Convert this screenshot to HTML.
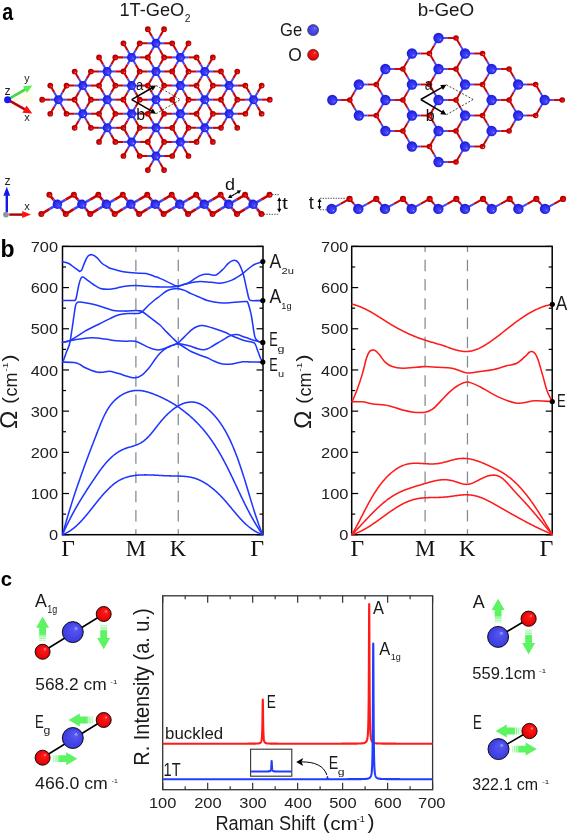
<!DOCTYPE html><html><head><meta charset="utf-8"><title>GeO2 / GeO phonons</title>
<style>html,body{margin:0;padding:0;background:#fff;}svg{display:block;}</style></head><body>
<svg width="569" height="834" viewBox="0 0 569 834">
<defs>
<radialGradient id="ge" cx="0.5" cy="0.5" r="0.5" fx="0.7" fy="0.7">
<stop offset="0" stop-color="#e8e8ff"/><stop offset="0.14" stop-color="#4a4aff"/><stop offset="0.6" stop-color="#3030f2"/><stop offset="1" stop-color="#1c1cc8"/></radialGradient>
<radialGradient id="ox" cx="0.5" cy="0.5" r="0.5" fx="0.68" fy="0.68">
<stop offset="0" stop-color="#ffa0a0"/><stop offset="0.16" stop-color="#e81818"/><stop offset="0.6" stop-color="#d00000"/><stop offset="1" stop-color="#9a0000"/></radialGradient>
<radialGradient id="geL" cx="0.5" cy="0.5" r="0.5" fx="0.5" fy="0.35">
<stop offset="0" stop-color="#8080ff"/><stop offset="0.45" stop-color="#4a4aff"/><stop offset="1" stop-color="#2a2ae0"/></radialGradient>
<radialGradient id="oxL" cx="0.5" cy="0.5" r="0.5" fx="0.5" fy="0.35">
<stop offset="0" stop-color="#ff6060"/><stop offset="0.45" stop-color="#ee0a0a"/><stop offset="1" stop-color="#c00000"/></radialGradient>
<radialGradient id="geC" cx="0.5" cy="0.5" r="0.5" fx="0.68" fy="0.3">
<stop offset="0" stop-color="#b0b0ff"/><stop offset="0.2" stop-color="#5555ee"/><stop offset="1" stop-color="#3a3ae0"/></radialGradient>
<radialGradient id="oxC" cx="0.5" cy="0.5" r="0.5" fx="0.68" fy="0.3">
<stop offset="0" stop-color="#ffb0b0"/><stop offset="0.2" stop-color="#ff1a1a"/><stop offset="1" stop-color="#e00000"/></radialGradient>
</defs>
<rect x="0" y="0" width="569" height="834" fill="#fff"/>
<text transform="translate(2.32,19.67) scale(0.8428,1)" font-size="23.36" font-family='"Liberation Sans", "DejaVu Sans", sans-serif' font-weight="bold" fill="#000">a</text>
<text transform="translate(119.41,15.82) scale(1.0086,1)" font-size="18.08" font-family='"Liberation Sans", "DejaVu Sans", sans-serif' font-weight="normal" fill="#1a1a1a">1T-GeO</text>
<text transform="translate(184.68,22.2) scale(1.0005,1)" font-size="10.31" font-family='"Liberation Sans", "DejaVu Sans", sans-serif' font-weight="normal" fill="#1a1a1a">2</text>
<text transform="translate(417.68,15.71) scale(0.9826,1)" font-size="19.20" font-family='"Liberation Sans", "DejaVu Sans", sans-serif' font-weight="normal" fill="#1a1a1a">b-GeO</text>
<text transform="translate(280.06,36.02) scale(0.9053,1)" font-size="18.36" font-family='"Liberation Sans", "DejaVu Sans", sans-serif' font-weight="normal" fill="#1a1a1a">Ge</text>
<text transform="translate(288.37,60.52) scale(0.9211,1)" font-size="18.93" font-family='"Liberation Sans", "DejaVu Sans", sans-serif' font-weight="normal" fill="#1a1a1a">O</text>
<circle cx="313.1" cy="30.1" r="5.5" fill="url(#geC)" stroke="#222" stroke-width="0.6"/>
<circle cx="313.1" cy="54.8" r="5.5" fill="url(#oxC)" stroke="#222" stroke-width="0.6"/>
<line x1="58.39" y1="99.65" x2="66.52" y2="99.65" stroke="#4444ff" stroke-width="2.05" />
<line x1="66.52" y1="99.65" x2="74.65" y2="99.65" stroke="#cc0000" stroke-width="2.05" />
<line x1="58.39" y1="99.65" x2="62.45" y2="106.69" stroke="#4444ff" stroke-width="2.05" />
<line x1="62.45" y1="106.69" x2="66.52" y2="113.73" stroke="#cc0000" stroke-width="2.05" />
<line x1="58.39" y1="99.65" x2="54.32" y2="106.69" stroke="#4444ff" stroke-width="2.05" />
<line x1="54.32" y1="106.69" x2="50.26" y2="113.73" stroke="#cc0000" stroke-width="2.05" />
<line x1="58.39" y1="99.65" x2="50.26" y2="99.65" stroke="#4444ff" stroke-width="2.05" />
<line x1="50.26" y1="99.65" x2="42.13" y2="99.65" stroke="#cc0000" stroke-width="2.05" />
<line x1="58.39" y1="99.65" x2="54.32" y2="92.61" stroke="#4444ff" stroke-width="2.05" />
<line x1="54.32" y1="92.61" x2="50.26" y2="85.57" stroke="#cc0000" stroke-width="2.05" />
<line x1="58.39" y1="99.65" x2="62.45" y2="92.61" stroke="#4444ff" stroke-width="2.05" />
<line x1="62.45" y1="92.61" x2="66.52" y2="85.57" stroke="#cc0000" stroke-width="2.05" />
<line x1="82.78" y1="113.74" x2="90.91" y2="113.74" stroke="#4444ff" stroke-width="2.05" />
<line x1="90.91" y1="113.74" x2="99.04" y2="113.74" stroke="#cc0000" stroke-width="2.05" />
<line x1="82.78" y1="113.74" x2="86.84" y2="120.78" stroke="#4444ff" stroke-width="2.05" />
<line x1="86.84" y1="120.78" x2="90.91" y2="127.82" stroke="#cc0000" stroke-width="2.05" />
<line x1="82.78" y1="113.74" x2="78.71" y2="120.78" stroke="#4444ff" stroke-width="2.05" />
<line x1="78.71" y1="120.78" x2="74.65" y2="127.82" stroke="#cc0000" stroke-width="2.05" />
<line x1="82.78" y1="113.74" x2="74.65" y2="113.74" stroke="#4444ff" stroke-width="2.05" />
<line x1="74.65" y1="113.74" x2="66.52" y2="113.73" stroke="#cc0000" stroke-width="2.05" />
<line x1="82.78" y1="113.74" x2="78.71" y2="106.7" stroke="#4444ff" stroke-width="2.05" />
<line x1="78.71" y1="106.7" x2="74.65" y2="99.65" stroke="#cc0000" stroke-width="2.05" />
<line x1="82.78" y1="113.74" x2="86.84" y2="106.7" stroke="#4444ff" stroke-width="2.05" />
<line x1="86.84" y1="106.7" x2="90.91" y2="99.66" stroke="#cc0000" stroke-width="2.05" />
<line x1="107.17" y1="127.83" x2="115.3" y2="127.83" stroke="#4444ff" stroke-width="2.05" />
<line x1="115.3" y1="127.83" x2="123.43" y2="127.83" stroke="#cc0000" stroke-width="2.05" />
<line x1="107.17" y1="127.83" x2="111.23" y2="134.87" stroke="#4444ff" stroke-width="2.05" />
<line x1="111.23" y1="134.87" x2="115.3" y2="141.91" stroke="#cc0000" stroke-width="2.05" />
<line x1="107.17" y1="127.83" x2="103.1" y2="134.87" stroke="#4444ff" stroke-width="2.05" />
<line x1="103.1" y1="134.87" x2="99.04" y2="141.91" stroke="#cc0000" stroke-width="2.05" />
<line x1="107.17" y1="127.83" x2="99.04" y2="127.83" stroke="#4444ff" stroke-width="2.05" />
<line x1="99.04" y1="127.83" x2="90.91" y2="127.82" stroke="#cc0000" stroke-width="2.05" />
<line x1="107.17" y1="127.83" x2="103.1" y2="120.79" stroke="#4444ff" stroke-width="2.05" />
<line x1="103.1" y1="120.79" x2="99.04" y2="113.74" stroke="#cc0000" stroke-width="2.05" />
<line x1="107.17" y1="127.83" x2="111.23" y2="120.79" stroke="#4444ff" stroke-width="2.05" />
<line x1="111.23" y1="120.79" x2="115.3" y2="113.75" stroke="#cc0000" stroke-width="2.05" />
<line x1="131.56" y1="141.92" x2="139.69" y2="141.92" stroke="#4444ff" stroke-width="2.05" />
<line x1="139.69" y1="141.92" x2="147.82" y2="141.92" stroke="#cc0000" stroke-width="2.05" />
<line x1="131.56" y1="141.92" x2="135.62" y2="148.96" stroke="#4444ff" stroke-width="2.05" />
<line x1="135.62" y1="148.96" x2="139.69" y2="156" stroke="#cc0000" stroke-width="2.05" />
<line x1="131.56" y1="141.92" x2="127.5" y2="148.96" stroke="#4444ff" stroke-width="2.05" />
<line x1="127.5" y1="148.96" x2="123.43" y2="156" stroke="#cc0000" stroke-width="2.05" />
<line x1="131.56" y1="141.92" x2="123.43" y2="141.92" stroke="#4444ff" stroke-width="2.05" />
<line x1="123.43" y1="141.92" x2="115.3" y2="141.91" stroke="#cc0000" stroke-width="2.05" />
<line x1="131.56" y1="141.92" x2="127.5" y2="134.88" stroke="#4444ff" stroke-width="2.05" />
<line x1="127.5" y1="134.88" x2="123.43" y2="127.83" stroke="#cc0000" stroke-width="2.05" />
<line x1="131.56" y1="141.92" x2="135.62" y2="134.88" stroke="#4444ff" stroke-width="2.05" />
<line x1="135.62" y1="134.88" x2="139.69" y2="127.84" stroke="#cc0000" stroke-width="2.05" />
<line x1="155.95" y1="156.01" x2="164.08" y2="156.01" stroke="#4444ff" stroke-width="2.05" />
<line x1="164.08" y1="156.01" x2="172.21" y2="156.01" stroke="#cc0000" stroke-width="2.05" />
<line x1="155.95" y1="156.01" x2="160.01" y2="163.05" stroke="#4444ff" stroke-width="2.05" />
<line x1="160.01" y1="163.05" x2="164.08" y2="170.09" stroke="#cc0000" stroke-width="2.05" />
<line x1="155.95" y1="156.01" x2="151.88" y2="163.05" stroke="#4444ff" stroke-width="2.05" />
<line x1="151.88" y1="163.05" x2="147.82" y2="170.09" stroke="#cc0000" stroke-width="2.05" />
<line x1="155.95" y1="156.01" x2="147.82" y2="156.01" stroke="#4444ff" stroke-width="2.05" />
<line x1="147.82" y1="156.01" x2="139.69" y2="156" stroke="#cc0000" stroke-width="2.05" />
<line x1="155.95" y1="156.01" x2="151.88" y2="148.97" stroke="#4444ff" stroke-width="2.05" />
<line x1="151.88" y1="148.97" x2="147.82" y2="141.92" stroke="#cc0000" stroke-width="2.05" />
<line x1="155.95" y1="156.01" x2="160.01" y2="148.97" stroke="#4444ff" stroke-width="2.05" />
<line x1="160.01" y1="148.97" x2="164.08" y2="141.93" stroke="#cc0000" stroke-width="2.05" />
<line x1="82.78" y1="85.56" x2="90.91" y2="85.56" stroke="#4444ff" stroke-width="2.05" />
<line x1="90.91" y1="85.56" x2="99.04" y2="85.56" stroke="#cc0000" stroke-width="2.05" />
<line x1="82.78" y1="85.56" x2="86.84" y2="92.61" stroke="#4444ff" stroke-width="2.05" />
<line x1="86.84" y1="92.61" x2="90.91" y2="99.66" stroke="#cc0000" stroke-width="2.05" />
<line x1="82.78" y1="85.56" x2="78.72" y2="92.61" stroke="#4444ff" stroke-width="2.05" />
<line x1="78.72" y1="92.61" x2="74.65" y2="99.65" stroke="#cc0000" stroke-width="2.05" />
<line x1="82.78" y1="85.56" x2="74.65" y2="85.56" stroke="#4444ff" stroke-width="2.05" />
<line x1="74.65" y1="85.56" x2="66.52" y2="85.57" stroke="#cc0000" stroke-width="2.05" />
<line x1="82.78" y1="85.56" x2="78.72" y2="78.52" stroke="#4444ff" stroke-width="2.05" />
<line x1="78.72" y1="78.52" x2="74.65" y2="71.48" stroke="#cc0000" stroke-width="2.05" />
<line x1="82.78" y1="85.56" x2="86.84" y2="78.52" stroke="#4444ff" stroke-width="2.05" />
<line x1="86.84" y1="78.52" x2="90.91" y2="71.48" stroke="#cc0000" stroke-width="2.05" />
<line x1="107.17" y1="99.65" x2="115.3" y2="99.65" stroke="#4444ff" stroke-width="2.05" />
<line x1="115.3" y1="99.65" x2="123.43" y2="99.65" stroke="#cc0000" stroke-width="2.05" />
<line x1="107.17" y1="99.65" x2="111.23" y2="106.7" stroke="#4444ff" stroke-width="2.05" />
<line x1="111.23" y1="106.7" x2="115.3" y2="113.75" stroke="#cc0000" stroke-width="2.05" />
<line x1="107.17" y1="99.65" x2="103.1" y2="106.7" stroke="#4444ff" stroke-width="2.05" />
<line x1="103.1" y1="106.7" x2="99.04" y2="113.74" stroke="#cc0000" stroke-width="2.05" />
<line x1="107.17" y1="99.65" x2="99.04" y2="99.65" stroke="#4444ff" stroke-width="2.05" />
<line x1="99.04" y1="99.65" x2="90.91" y2="99.66" stroke="#cc0000" stroke-width="2.05" />
<line x1="107.17" y1="99.65" x2="103.11" y2="92.61" stroke="#4444ff" stroke-width="2.05" />
<line x1="103.11" y1="92.61" x2="99.04" y2="85.56" stroke="#cc0000" stroke-width="2.05" />
<line x1="107.17" y1="99.65" x2="111.24" y2="92.61" stroke="#4444ff" stroke-width="2.05" />
<line x1="111.24" y1="92.61" x2="115.3" y2="85.57" stroke="#cc0000" stroke-width="2.05" />
<line x1="131.56" y1="113.74" x2="139.69" y2="113.74" stroke="#4444ff" stroke-width="2.05" />
<line x1="139.69" y1="113.74" x2="147.82" y2="113.74" stroke="#cc0000" stroke-width="2.05" />
<line x1="131.56" y1="113.74" x2="135.62" y2="120.79" stroke="#4444ff" stroke-width="2.05" />
<line x1="135.62" y1="120.79" x2="139.69" y2="127.84" stroke="#cc0000" stroke-width="2.05" />
<line x1="131.56" y1="113.74" x2="127.5" y2="120.79" stroke="#4444ff" stroke-width="2.05" />
<line x1="127.5" y1="120.79" x2="123.43" y2="127.83" stroke="#cc0000" stroke-width="2.05" />
<line x1="131.56" y1="113.74" x2="123.43" y2="113.74" stroke="#4444ff" stroke-width="2.05" />
<line x1="123.43" y1="113.74" x2="115.3" y2="113.75" stroke="#cc0000" stroke-width="2.05" />
<line x1="131.56" y1="113.74" x2="127.5" y2="106.7" stroke="#4444ff" stroke-width="2.05" />
<line x1="127.5" y1="106.7" x2="123.43" y2="99.65" stroke="#cc0000" stroke-width="2.05" />
<line x1="131.56" y1="113.74" x2="135.62" y2="106.7" stroke="#4444ff" stroke-width="2.05" />
<line x1="135.62" y1="106.7" x2="139.69" y2="99.66" stroke="#cc0000" stroke-width="2.05" />
<line x1="155.95" y1="127.83" x2="164.08" y2="127.83" stroke="#4444ff" stroke-width="2.05" />
<line x1="164.08" y1="127.83" x2="172.21" y2="127.83" stroke="#cc0000" stroke-width="2.05" />
<line x1="155.95" y1="127.83" x2="160.01" y2="134.88" stroke="#4444ff" stroke-width="2.05" />
<line x1="160.01" y1="134.88" x2="164.08" y2="141.93" stroke="#cc0000" stroke-width="2.05" />
<line x1="155.95" y1="127.83" x2="151.88" y2="134.88" stroke="#4444ff" stroke-width="2.05" />
<line x1="151.88" y1="134.88" x2="147.82" y2="141.92" stroke="#cc0000" stroke-width="2.05" />
<line x1="155.95" y1="127.83" x2="147.82" y2="127.83" stroke="#4444ff" stroke-width="2.05" />
<line x1="147.82" y1="127.83" x2="139.69" y2="127.84" stroke="#cc0000" stroke-width="2.05" />
<line x1="155.95" y1="127.83" x2="151.88" y2="120.79" stroke="#4444ff" stroke-width="2.05" />
<line x1="151.88" y1="120.79" x2="147.82" y2="113.74" stroke="#cc0000" stroke-width="2.05" />
<line x1="155.95" y1="127.83" x2="160.01" y2="120.79" stroke="#4444ff" stroke-width="2.05" />
<line x1="160.01" y1="120.79" x2="164.08" y2="113.75" stroke="#cc0000" stroke-width="2.05" />
<line x1="180.34" y1="141.92" x2="188.47" y2="141.92" stroke="#4444ff" stroke-width="2.05" />
<line x1="188.47" y1="141.92" x2="196.6" y2="141.92" stroke="#cc0000" stroke-width="2.05" />
<line x1="180.34" y1="141.92" x2="184.41" y2="148.96" stroke="#4444ff" stroke-width="2.05" />
<line x1="184.41" y1="148.96" x2="188.47" y2="156" stroke="#cc0000" stroke-width="2.05" />
<line x1="180.34" y1="141.92" x2="176.27" y2="148.97" stroke="#4444ff" stroke-width="2.05" />
<line x1="176.27" y1="148.97" x2="172.21" y2="156.01" stroke="#cc0000" stroke-width="2.05" />
<line x1="180.34" y1="141.92" x2="172.21" y2="141.92" stroke="#4444ff" stroke-width="2.05" />
<line x1="172.21" y1="141.92" x2="164.08" y2="141.93" stroke="#cc0000" stroke-width="2.05" />
<line x1="180.34" y1="141.92" x2="176.27" y2="134.88" stroke="#4444ff" stroke-width="2.05" />
<line x1="176.27" y1="134.88" x2="172.21" y2="127.83" stroke="#cc0000" stroke-width="2.05" />
<line x1="180.34" y1="141.92" x2="184.41" y2="134.88" stroke="#4444ff" stroke-width="2.05" />
<line x1="184.41" y1="134.88" x2="188.47" y2="127.84" stroke="#cc0000" stroke-width="2.05" />
<line x1="107.17" y1="71.47" x2="115.3" y2="71.47" stroke="#4444ff" stroke-width="2.05" />
<line x1="115.3" y1="71.47" x2="123.43" y2="71.47" stroke="#cc0000" stroke-width="2.05" />
<line x1="107.17" y1="71.47" x2="111.23" y2="78.52" stroke="#4444ff" stroke-width="2.05" />
<line x1="111.23" y1="78.52" x2="115.3" y2="85.57" stroke="#cc0000" stroke-width="2.05" />
<line x1="107.17" y1="71.47" x2="103.1" y2="78.52" stroke="#4444ff" stroke-width="2.05" />
<line x1="103.1" y1="78.52" x2="99.04" y2="85.56" stroke="#cc0000" stroke-width="2.05" />
<line x1="107.17" y1="71.47" x2="99.04" y2="71.47" stroke="#4444ff" stroke-width="2.05" />
<line x1="99.04" y1="71.47" x2="90.91" y2="71.48" stroke="#cc0000" stroke-width="2.05" />
<line x1="107.17" y1="71.47" x2="103.1" y2="64.43" stroke="#4444ff" stroke-width="2.05" />
<line x1="103.1" y1="64.43" x2="99.04" y2="57.39" stroke="#cc0000" stroke-width="2.05" />
<line x1="107.17" y1="71.47" x2="111.23" y2="64.43" stroke="#4444ff" stroke-width="2.05" />
<line x1="111.23" y1="64.43" x2="115.3" y2="57.39" stroke="#cc0000" stroke-width="2.05" />
<line x1="131.56" y1="85.56" x2="139.69" y2="85.56" stroke="#4444ff" stroke-width="2.05" />
<line x1="139.69" y1="85.56" x2="147.82" y2="85.56" stroke="#cc0000" stroke-width="2.05" />
<line x1="131.56" y1="85.56" x2="135.62" y2="92.61" stroke="#4444ff" stroke-width="2.05" />
<line x1="135.62" y1="92.61" x2="139.69" y2="99.66" stroke="#cc0000" stroke-width="2.05" />
<line x1="131.56" y1="85.56" x2="127.5" y2="92.61" stroke="#4444ff" stroke-width="2.05" />
<line x1="127.5" y1="92.61" x2="123.43" y2="99.65" stroke="#cc0000" stroke-width="2.05" />
<line x1="131.56" y1="85.56" x2="123.43" y2="85.56" stroke="#4444ff" stroke-width="2.05" />
<line x1="123.43" y1="85.56" x2="115.3" y2="85.57" stroke="#cc0000" stroke-width="2.05" />
<line x1="131.56" y1="85.56" x2="127.5" y2="78.52" stroke="#4444ff" stroke-width="2.05" />
<line x1="127.5" y1="78.52" x2="123.43" y2="71.47" stroke="#cc0000" stroke-width="2.05" />
<line x1="131.56" y1="85.56" x2="135.62" y2="78.52" stroke="#4444ff" stroke-width="2.05" />
<line x1="135.62" y1="78.52" x2="139.69" y2="71.48" stroke="#cc0000" stroke-width="2.05" />
<line x1="155.95" y1="99.65" x2="164.08" y2="99.65" stroke="#4444ff" stroke-width="2.05" />
<line x1="164.08" y1="99.65" x2="172.21" y2="99.65" stroke="#cc0000" stroke-width="2.05" />
<line x1="155.95" y1="99.65" x2="160.01" y2="106.7" stroke="#4444ff" stroke-width="2.05" />
<line x1="160.01" y1="106.7" x2="164.08" y2="113.75" stroke="#cc0000" stroke-width="2.05" />
<line x1="155.95" y1="99.65" x2="151.88" y2="106.7" stroke="#4444ff" stroke-width="2.05" />
<line x1="151.88" y1="106.7" x2="147.82" y2="113.74" stroke="#cc0000" stroke-width="2.05" />
<line x1="155.95" y1="99.65" x2="147.82" y2="99.65" stroke="#4444ff" stroke-width="2.05" />
<line x1="147.82" y1="99.65" x2="139.69" y2="99.66" stroke="#cc0000" stroke-width="2.05" />
<line x1="155.95" y1="99.65" x2="151.88" y2="92.61" stroke="#4444ff" stroke-width="2.05" />
<line x1="151.88" y1="92.61" x2="147.82" y2="85.56" stroke="#cc0000" stroke-width="2.05" />
<line x1="155.95" y1="99.65" x2="160.01" y2="92.61" stroke="#4444ff" stroke-width="2.05" />
<line x1="160.01" y1="92.61" x2="164.08" y2="85.57" stroke="#cc0000" stroke-width="2.05" />
<line x1="180.34" y1="113.74" x2="188.47" y2="113.74" stroke="#4444ff" stroke-width="2.05" />
<line x1="188.47" y1="113.74" x2="196.6" y2="113.74" stroke="#cc0000" stroke-width="2.05" />
<line x1="180.34" y1="113.74" x2="184.4" y2="120.79" stroke="#4444ff" stroke-width="2.05" />
<line x1="184.4" y1="120.79" x2="188.47" y2="127.84" stroke="#cc0000" stroke-width="2.05" />
<line x1="180.34" y1="113.74" x2="176.27" y2="120.79" stroke="#4444ff" stroke-width="2.05" />
<line x1="176.27" y1="120.79" x2="172.21" y2="127.83" stroke="#cc0000" stroke-width="2.05" />
<line x1="180.34" y1="113.74" x2="172.21" y2="113.74" stroke="#4444ff" stroke-width="2.05" />
<line x1="172.21" y1="113.74" x2="164.08" y2="113.75" stroke="#cc0000" stroke-width="2.05" />
<line x1="180.34" y1="113.74" x2="176.27" y2="106.7" stroke="#4444ff" stroke-width="2.05" />
<line x1="176.27" y1="106.7" x2="172.21" y2="99.65" stroke="#cc0000" stroke-width="2.05" />
<line x1="180.34" y1="113.74" x2="184.4" y2="106.7" stroke="#4444ff" stroke-width="2.05" />
<line x1="184.4" y1="106.7" x2="188.47" y2="99.66" stroke="#cc0000" stroke-width="2.05" />
<line x1="204.73" y1="127.83" x2="212.86" y2="127.83" stroke="#4444ff" stroke-width="2.05" />
<line x1="212.86" y1="127.83" x2="220.99" y2="127.83" stroke="#cc0000" stroke-width="2.05" />
<line x1="204.73" y1="127.83" x2="208.79" y2="134.87" stroke="#4444ff" stroke-width="2.05" />
<line x1="208.79" y1="134.87" x2="212.86" y2="141.91" stroke="#cc0000" stroke-width="2.05" />
<line x1="204.73" y1="127.83" x2="200.66" y2="134.88" stroke="#4444ff" stroke-width="2.05" />
<line x1="200.66" y1="134.88" x2="196.6" y2="141.92" stroke="#cc0000" stroke-width="2.05" />
<line x1="204.73" y1="127.83" x2="196.6" y2="127.83" stroke="#4444ff" stroke-width="2.05" />
<line x1="196.6" y1="127.83" x2="188.47" y2="127.84" stroke="#cc0000" stroke-width="2.05" />
<line x1="204.73" y1="127.83" x2="200.66" y2="120.79" stroke="#4444ff" stroke-width="2.05" />
<line x1="200.66" y1="120.79" x2="196.6" y2="113.74" stroke="#cc0000" stroke-width="2.05" />
<line x1="204.73" y1="127.83" x2="208.79" y2="120.79" stroke="#4444ff" stroke-width="2.05" />
<line x1="208.79" y1="120.79" x2="212.86" y2="113.75" stroke="#cc0000" stroke-width="2.05" />
<line x1="131.56" y1="57.38" x2="139.69" y2="57.38" stroke="#4444ff" stroke-width="2.05" />
<line x1="139.69" y1="57.38" x2="147.82" y2="57.38" stroke="#cc0000" stroke-width="2.05" />
<line x1="131.56" y1="57.38" x2="135.62" y2="64.43" stroke="#4444ff" stroke-width="2.05" />
<line x1="135.62" y1="64.43" x2="139.69" y2="71.48" stroke="#cc0000" stroke-width="2.05" />
<line x1="131.56" y1="57.38" x2="127.49" y2="64.42" stroke="#4444ff" stroke-width="2.05" />
<line x1="127.49" y1="64.42" x2="123.43" y2="71.47" stroke="#cc0000" stroke-width="2.05" />
<line x1="131.56" y1="57.38" x2="123.43" y2="57.38" stroke="#4444ff" stroke-width="2.05" />
<line x1="123.43" y1="57.38" x2="115.3" y2="57.39" stroke="#cc0000" stroke-width="2.05" />
<line x1="131.56" y1="57.38" x2="127.49" y2="50.34" stroke="#4444ff" stroke-width="2.05" />
<line x1="127.49" y1="50.34" x2="123.43" y2="43.3" stroke="#cc0000" stroke-width="2.05" />
<line x1="131.56" y1="57.38" x2="135.62" y2="50.34" stroke="#4444ff" stroke-width="2.05" />
<line x1="135.62" y1="50.34" x2="139.69" y2="43.3" stroke="#cc0000" stroke-width="2.05" />
<line x1="155.95" y1="71.47" x2="164.08" y2="71.47" stroke="#4444ff" stroke-width="2.05" />
<line x1="164.08" y1="71.47" x2="172.21" y2="71.47" stroke="#cc0000" stroke-width="2.05" />
<line x1="155.95" y1="71.47" x2="160.01" y2="78.52" stroke="#4444ff" stroke-width="2.05" />
<line x1="160.01" y1="78.52" x2="164.08" y2="85.57" stroke="#cc0000" stroke-width="2.05" />
<line x1="155.95" y1="71.47" x2="151.88" y2="78.52" stroke="#4444ff" stroke-width="2.05" />
<line x1="151.88" y1="78.52" x2="147.82" y2="85.56" stroke="#cc0000" stroke-width="2.05" />
<line x1="155.95" y1="71.47" x2="147.82" y2="71.47" stroke="#4444ff" stroke-width="2.05" />
<line x1="147.82" y1="71.47" x2="139.69" y2="71.48" stroke="#cc0000" stroke-width="2.05" />
<line x1="155.95" y1="71.47" x2="151.88" y2="64.42" stroke="#4444ff" stroke-width="2.05" />
<line x1="151.88" y1="64.42" x2="147.82" y2="57.38" stroke="#cc0000" stroke-width="2.05" />
<line x1="155.95" y1="71.47" x2="160.01" y2="64.43" stroke="#4444ff" stroke-width="2.05" />
<line x1="160.01" y1="64.43" x2="164.08" y2="57.39" stroke="#cc0000" stroke-width="2.05" />
<line x1="180.34" y1="85.56" x2="188.47" y2="85.56" stroke="#4444ff" stroke-width="2.05" />
<line x1="188.47" y1="85.56" x2="196.6" y2="85.56" stroke="#cc0000" stroke-width="2.05" />
<line x1="180.34" y1="85.56" x2="184.4" y2="92.61" stroke="#4444ff" stroke-width="2.05" />
<line x1="184.4" y1="92.61" x2="188.47" y2="99.66" stroke="#cc0000" stroke-width="2.05" />
<line x1="180.34" y1="85.56" x2="176.27" y2="92.61" stroke="#4444ff" stroke-width="2.05" />
<line x1="176.27" y1="92.61" x2="172.21" y2="99.65" stroke="#cc0000" stroke-width="2.05" />
<line x1="180.34" y1="85.56" x2="172.21" y2="85.56" stroke="#4444ff" stroke-width="2.05" />
<line x1="172.21" y1="85.56" x2="164.08" y2="85.57" stroke="#cc0000" stroke-width="2.05" />
<line x1="180.34" y1="85.56" x2="176.27" y2="78.52" stroke="#4444ff" stroke-width="2.05" />
<line x1="176.27" y1="78.52" x2="172.21" y2="71.47" stroke="#cc0000" stroke-width="2.05" />
<line x1="180.34" y1="85.56" x2="184.4" y2="78.52" stroke="#4444ff" stroke-width="2.05" />
<line x1="184.4" y1="78.52" x2="188.47" y2="71.48" stroke="#cc0000" stroke-width="2.05" />
<line x1="204.73" y1="99.65" x2="212.86" y2="99.65" stroke="#4444ff" stroke-width="2.05" />
<line x1="212.86" y1="99.65" x2="220.99" y2="99.65" stroke="#cc0000" stroke-width="2.05" />
<line x1="204.73" y1="99.65" x2="208.79" y2="106.7" stroke="#4444ff" stroke-width="2.05" />
<line x1="208.79" y1="106.7" x2="212.86" y2="113.75" stroke="#cc0000" stroke-width="2.05" />
<line x1="204.73" y1="99.65" x2="200.66" y2="106.7" stroke="#4444ff" stroke-width="2.05" />
<line x1="200.66" y1="106.7" x2="196.6" y2="113.74" stroke="#cc0000" stroke-width="2.05" />
<line x1="204.73" y1="99.65" x2="196.6" y2="99.65" stroke="#4444ff" stroke-width="2.05" />
<line x1="196.6" y1="99.65" x2="188.47" y2="99.66" stroke="#cc0000" stroke-width="2.05" />
<line x1="204.73" y1="99.65" x2="200.66" y2="92.61" stroke="#4444ff" stroke-width="2.05" />
<line x1="200.66" y1="92.61" x2="196.6" y2="85.56" stroke="#cc0000" stroke-width="2.05" />
<line x1="204.73" y1="99.65" x2="208.79" y2="92.61" stroke="#4444ff" stroke-width="2.05" />
<line x1="208.79" y1="92.61" x2="212.86" y2="85.57" stroke="#cc0000" stroke-width="2.05" />
<line x1="229.12" y1="113.74" x2="237.25" y2="113.74" stroke="#4444ff" stroke-width="2.05" />
<line x1="237.25" y1="113.74" x2="245.38" y2="113.74" stroke="#cc0000" stroke-width="2.05" />
<line x1="229.12" y1="113.74" x2="233.18" y2="120.78" stroke="#4444ff" stroke-width="2.05" />
<line x1="233.18" y1="120.78" x2="237.25" y2="127.82" stroke="#cc0000" stroke-width="2.05" />
<line x1="229.12" y1="113.74" x2="225.05" y2="120.79" stroke="#4444ff" stroke-width="2.05" />
<line x1="225.05" y1="120.79" x2="220.99" y2="127.83" stroke="#cc0000" stroke-width="2.05" />
<line x1="229.12" y1="113.74" x2="220.99" y2="113.74" stroke="#4444ff" stroke-width="2.05" />
<line x1="220.99" y1="113.74" x2="212.86" y2="113.75" stroke="#cc0000" stroke-width="2.05" />
<line x1="229.12" y1="113.74" x2="225.05" y2="106.7" stroke="#4444ff" stroke-width="2.05" />
<line x1="225.05" y1="106.7" x2="220.99" y2="99.65" stroke="#cc0000" stroke-width="2.05" />
<line x1="229.12" y1="113.74" x2="233.18" y2="106.7" stroke="#4444ff" stroke-width="2.05" />
<line x1="233.18" y1="106.7" x2="237.25" y2="99.66" stroke="#cc0000" stroke-width="2.05" />
<line x1="155.95" y1="43.29" x2="164.08" y2="43.29" stroke="#4444ff" stroke-width="2.05" />
<line x1="164.08" y1="43.29" x2="172.21" y2="43.29" stroke="#cc0000" stroke-width="2.05" />
<line x1="155.95" y1="43.29" x2="160.01" y2="50.34" stroke="#4444ff" stroke-width="2.05" />
<line x1="160.01" y1="50.34" x2="164.08" y2="57.39" stroke="#cc0000" stroke-width="2.05" />
<line x1="155.95" y1="43.29" x2="151.88" y2="50.34" stroke="#4444ff" stroke-width="2.05" />
<line x1="151.88" y1="50.34" x2="147.82" y2="57.38" stroke="#cc0000" stroke-width="2.05" />
<line x1="155.95" y1="43.29" x2="147.82" y2="43.29" stroke="#4444ff" stroke-width="2.05" />
<line x1="147.82" y1="43.29" x2="139.69" y2="43.3" stroke="#cc0000" stroke-width="2.05" />
<line x1="155.95" y1="43.29" x2="151.88" y2="36.25" stroke="#4444ff" stroke-width="2.05" />
<line x1="151.88" y1="36.25" x2="147.82" y2="29.21" stroke="#cc0000" stroke-width="2.05" />
<line x1="155.95" y1="43.29" x2="160.01" y2="36.25" stroke="#4444ff" stroke-width="2.05" />
<line x1="160.01" y1="36.25" x2="164.08" y2="29.21" stroke="#cc0000" stroke-width="2.05" />
<line x1="180.34" y1="57.38" x2="188.47" y2="57.38" stroke="#4444ff" stroke-width="2.05" />
<line x1="188.47" y1="57.38" x2="196.6" y2="57.38" stroke="#cc0000" stroke-width="2.05" />
<line x1="180.34" y1="57.38" x2="184.4" y2="64.43" stroke="#4444ff" stroke-width="2.05" />
<line x1="184.4" y1="64.43" x2="188.47" y2="71.48" stroke="#cc0000" stroke-width="2.05" />
<line x1="180.34" y1="57.38" x2="176.27" y2="64.42" stroke="#4444ff" stroke-width="2.05" />
<line x1="176.27" y1="64.42" x2="172.21" y2="71.47" stroke="#cc0000" stroke-width="2.05" />
<line x1="180.34" y1="57.38" x2="172.21" y2="57.38" stroke="#4444ff" stroke-width="2.05" />
<line x1="172.21" y1="57.38" x2="164.08" y2="57.39" stroke="#cc0000" stroke-width="2.05" />
<line x1="180.34" y1="57.38" x2="176.27" y2="50.33" stroke="#4444ff" stroke-width="2.05" />
<line x1="176.27" y1="50.33" x2="172.21" y2="43.29" stroke="#cc0000" stroke-width="2.05" />
<line x1="180.34" y1="57.38" x2="184.4" y2="50.34" stroke="#4444ff" stroke-width="2.05" />
<line x1="184.4" y1="50.34" x2="188.47" y2="43.3" stroke="#cc0000" stroke-width="2.05" />
<line x1="204.73" y1="71.47" x2="212.86" y2="71.47" stroke="#4444ff" stroke-width="2.05" />
<line x1="212.86" y1="71.47" x2="220.99" y2="71.47" stroke="#cc0000" stroke-width="2.05" />
<line x1="204.73" y1="71.47" x2="208.79" y2="78.52" stroke="#4444ff" stroke-width="2.05" />
<line x1="208.79" y1="78.52" x2="212.86" y2="85.57" stroke="#cc0000" stroke-width="2.05" />
<line x1="204.73" y1="71.47" x2="200.66" y2="78.52" stroke="#4444ff" stroke-width="2.05" />
<line x1="200.66" y1="78.52" x2="196.6" y2="85.56" stroke="#cc0000" stroke-width="2.05" />
<line x1="204.73" y1="71.47" x2="196.6" y2="71.47" stroke="#4444ff" stroke-width="2.05" />
<line x1="196.6" y1="71.47" x2="188.47" y2="71.48" stroke="#cc0000" stroke-width="2.05" />
<line x1="204.73" y1="71.47" x2="200.66" y2="64.42" stroke="#4444ff" stroke-width="2.05" />
<line x1="200.66" y1="64.42" x2="196.6" y2="57.38" stroke="#cc0000" stroke-width="2.05" />
<line x1="204.73" y1="71.47" x2="208.79" y2="64.43" stroke="#4444ff" stroke-width="2.05" />
<line x1="208.79" y1="64.43" x2="212.86" y2="57.39" stroke="#cc0000" stroke-width="2.05" />
<line x1="229.12" y1="85.56" x2="237.25" y2="85.56" stroke="#4444ff" stroke-width="2.05" />
<line x1="237.25" y1="85.56" x2="245.38" y2="85.56" stroke="#cc0000" stroke-width="2.05" />
<line x1="229.12" y1="85.56" x2="233.19" y2="92.61" stroke="#4444ff" stroke-width="2.05" />
<line x1="233.19" y1="92.61" x2="237.25" y2="99.66" stroke="#cc0000" stroke-width="2.05" />
<line x1="229.12" y1="85.56" x2="225.05" y2="92.61" stroke="#4444ff" stroke-width="2.05" />
<line x1="225.05" y1="92.61" x2="220.99" y2="99.65" stroke="#cc0000" stroke-width="2.05" />
<line x1="229.12" y1="85.56" x2="220.99" y2="85.56" stroke="#4444ff" stroke-width="2.05" />
<line x1="220.99" y1="85.56" x2="212.86" y2="85.57" stroke="#cc0000" stroke-width="2.05" />
<line x1="229.12" y1="85.56" x2="225.06" y2="78.52" stroke="#4444ff" stroke-width="2.05" />
<line x1="225.06" y1="78.52" x2="220.99" y2="71.47" stroke="#cc0000" stroke-width="2.05" />
<line x1="229.12" y1="85.56" x2="233.19" y2="78.52" stroke="#4444ff" stroke-width="2.05" />
<line x1="233.19" y1="78.52" x2="237.25" y2="71.48" stroke="#cc0000" stroke-width="2.05" />
<line x1="253.51" y1="99.65" x2="261.64" y2="99.65" stroke="#4444ff" stroke-width="2.05" />
<line x1="261.64" y1="99.65" x2="269.77" y2="99.65" stroke="#cc0000" stroke-width="2.05" />
<line x1="253.51" y1="99.65" x2="257.57" y2="106.69" stroke="#4444ff" stroke-width="2.05" />
<line x1="257.57" y1="106.69" x2="261.64" y2="113.73" stroke="#cc0000" stroke-width="2.05" />
<line x1="253.51" y1="99.65" x2="249.44" y2="106.7" stroke="#4444ff" stroke-width="2.05" />
<line x1="249.44" y1="106.7" x2="245.38" y2="113.74" stroke="#cc0000" stroke-width="2.05" />
<line x1="253.51" y1="99.65" x2="245.38" y2="99.65" stroke="#4444ff" stroke-width="2.05" />
<line x1="245.38" y1="99.65" x2="237.25" y2="99.66" stroke="#cc0000" stroke-width="2.05" />
<line x1="253.51" y1="99.65" x2="249.44" y2="92.61" stroke="#4444ff" stroke-width="2.05" />
<line x1="249.44" y1="92.61" x2="245.38" y2="85.56" stroke="#cc0000" stroke-width="2.05" />
<line x1="253.51" y1="99.65" x2="257.57" y2="92.61" stroke="#4444ff" stroke-width="2.05" />
<line x1="257.57" y1="92.61" x2="261.64" y2="85.57" stroke="#cc0000" stroke-width="2.05" />
<circle cx="58.39" cy="99.65" r="4.5" fill="url(#ge)"/>
<circle cx="82.78" cy="113.74" r="4.5" fill="url(#ge)"/>
<circle cx="107.17" cy="127.83" r="4.5" fill="url(#ge)"/>
<circle cx="131.56" cy="141.92" r="4.5" fill="url(#ge)"/>
<circle cx="155.95" cy="156.01" r="4.5" fill="url(#ge)"/>
<circle cx="82.78" cy="85.56" r="4.5" fill="url(#ge)"/>
<circle cx="107.17" cy="99.65" r="4.5" fill="url(#ge)"/>
<circle cx="131.56" cy="113.74" r="4.5" fill="url(#ge)"/>
<circle cx="155.95" cy="127.83" r="4.5" fill="url(#ge)"/>
<circle cx="180.34" cy="141.92" r="4.5" fill="url(#ge)"/>
<circle cx="107.17" cy="71.47" r="4.5" fill="url(#ge)"/>
<circle cx="131.56" cy="85.56" r="4.5" fill="url(#ge)"/>
<circle cx="155.95" cy="99.65" r="4.5" fill="url(#ge)"/>
<circle cx="180.34" cy="113.74" r="4.5" fill="url(#ge)"/>
<circle cx="204.73" cy="127.83" r="4.5" fill="url(#ge)"/>
<circle cx="131.56" cy="57.38" r="4.5" fill="url(#ge)"/>
<circle cx="155.95" cy="71.47" r="4.5" fill="url(#ge)"/>
<circle cx="180.34" cy="85.56" r="4.5" fill="url(#ge)"/>
<circle cx="204.73" cy="99.65" r="4.5" fill="url(#ge)"/>
<circle cx="229.12" cy="113.74" r="4.5" fill="url(#ge)"/>
<circle cx="155.95" cy="43.29" r="4.5" fill="url(#ge)"/>
<circle cx="180.34" cy="57.38" r="4.5" fill="url(#ge)"/>
<circle cx="204.73" cy="71.47" r="4.5" fill="url(#ge)"/>
<circle cx="229.12" cy="85.56" r="4.5" fill="url(#ge)"/>
<circle cx="253.51" cy="99.65" r="4.5" fill="url(#ge)"/>
<circle cx="74.65" cy="99.65" r="2.85" fill="url(#ox)"/>
<circle cx="66.52" cy="113.73" r="2.85" fill="url(#ox)"/>
<circle cx="50.26" cy="113.73" r="2.85" fill="url(#ox)"/>
<circle cx="42.13" cy="99.65" r="2.85" fill="url(#ox)"/>
<circle cx="50.26" cy="85.57" r="2.85" fill="url(#ox)"/>
<circle cx="66.52" cy="85.57" r="2.85" fill="url(#ox)"/>
<circle cx="99.04" cy="113.74" r="2.85" fill="url(#ox)"/>
<circle cx="90.91" cy="127.82" r="2.85" fill="url(#ox)"/>
<circle cx="74.65" cy="127.82" r="2.85" fill="url(#ox)"/>
<circle cx="90.91" cy="99.66" r="2.85" fill="url(#ox)"/>
<circle cx="123.43" cy="127.83" r="2.85" fill="url(#ox)"/>
<circle cx="115.3" cy="141.91" r="2.85" fill="url(#ox)"/>
<circle cx="99.04" cy="141.91" r="2.85" fill="url(#ox)"/>
<circle cx="115.3" cy="113.75" r="2.85" fill="url(#ox)"/>
<circle cx="147.82" cy="141.92" r="2.85" fill="url(#ox)"/>
<circle cx="139.69" cy="156" r="2.85" fill="url(#ox)"/>
<circle cx="123.43" cy="156" r="2.85" fill="url(#ox)"/>
<circle cx="139.69" cy="127.84" r="2.85" fill="url(#ox)"/>
<circle cx="172.21" cy="156.01" r="2.85" fill="url(#ox)"/>
<circle cx="164.08" cy="170.09" r="2.85" fill="url(#ox)"/>
<circle cx="147.82" cy="170.09" r="2.85" fill="url(#ox)"/>
<circle cx="164.08" cy="141.93" r="2.85" fill="url(#ox)"/>
<circle cx="99.04" cy="85.56" r="2.85" fill="url(#ox)"/>
<circle cx="74.65" cy="71.48" r="2.85" fill="url(#ox)"/>
<circle cx="90.91" cy="71.48" r="2.85" fill="url(#ox)"/>
<circle cx="123.43" cy="99.65" r="2.85" fill="url(#ox)"/>
<circle cx="115.3" cy="85.57" r="2.85" fill="url(#ox)"/>
<circle cx="147.82" cy="113.74" r="2.85" fill="url(#ox)"/>
<circle cx="139.69" cy="99.66" r="2.85" fill="url(#ox)"/>
<circle cx="172.21" cy="127.83" r="2.85" fill="url(#ox)"/>
<circle cx="164.08" cy="113.75" r="2.85" fill="url(#ox)"/>
<circle cx="196.6" cy="141.92" r="2.85" fill="url(#ox)"/>
<circle cx="188.47" cy="156" r="2.85" fill="url(#ox)"/>
<circle cx="188.47" cy="127.84" r="2.85" fill="url(#ox)"/>
<circle cx="123.43" cy="71.47" r="2.85" fill="url(#ox)"/>
<circle cx="99.04" cy="57.39" r="2.85" fill="url(#ox)"/>
<circle cx="115.3" cy="57.39" r="2.85" fill="url(#ox)"/>
<circle cx="147.82" cy="85.56" r="2.85" fill="url(#ox)"/>
<circle cx="139.69" cy="71.48" r="2.85" fill="url(#ox)"/>
<circle cx="172.21" cy="99.65" r="2.85" fill="url(#ox)"/>
<circle cx="164.08" cy="85.57" r="2.85" fill="url(#ox)"/>
<circle cx="196.6" cy="113.74" r="2.85" fill="url(#ox)"/>
<circle cx="188.47" cy="99.66" r="2.85" fill="url(#ox)"/>
<circle cx="220.99" cy="127.83" r="2.85" fill="url(#ox)"/>
<circle cx="212.86" cy="141.91" r="2.85" fill="url(#ox)"/>
<circle cx="212.86" cy="113.75" r="2.85" fill="url(#ox)"/>
<circle cx="147.82" cy="57.38" r="2.85" fill="url(#ox)"/>
<circle cx="123.43" cy="43.3" r="2.85" fill="url(#ox)"/>
<circle cx="139.69" cy="43.3" r="2.85" fill="url(#ox)"/>
<circle cx="172.21" cy="71.47" r="2.85" fill="url(#ox)"/>
<circle cx="164.08" cy="57.39" r="2.85" fill="url(#ox)"/>
<circle cx="196.6" cy="85.56" r="2.85" fill="url(#ox)"/>
<circle cx="188.47" cy="71.48" r="2.85" fill="url(#ox)"/>
<circle cx="220.99" cy="99.65" r="2.85" fill="url(#ox)"/>
<circle cx="212.86" cy="85.57" r="2.85" fill="url(#ox)"/>
<circle cx="245.38" cy="113.74" r="2.85" fill="url(#ox)"/>
<circle cx="237.25" cy="127.82" r="2.85" fill="url(#ox)"/>
<circle cx="237.25" cy="99.66" r="2.85" fill="url(#ox)"/>
<circle cx="172.21" cy="43.29" r="2.85" fill="url(#ox)"/>
<circle cx="147.82" cy="29.21" r="2.85" fill="url(#ox)"/>
<circle cx="164.08" cy="29.21" r="2.85" fill="url(#ox)"/>
<circle cx="196.6" cy="57.38" r="2.85" fill="url(#ox)"/>
<circle cx="188.47" cy="43.3" r="2.85" fill="url(#ox)"/>
<circle cx="220.99" cy="71.47" r="2.85" fill="url(#ox)"/>
<circle cx="212.86" cy="57.39" r="2.85" fill="url(#ox)"/>
<circle cx="245.38" cy="85.56" r="2.85" fill="url(#ox)"/>
<circle cx="237.25" cy="71.48" r="2.85" fill="url(#ox)"/>
<circle cx="269.77" cy="99.65" r="2.85" fill="url(#ox)"/>
<circle cx="261.64" cy="113.73" r="2.85" fill="url(#ox)"/>
<circle cx="261.64" cy="85.57" r="2.85" fill="url(#ox)"/>
<line x1="156.09" y1="85.51" x2="180.48" y2="99.6" stroke="#333" stroke-width="0.9" stroke-dasharray="2,1.6"/>
<line x1="156.09" y1="113.69" x2="180.48" y2="99.6" stroke="#333" stroke-width="0.9" stroke-dasharray="2,1.6"/>
<line x1="131.7" y1="99.6" x2="151.76" y2="88.01" stroke="#000" stroke-width="1.5" />
<polygon points="156.09,85.51 152.73,90.69 149.93,85.84" fill="#000"/>
<line x1="131.7" y1="99.6" x2="151.76" y2="111.19" stroke="#000" stroke-width="1.5" />
<polygon points="156.09,113.69 149.93,113.36 152.73,108.51" fill="#000"/>
<text transform="translate(135.95,90.25) scale(0.8609,1)" font-size="15.15" font-family='"Liberation Sans", "DejaVu Sans", sans-serif' font-weight="normal" fill="#111">a</text>
<text transform="translate(136.37,120.24) scale(0.9482,1)" font-size="16.89" font-family='"Liberation Sans", "DejaVu Sans", sans-serif' font-weight="normal" fill="#111">b</text>
<polygon points="10,98.5 33,88 33,104 12,101" fill="#fffbe6" opacity="0.8"/>
<line x1="7.6" y1="99.7" x2="25.38" y2="89.41" stroke="#3fd83f" stroke-width="2.5" />
<polygon points="32.3,85.4 26.95,93.12 22.94,86.2" fill="#55ee55"/>
<line x1="7.6" y1="99.7" x2="24.89" y2="109.43" stroke="#c00000" stroke-width="2.5" />
<polygon points="32.3,113.6 22.4,112.85 26.52,105.53" fill="#ff1010"/>
<circle cx="7.6" cy="99.7" r="3.5" fill="#1a1af0"/>
<text transform="translate(4.61,94.6) scale(1.0235,1)" font-size="11.92" font-family='"Liberation Sans", "DejaVu Sans", sans-serif' font-weight="normal" fill="#222">z</text>
<text transform="translate(24.37,82.4) scale(0.9258,1)" font-size="11.55" font-family='"Liberation Sans", "DejaVu Sans", sans-serif' font-weight="normal" fill="#222">y</text>
<text transform="translate(24.28,120.6) scale(0.9763,1)" font-size="11.36" font-family='"Liberation Sans", "DejaVu Sans", sans-serif' font-weight="normal" fill="#222">x</text>
<line x1="57.4" y1="204.3" x2="53.4" y2="199.55" stroke="#4444ff" stroke-width="2.6" />
<line x1="53.4" y1="199.55" x2="49.4" y2="194.8" stroke="#cc0000" stroke-width="2.6" />
<line x1="57.4" y1="204.3" x2="65.63" y2="199.55" stroke="#4444ff" stroke-width="2.6" />
<line x1="65.63" y1="199.55" x2="73.86" y2="194.8" stroke="#cc0000" stroke-width="2.6" />
<line x1="57.4" y1="204.3" x2="49.35" y2="209.2" stroke="#4444ff" stroke-width="2.6" />
<line x1="49.35" y1="209.2" x2="41.3" y2="214.1" stroke="#cc0000" stroke-width="2.6" />
<line x1="57.4" y1="204.3" x2="61.58" y2="209.2" stroke="#4444ff" stroke-width="2.6" />
<line x1="61.58" y1="209.2" x2="65.76" y2="214.1" stroke="#cc0000" stroke-width="2.6" />
<line x1="81.86" y1="204.3" x2="77.86" y2="199.55" stroke="#4444ff" stroke-width="2.6" />
<line x1="77.86" y1="199.55" x2="73.86" y2="194.8" stroke="#cc0000" stroke-width="2.6" />
<line x1="81.86" y1="204.3" x2="90.09" y2="199.55" stroke="#4444ff" stroke-width="2.6" />
<line x1="90.09" y1="199.55" x2="98.32" y2="194.8" stroke="#cc0000" stroke-width="2.6" />
<line x1="81.86" y1="204.3" x2="73.81" y2="209.2" stroke="#4444ff" stroke-width="2.6" />
<line x1="73.81" y1="209.2" x2="65.76" y2="214.1" stroke="#cc0000" stroke-width="2.6" />
<line x1="81.86" y1="204.3" x2="86.04" y2="209.2" stroke="#4444ff" stroke-width="2.6" />
<line x1="86.04" y1="209.2" x2="90.22" y2="214.1" stroke="#cc0000" stroke-width="2.6" />
<line x1="106.32" y1="204.3" x2="102.32" y2="199.55" stroke="#4444ff" stroke-width="2.6" />
<line x1="102.32" y1="199.55" x2="98.32" y2="194.8" stroke="#cc0000" stroke-width="2.6" />
<line x1="106.32" y1="204.3" x2="114.55" y2="199.55" stroke="#4444ff" stroke-width="2.6" />
<line x1="114.55" y1="199.55" x2="122.78" y2="194.8" stroke="#cc0000" stroke-width="2.6" />
<line x1="106.32" y1="204.3" x2="98.27" y2="209.2" stroke="#4444ff" stroke-width="2.6" />
<line x1="98.27" y1="209.2" x2="90.22" y2="214.1" stroke="#cc0000" stroke-width="2.6" />
<line x1="106.32" y1="204.3" x2="110.5" y2="209.2" stroke="#4444ff" stroke-width="2.6" />
<line x1="110.5" y1="209.2" x2="114.68" y2="214.1" stroke="#cc0000" stroke-width="2.6" />
<line x1="130.78" y1="204.3" x2="126.78" y2="199.55" stroke="#4444ff" stroke-width="2.6" />
<line x1="126.78" y1="199.55" x2="122.78" y2="194.8" stroke="#cc0000" stroke-width="2.6" />
<line x1="130.78" y1="204.3" x2="139.01" y2="199.55" stroke="#4444ff" stroke-width="2.6" />
<line x1="139.01" y1="199.55" x2="147.24" y2="194.8" stroke="#cc0000" stroke-width="2.6" />
<line x1="130.78" y1="204.3" x2="122.73" y2="209.2" stroke="#4444ff" stroke-width="2.6" />
<line x1="122.73" y1="209.2" x2="114.68" y2="214.1" stroke="#cc0000" stroke-width="2.6" />
<line x1="130.78" y1="204.3" x2="134.96" y2="209.2" stroke="#4444ff" stroke-width="2.6" />
<line x1="134.96" y1="209.2" x2="139.14" y2="214.1" stroke="#cc0000" stroke-width="2.6" />
<line x1="155.24" y1="204.3" x2="151.24" y2="199.55" stroke="#4444ff" stroke-width="2.6" />
<line x1="151.24" y1="199.55" x2="147.24" y2="194.8" stroke="#cc0000" stroke-width="2.6" />
<line x1="155.24" y1="204.3" x2="163.47" y2="199.55" stroke="#4444ff" stroke-width="2.6" />
<line x1="163.47" y1="199.55" x2="171.7" y2="194.8" stroke="#cc0000" stroke-width="2.6" />
<line x1="155.24" y1="204.3" x2="147.19" y2="209.2" stroke="#4444ff" stroke-width="2.6" />
<line x1="147.19" y1="209.2" x2="139.14" y2="214.1" stroke="#cc0000" stroke-width="2.6" />
<line x1="155.24" y1="204.3" x2="159.42" y2="209.2" stroke="#4444ff" stroke-width="2.6" />
<line x1="159.42" y1="209.2" x2="163.6" y2="214.1" stroke="#cc0000" stroke-width="2.6" />
<line x1="179.7" y1="204.3" x2="175.7" y2="199.55" stroke="#4444ff" stroke-width="2.6" />
<line x1="175.7" y1="199.55" x2="171.7" y2="194.8" stroke="#cc0000" stroke-width="2.6" />
<line x1="179.7" y1="204.3" x2="187.93" y2="199.55" stroke="#4444ff" stroke-width="2.6" />
<line x1="187.93" y1="199.55" x2="196.16" y2="194.8" stroke="#cc0000" stroke-width="2.6" />
<line x1="179.7" y1="204.3" x2="171.65" y2="209.2" stroke="#4444ff" stroke-width="2.6" />
<line x1="171.65" y1="209.2" x2="163.6" y2="214.1" stroke="#cc0000" stroke-width="2.6" />
<line x1="179.7" y1="204.3" x2="183.88" y2="209.2" stroke="#4444ff" stroke-width="2.6" />
<line x1="183.88" y1="209.2" x2="188.06" y2="214.1" stroke="#cc0000" stroke-width="2.6" />
<line x1="204.16" y1="204.3" x2="200.16" y2="199.55" stroke="#4444ff" stroke-width="2.6" />
<line x1="200.16" y1="199.55" x2="196.16" y2="194.8" stroke="#cc0000" stroke-width="2.6" />
<line x1="204.16" y1="204.3" x2="212.39" y2="199.55" stroke="#4444ff" stroke-width="2.6" />
<line x1="212.39" y1="199.55" x2="220.62" y2="194.8" stroke="#cc0000" stroke-width="2.6" />
<line x1="204.16" y1="204.3" x2="196.11" y2="209.2" stroke="#4444ff" stroke-width="2.6" />
<line x1="196.11" y1="209.2" x2="188.06" y2="214.1" stroke="#cc0000" stroke-width="2.6" />
<line x1="204.16" y1="204.3" x2="208.34" y2="209.2" stroke="#4444ff" stroke-width="2.6" />
<line x1="208.34" y1="209.2" x2="212.52" y2="214.1" stroke="#cc0000" stroke-width="2.6" />
<line x1="228.62" y1="204.3" x2="224.62" y2="199.55" stroke="#4444ff" stroke-width="2.6" />
<line x1="224.62" y1="199.55" x2="220.62" y2="194.8" stroke="#cc0000" stroke-width="2.6" />
<line x1="228.62" y1="204.3" x2="236.85" y2="199.55" stroke="#4444ff" stroke-width="2.6" />
<line x1="236.85" y1="199.55" x2="245.08" y2="194.8" stroke="#cc0000" stroke-width="2.6" />
<line x1="228.62" y1="204.3" x2="220.57" y2="209.2" stroke="#4444ff" stroke-width="2.6" />
<line x1="220.57" y1="209.2" x2="212.52" y2="214.1" stroke="#cc0000" stroke-width="2.6" />
<line x1="228.62" y1="204.3" x2="232.8" y2="209.2" stroke="#4444ff" stroke-width="2.6" />
<line x1="232.8" y1="209.2" x2="236.98" y2="214.1" stroke="#cc0000" stroke-width="2.6" />
<line x1="253.08" y1="204.3" x2="249.08" y2="199.55" stroke="#4444ff" stroke-width="2.6" />
<line x1="249.08" y1="199.55" x2="245.08" y2="194.8" stroke="#cc0000" stroke-width="2.6" />
<line x1="253.08" y1="204.3" x2="261.31" y2="199.55" stroke="#4444ff" stroke-width="2.6" />
<line x1="261.31" y1="199.55" x2="269.54" y2="194.8" stroke="#cc0000" stroke-width="2.6" />
<line x1="253.08" y1="204.3" x2="245.03" y2="209.2" stroke="#4444ff" stroke-width="2.6" />
<line x1="245.03" y1="209.2" x2="236.98" y2="214.1" stroke="#cc0000" stroke-width="2.6" />
<line x1="253.08" y1="204.3" x2="257.26" y2="209.2" stroke="#4444ff" stroke-width="2.6" />
<line x1="257.26" y1="209.2" x2="261.44" y2="214.1" stroke="#cc0000" stroke-width="2.6" />
<circle cx="57.4" cy="204.3" r="4.7" fill="url(#ge)"/>
<circle cx="81.86" cy="204.3" r="4.7" fill="url(#ge)"/>
<circle cx="106.32" cy="204.3" r="4.7" fill="url(#ge)"/>
<circle cx="130.78" cy="204.3" r="4.7" fill="url(#ge)"/>
<circle cx="155.24" cy="204.3" r="4.7" fill="url(#ge)"/>
<circle cx="179.7" cy="204.3" r="4.7" fill="url(#ge)"/>
<circle cx="204.16" cy="204.3" r="4.7" fill="url(#ge)"/>
<circle cx="228.62" cy="204.3" r="4.7" fill="url(#ge)"/>
<circle cx="253.08" cy="204.3" r="4.7" fill="url(#ge)"/>
<circle cx="49.4" cy="194.8" r="3" fill="url(#ox)"/>
<circle cx="73.86" cy="194.8" r="3" fill="url(#ox)"/>
<circle cx="98.32" cy="194.8" r="3" fill="url(#ox)"/>
<circle cx="122.78" cy="194.8" r="3" fill="url(#ox)"/>
<circle cx="147.24" cy="194.8" r="3" fill="url(#ox)"/>
<circle cx="171.7" cy="194.8" r="3" fill="url(#ox)"/>
<circle cx="196.16" cy="194.8" r="3" fill="url(#ox)"/>
<circle cx="220.62" cy="194.8" r="3" fill="url(#ox)"/>
<circle cx="245.08" cy="194.8" r="3" fill="url(#ox)"/>
<circle cx="269.54" cy="194.8" r="3" fill="url(#ox)"/>
<circle cx="41.3" cy="214.1" r="3" fill="url(#ox)"/>
<circle cx="65.76" cy="214.1" r="3" fill="url(#ox)"/>
<circle cx="90.22" cy="214.1" r="3" fill="url(#ox)"/>
<circle cx="114.68" cy="214.1" r="3" fill="url(#ox)"/>
<circle cx="139.14" cy="214.1" r="3" fill="url(#ox)"/>
<circle cx="163.6" cy="214.1" r="3" fill="url(#ox)"/>
<circle cx="188.06" cy="214.1" r="3" fill="url(#ox)"/>
<circle cx="212.52" cy="214.1" r="3" fill="url(#ox)"/>
<circle cx="236.98" cy="214.1" r="3" fill="url(#ox)"/>
<circle cx="261.44" cy="214.1" r="3" fill="url(#ox)"/>
<line x1="234.6" y1="194.2" x2="238.27" y2="192" stroke="#000" stroke-width="1.1" />
<polygon points="241.1,190.3 238.92,194.06 236.76,190.45" fill="#000"/>
<line x1="234.6" y1="194.2" x2="230.84" y2="196.42" stroke="#000" stroke-width="1.1" />
<polygon points="228,198.1 230.2,194.36 232.34,197.97" fill="#000"/>
<text transform="translate(225.04,190.13) scale(1.0582,1)" font-size="17.02" font-family='"Liberation Sans", "DejaVu Sans", sans-serif' font-weight="normal" fill="#111">d</text>
<line x1="272.2" y1="194.6" x2="279" y2="194.6" stroke="#222" stroke-width="0.8" stroke-dasharray="1.4,1.2"/>
<line x1="263.8" y1="214.3" x2="279" y2="214.3" stroke="#222" stroke-width="0.8" stroke-dasharray="1.4,1.2"/>
<line x1="279.3" y1="204.9" x2="279.3" y2="200.6" stroke="#000" stroke-width="1.1" />
<polygon points="279.3,197.3 281.4,201.1 277.2,201.1" fill="#000"/>
<line x1="279.3" y1="204.9" x2="279.3" y2="209.3" stroke="#000" stroke-width="1.1" />
<polygon points="279.3,212.6 277.2,208.8 281.4,208.8" fill="#000"/>
<text transform="translate(281.98,209.37) scale(1.2811,1)" font-size="16.51" font-family='"Liberation Sans", "DejaVu Sans", sans-serif' font-weight="normal" fill="#111">t</text>
<line x1="6.8" y1="212" x2="6.8" y2="195.2" stroke="#1515ee" stroke-width="2.4" />
<polygon points="6.8,186.7 10.2,195.7 3.4,195.7" fill="#1515ee"/>
<line x1="9.3" y1="214.6" x2="22.7" y2="214.6" stroke="#aa0000" stroke-width="2.4" />
<polygon points="31,214.6 22.2,218.1 22.2,211.1" fill="#ff1010"/>
<circle cx="6.0" cy="214.6" r="2.9" fill="#8a9aa0"/>
<text transform="translate(4.4,185.1) scale(0.9965,1)" font-size="12.49" font-family='"Liberation Sans", "DejaVu Sans", sans-serif' font-weight="normal" fill="#222">z</text>
<text transform="translate(24.28,209.8) scale(0.9763,1)" font-size="11.36" font-family='"Liberation Sans", "DejaVu Sans", sans-serif' font-weight="normal" fill="#222">x</text>
<line x1="332.3" y1="100" x2="341.05" y2="100" stroke="#4444ff" stroke-width="1.9" />
<line x1="341.05" y1="100" x2="349.8" y2="100" stroke="#cc0000" stroke-width="1.9" />
<line x1="358.85" y1="84.5" x2="354.33" y2="92.25" stroke="#4444ff" stroke-width="1.9" />
<line x1="354.33" y1="92.25" x2="349.8" y2="100" stroke="#cc0000" stroke-width="1.9" />
<line x1="358.85" y1="115.5" x2="354.33" y2="107.75" stroke="#4444ff" stroke-width="1.9" />
<line x1="354.33" y1="107.75" x2="349.8" y2="100" stroke="#cc0000" stroke-width="1.9" />
<line x1="358.85" y1="115.5" x2="367.6" y2="115.5" stroke="#4444ff" stroke-width="1.9" />
<line x1="367.6" y1="115.5" x2="376.35" y2="115.5" stroke="#cc0000" stroke-width="1.9" />
<line x1="385.4" y1="100" x2="380.88" y2="107.75" stroke="#4444ff" stroke-width="1.9" />
<line x1="380.88" y1="107.75" x2="376.35" y2="115.5" stroke="#cc0000" stroke-width="1.9" />
<line x1="385.4" y1="131" x2="380.88" y2="123.25" stroke="#4444ff" stroke-width="1.9" />
<line x1="380.88" y1="123.25" x2="376.35" y2="115.5" stroke="#cc0000" stroke-width="1.9" />
<line x1="385.4" y1="131" x2="394.15" y2="131" stroke="#4444ff" stroke-width="1.9" />
<line x1="394.15" y1="131" x2="402.9" y2="131" stroke="#cc0000" stroke-width="1.9" />
<line x1="411.95" y1="115.5" x2="407.43" y2="123.25" stroke="#4444ff" stroke-width="1.9" />
<line x1="407.43" y1="123.25" x2="402.9" y2="131" stroke="#cc0000" stroke-width="1.9" />
<line x1="411.95" y1="146.5" x2="407.43" y2="138.75" stroke="#4444ff" stroke-width="1.9" />
<line x1="407.43" y1="138.75" x2="402.9" y2="131" stroke="#cc0000" stroke-width="1.9" />
<line x1="411.95" y1="146.5" x2="420.7" y2="146.5" stroke="#4444ff" stroke-width="1.9" />
<line x1="420.7" y1="146.5" x2="429.45" y2="146.5" stroke="#cc0000" stroke-width="1.9" />
<line x1="438.5" y1="131" x2="433.98" y2="138.75" stroke="#4444ff" stroke-width="1.9" />
<line x1="433.98" y1="138.75" x2="429.45" y2="146.5" stroke="#cc0000" stroke-width="1.9" />
<line x1="438.5" y1="162" x2="433.98" y2="154.25" stroke="#4444ff" stroke-width="1.9" />
<line x1="433.98" y1="154.25" x2="429.45" y2="146.5" stroke="#cc0000" stroke-width="1.9" />
<line x1="438.5" y1="162" x2="447.25" y2="162" stroke="#4444ff" stroke-width="1.9" />
<line x1="447.25" y1="162" x2="456" y2="162" stroke="#cc0000" stroke-width="1.9" />
<line x1="465.05" y1="146.5" x2="460.52" y2="154.25" stroke="#4444ff" stroke-width="1.9" />
<line x1="460.52" y1="154.25" x2="456" y2="162" stroke="#cc0000" stroke-width="1.9" />
<line x1="358.85" y1="84.5" x2="367.6" y2="84.5" stroke="#4444ff" stroke-width="1.9" />
<line x1="367.6" y1="84.5" x2="376.35" y2="84.5" stroke="#cc0000" stroke-width="1.9" />
<line x1="385.4" y1="69" x2="380.88" y2="76.75" stroke="#4444ff" stroke-width="1.9" />
<line x1="380.88" y1="76.75" x2="376.35" y2="84.5" stroke="#cc0000" stroke-width="1.9" />
<line x1="385.4" y1="100" x2="380.88" y2="92.25" stroke="#4444ff" stroke-width="1.9" />
<line x1="380.88" y1="92.25" x2="376.35" y2="84.5" stroke="#cc0000" stroke-width="1.9" />
<line x1="385.4" y1="100" x2="394.15" y2="100" stroke="#4444ff" stroke-width="1.9" />
<line x1="394.15" y1="100" x2="402.9" y2="100" stroke="#cc0000" stroke-width="1.9" />
<line x1="411.95" y1="84.5" x2="407.43" y2="92.25" stroke="#4444ff" stroke-width="1.9" />
<line x1="407.43" y1="92.25" x2="402.9" y2="100" stroke="#cc0000" stroke-width="1.9" />
<line x1="411.95" y1="115.5" x2="407.43" y2="107.75" stroke="#4444ff" stroke-width="1.9" />
<line x1="407.43" y1="107.75" x2="402.9" y2="100" stroke="#cc0000" stroke-width="1.9" />
<line x1="411.95" y1="115.5" x2="420.7" y2="115.5" stroke="#4444ff" stroke-width="1.9" />
<line x1="420.7" y1="115.5" x2="429.45" y2="115.5" stroke="#cc0000" stroke-width="1.9" />
<line x1="438.5" y1="100" x2="433.98" y2="107.75" stroke="#4444ff" stroke-width="1.9" />
<line x1="433.98" y1="107.75" x2="429.45" y2="115.5" stroke="#cc0000" stroke-width="1.9" />
<line x1="438.5" y1="131" x2="433.98" y2="123.25" stroke="#4444ff" stroke-width="1.9" />
<line x1="433.98" y1="123.25" x2="429.45" y2="115.5" stroke="#cc0000" stroke-width="1.9" />
<line x1="438.5" y1="131" x2="447.25" y2="131" stroke="#4444ff" stroke-width="1.9" />
<line x1="447.25" y1="131" x2="456" y2="131" stroke="#cc0000" stroke-width="1.9" />
<line x1="465.05" y1="115.5" x2="460.53" y2="123.25" stroke="#4444ff" stroke-width="1.9" />
<line x1="460.53" y1="123.25" x2="456" y2="131" stroke="#cc0000" stroke-width="1.9" />
<line x1="465.05" y1="146.5" x2="460.52" y2="138.75" stroke="#4444ff" stroke-width="1.9" />
<line x1="460.52" y1="138.75" x2="456" y2="131" stroke="#cc0000" stroke-width="1.9" />
<line x1="465.05" y1="146.5" x2="473.8" y2="146.5" stroke="#4444ff" stroke-width="1.9" />
<line x1="473.8" y1="146.5" x2="482.55" y2="146.5" stroke="#cc0000" stroke-width="1.9" />
<line x1="491.6" y1="131" x2="487.08" y2="138.75" stroke="#4444ff" stroke-width="1.9" />
<line x1="487.08" y1="138.75" x2="482.55" y2="146.5" stroke="#cc0000" stroke-width="1.9" />
<line x1="385.4" y1="69" x2="394.15" y2="69" stroke="#4444ff" stroke-width="1.9" />
<line x1="394.15" y1="69" x2="402.9" y2="69" stroke="#cc0000" stroke-width="1.9" />
<line x1="411.95" y1="53.5" x2="407.43" y2="61.25" stroke="#4444ff" stroke-width="1.9" />
<line x1="407.43" y1="61.25" x2="402.9" y2="69" stroke="#cc0000" stroke-width="1.9" />
<line x1="411.95" y1="84.5" x2="407.43" y2="76.75" stroke="#4444ff" stroke-width="1.9" />
<line x1="407.43" y1="76.75" x2="402.9" y2="69" stroke="#cc0000" stroke-width="1.9" />
<line x1="411.95" y1="84.5" x2="420.7" y2="84.5" stroke="#4444ff" stroke-width="1.9" />
<line x1="420.7" y1="84.5" x2="429.45" y2="84.5" stroke="#cc0000" stroke-width="1.9" />
<line x1="438.5" y1="69" x2="433.98" y2="76.75" stroke="#4444ff" stroke-width="1.9" />
<line x1="433.98" y1="76.75" x2="429.45" y2="84.5" stroke="#cc0000" stroke-width="1.9" />
<line x1="438.5" y1="100" x2="433.98" y2="92.25" stroke="#4444ff" stroke-width="1.9" />
<line x1="433.98" y1="92.25" x2="429.45" y2="84.5" stroke="#cc0000" stroke-width="1.9" />
<line x1="438.5" y1="100" x2="447.25" y2="100" stroke="#4444ff" stroke-width="1.9" />
<line x1="447.25" y1="100" x2="456" y2="100" stroke="#cc0000" stroke-width="1.9" />
<line x1="465.05" y1="84.5" x2="460.53" y2="92.25" stroke="#4444ff" stroke-width="1.9" />
<line x1="460.53" y1="92.25" x2="456" y2="100" stroke="#cc0000" stroke-width="1.9" />
<line x1="465.05" y1="115.5" x2="460.53" y2="107.75" stroke="#4444ff" stroke-width="1.9" />
<line x1="460.53" y1="107.75" x2="456" y2="100" stroke="#cc0000" stroke-width="1.9" />
<line x1="465.05" y1="115.5" x2="473.8" y2="115.5" stroke="#4444ff" stroke-width="1.9" />
<line x1="473.8" y1="115.5" x2="482.55" y2="115.5" stroke="#cc0000" stroke-width="1.9" />
<line x1="491.6" y1="100" x2="487.08" y2="107.75" stroke="#4444ff" stroke-width="1.9" />
<line x1="487.08" y1="107.75" x2="482.55" y2="115.5" stroke="#cc0000" stroke-width="1.9" />
<line x1="491.6" y1="131" x2="487.08" y2="123.25" stroke="#4444ff" stroke-width="1.9" />
<line x1="487.08" y1="123.25" x2="482.55" y2="115.5" stroke="#cc0000" stroke-width="1.9" />
<line x1="491.6" y1="131" x2="500.35" y2="131" stroke="#4444ff" stroke-width="1.9" />
<line x1="500.35" y1="131" x2="509.1" y2="131" stroke="#cc0000" stroke-width="1.9" />
<line x1="518.15" y1="115.5" x2="513.62" y2="123.25" stroke="#4444ff" stroke-width="1.9" />
<line x1="513.62" y1="123.25" x2="509.1" y2="131" stroke="#cc0000" stroke-width="1.9" />
<line x1="411.95" y1="53.5" x2="420.7" y2="53.5" stroke="#4444ff" stroke-width="1.9" />
<line x1="420.7" y1="53.5" x2="429.45" y2="53.5" stroke="#cc0000" stroke-width="1.9" />
<line x1="438.5" y1="38" x2="433.98" y2="45.75" stroke="#4444ff" stroke-width="1.9" />
<line x1="433.98" y1="45.75" x2="429.45" y2="53.5" stroke="#cc0000" stroke-width="1.9" />
<line x1="438.5" y1="69" x2="433.98" y2="61.25" stroke="#4444ff" stroke-width="1.9" />
<line x1="433.98" y1="61.25" x2="429.45" y2="53.5" stroke="#cc0000" stroke-width="1.9" />
<line x1="438.5" y1="69" x2="447.25" y2="69" stroke="#4444ff" stroke-width="1.9" />
<line x1="447.25" y1="69" x2="456" y2="69" stroke="#cc0000" stroke-width="1.9" />
<line x1="465.05" y1="53.5" x2="460.53" y2="61.25" stroke="#4444ff" stroke-width="1.9" />
<line x1="460.53" y1="61.25" x2="456" y2="69" stroke="#cc0000" stroke-width="1.9" />
<line x1="465.05" y1="84.5" x2="460.53" y2="76.75" stroke="#4444ff" stroke-width="1.9" />
<line x1="460.53" y1="76.75" x2="456" y2="69" stroke="#cc0000" stroke-width="1.9" />
<line x1="465.05" y1="84.5" x2="473.8" y2="84.5" stroke="#4444ff" stroke-width="1.9" />
<line x1="473.8" y1="84.5" x2="482.55" y2="84.5" stroke="#cc0000" stroke-width="1.9" />
<line x1="491.6" y1="69" x2="487.08" y2="76.75" stroke="#4444ff" stroke-width="1.9" />
<line x1="487.08" y1="76.75" x2="482.55" y2="84.5" stroke="#cc0000" stroke-width="1.9" />
<line x1="491.6" y1="100" x2="487.08" y2="92.25" stroke="#4444ff" stroke-width="1.9" />
<line x1="487.08" y1="92.25" x2="482.55" y2="84.5" stroke="#cc0000" stroke-width="1.9" />
<line x1="491.6" y1="100" x2="500.35" y2="100" stroke="#4444ff" stroke-width="1.9" />
<line x1="500.35" y1="100" x2="509.1" y2="100" stroke="#cc0000" stroke-width="1.9" />
<line x1="518.15" y1="84.5" x2="513.62" y2="92.25" stroke="#4444ff" stroke-width="1.9" />
<line x1="513.62" y1="92.25" x2="509.1" y2="100" stroke="#cc0000" stroke-width="1.9" />
<line x1="518.15" y1="115.5" x2="513.62" y2="107.75" stroke="#4444ff" stroke-width="1.9" />
<line x1="513.62" y1="107.75" x2="509.1" y2="100" stroke="#cc0000" stroke-width="1.9" />
<line x1="518.15" y1="115.5" x2="526.9" y2="115.5" stroke="#4444ff" stroke-width="1.9" />
<line x1="526.9" y1="115.5" x2="535.65" y2="115.5" stroke="#cc0000" stroke-width="1.9" />
<line x1="544.7" y1="100" x2="540.18" y2="107.75" stroke="#4444ff" stroke-width="1.9" />
<line x1="540.18" y1="107.75" x2="535.65" y2="115.5" stroke="#cc0000" stroke-width="1.9" />
<line x1="438.5" y1="38" x2="447.25" y2="38" stroke="#4444ff" stroke-width="1.9" />
<line x1="447.25" y1="38" x2="456" y2="38" stroke="#cc0000" stroke-width="1.9" />
<line x1="465.05" y1="53.5" x2="460.52" y2="45.75" stroke="#4444ff" stroke-width="1.9" />
<line x1="460.52" y1="45.75" x2="456" y2="38" stroke="#cc0000" stroke-width="1.9" />
<line x1="465.05" y1="53.5" x2="473.8" y2="53.5" stroke="#4444ff" stroke-width="1.9" />
<line x1="473.8" y1="53.5" x2="482.55" y2="53.5" stroke="#cc0000" stroke-width="1.9" />
<line x1="491.6" y1="69" x2="487.08" y2="61.25" stroke="#4444ff" stroke-width="1.9" />
<line x1="487.08" y1="61.25" x2="482.55" y2="53.5" stroke="#cc0000" stroke-width="1.9" />
<line x1="491.6" y1="69" x2="500.35" y2="69" stroke="#4444ff" stroke-width="1.9" />
<line x1="500.35" y1="69" x2="509.1" y2="69" stroke="#cc0000" stroke-width="1.9" />
<line x1="518.15" y1="84.5" x2="513.62" y2="76.75" stroke="#4444ff" stroke-width="1.9" />
<line x1="513.62" y1="76.75" x2="509.1" y2="69" stroke="#cc0000" stroke-width="1.9" />
<line x1="518.15" y1="84.5" x2="526.9" y2="84.5" stroke="#4444ff" stroke-width="1.9" />
<line x1="526.9" y1="84.5" x2="535.65" y2="84.5" stroke="#cc0000" stroke-width="1.9" />
<line x1="544.7" y1="100" x2="540.17" y2="92.25" stroke="#4444ff" stroke-width="1.9" />
<line x1="540.17" y1="92.25" x2="535.65" y2="84.5" stroke="#cc0000" stroke-width="1.9" />
<line x1="544.7" y1="100" x2="553.45" y2="100" stroke="#4444ff" stroke-width="1.9" />
<line x1="553.45" y1="100" x2="562.2" y2="100" stroke="#cc0000" stroke-width="1.9" />
<circle cx="332.3" cy="100" r="5.2" fill="url(#ge)"/>
<circle cx="358.85" cy="115.5" r="5.2" fill="url(#ge)"/>
<circle cx="385.4" cy="131" r="5.2" fill="url(#ge)"/>
<circle cx="411.95" cy="146.5" r="5.2" fill="url(#ge)"/>
<circle cx="438.5" cy="162" r="5.2" fill="url(#ge)"/>
<circle cx="358.85" cy="84.5" r="5.2" fill="url(#ge)"/>
<circle cx="385.4" cy="100" r="5.2" fill="url(#ge)"/>
<circle cx="411.95" cy="115.5" r="5.2" fill="url(#ge)"/>
<circle cx="438.5" cy="131" r="5.2" fill="url(#ge)"/>
<circle cx="465.05" cy="146.5" r="5.2" fill="url(#ge)"/>
<circle cx="385.4" cy="69" r="5.2" fill="url(#ge)"/>
<circle cx="411.95" cy="84.5" r="5.2" fill="url(#ge)"/>
<circle cx="438.5" cy="100" r="5.2" fill="url(#ge)"/>
<circle cx="465.05" cy="115.5" r="5.2" fill="url(#ge)"/>
<circle cx="491.6" cy="131" r="5.2" fill="url(#ge)"/>
<circle cx="411.95" cy="53.5" r="5.2" fill="url(#ge)"/>
<circle cx="438.5" cy="69" r="5.2" fill="url(#ge)"/>
<circle cx="465.05" cy="84.5" r="5.2" fill="url(#ge)"/>
<circle cx="491.6" cy="100" r="5.2" fill="url(#ge)"/>
<circle cx="518.15" cy="115.5" r="5.2" fill="url(#ge)"/>
<circle cx="438.5" cy="38" r="5.2" fill="url(#ge)"/>
<circle cx="465.05" cy="53.5" r="5.2" fill="url(#ge)"/>
<circle cx="491.6" cy="69" r="5.2" fill="url(#ge)"/>
<circle cx="518.15" cy="84.5" r="5.2" fill="url(#ge)"/>
<circle cx="544.7" cy="100" r="5.2" fill="url(#ge)"/>
<circle cx="349.8" cy="100" r="2.8" fill="url(#ox)"/>
<circle cx="376.35" cy="115.5" r="2.8" fill="url(#ox)"/>
<circle cx="402.9" cy="131" r="2.8" fill="url(#ox)"/>
<circle cx="429.45" cy="146.5" r="2.8" fill="url(#ox)"/>
<circle cx="456" cy="162" r="2.8" fill="url(#ox)"/>
<circle cx="376.35" cy="84.5" r="2.8" fill="url(#ox)"/>
<circle cx="402.9" cy="100" r="2.8" fill="url(#ox)"/>
<circle cx="429.45" cy="115.5" r="2.8" fill="url(#ox)"/>
<circle cx="456" cy="131" r="2.8" fill="url(#ox)"/>
<circle cx="482.55" cy="146.5" r="2.8" fill="url(#ox)"/>
<circle cx="402.9" cy="69" r="2.8" fill="url(#ox)"/>
<circle cx="429.45" cy="84.5" r="2.8" fill="url(#ox)"/>
<circle cx="456" cy="100" r="2.8" fill="url(#ox)"/>
<circle cx="482.55" cy="115.5" r="2.8" fill="url(#ox)"/>
<circle cx="509.1" cy="131" r="2.8" fill="url(#ox)"/>
<circle cx="429.45" cy="53.5" r="2.8" fill="url(#ox)"/>
<circle cx="456" cy="69" r="2.8" fill="url(#ox)"/>
<circle cx="482.55" cy="84.5" r="2.8" fill="url(#ox)"/>
<circle cx="509.1" cy="100" r="2.8" fill="url(#ox)"/>
<circle cx="535.65" cy="115.5" r="2.8" fill="url(#ox)"/>
<circle cx="456" cy="38" r="2.8" fill="url(#ox)"/>
<circle cx="482.55" cy="53.5" r="2.8" fill="url(#ox)"/>
<circle cx="509.1" cy="69" r="2.8" fill="url(#ox)"/>
<circle cx="535.65" cy="84.5" r="2.8" fill="url(#ox)"/>
<circle cx="562.2" cy="100" r="2.8" fill="url(#ox)"/>
<line x1="446.4" y1="84.8" x2="473.1" y2="99.5" stroke="#333" stroke-width="0.9" stroke-dasharray="2,1.6"/>
<line x1="446.4" y1="114.7" x2="473.1" y2="99.5" stroke="#333" stroke-width="0.9" stroke-dasharray="2,1.6"/>
<line x1="420.8" y1="99.5" x2="442.06" y2="87.29" stroke="#000" stroke-width="1.5" />
<polygon points="446.4,84.8 443.02,89.97 440.24,85.11" fill="#000"/>
<line x1="420.8" y1="99.5" x2="442.1" y2="112.15" stroke="#000" stroke-width="1.5" />
<polygon points="446.4,114.7 440.24,114.3 443.1,109.48" fill="#000"/>
<text transform="translate(424.63,89.75) scale(0.8557,1)" font-size="15.70" font-family='"Liberation Sans", "DejaVu Sans", sans-serif' font-weight="normal" fill="#111">a</text>
<text transform="translate(425.77,120.53) scale(0.9258,1)" font-size="17.29" font-family='"Liberation Sans", "DejaVu Sans", sans-serif' font-weight="normal" fill="#111">b</text>
<line x1="331.6" y1="208.9" x2="340.6" y2="203.9" stroke="#4444ff" stroke-width="2.2" />
<line x1="340.6" y1="203.9" x2="349.6" y2="198.9" stroke="#cc0000" stroke-width="2.2" />
<line x1="358.28" y1="208.9" x2="353.94" y2="203.9" stroke="#4444ff" stroke-width="2.2" />
<line x1="353.94" y1="203.9" x2="349.6" y2="198.9" stroke="#cc0000" stroke-width="2.2" />
<line x1="358.28" y1="208.9" x2="367.28" y2="203.9" stroke="#4444ff" stroke-width="2.2" />
<line x1="367.28" y1="203.9" x2="376.28" y2="198.9" stroke="#cc0000" stroke-width="2.2" />
<line x1="384.96" y1="208.9" x2="380.62" y2="203.9" stroke="#4444ff" stroke-width="2.2" />
<line x1="380.62" y1="203.9" x2="376.28" y2="198.9" stroke="#cc0000" stroke-width="2.2" />
<line x1="384.96" y1="208.9" x2="393.96" y2="203.9" stroke="#4444ff" stroke-width="2.2" />
<line x1="393.96" y1="203.9" x2="402.96" y2="198.9" stroke="#cc0000" stroke-width="2.2" />
<line x1="411.64" y1="208.9" x2="407.3" y2="203.9" stroke="#4444ff" stroke-width="2.2" />
<line x1="407.3" y1="203.9" x2="402.96" y2="198.9" stroke="#cc0000" stroke-width="2.2" />
<line x1="411.64" y1="208.9" x2="420.64" y2="203.9" stroke="#4444ff" stroke-width="2.2" />
<line x1="420.64" y1="203.9" x2="429.64" y2="198.9" stroke="#cc0000" stroke-width="2.2" />
<line x1="438.32" y1="208.9" x2="433.98" y2="203.9" stroke="#4444ff" stroke-width="2.2" />
<line x1="433.98" y1="203.9" x2="429.64" y2="198.9" stroke="#cc0000" stroke-width="2.2" />
<line x1="438.32" y1="208.9" x2="447.32" y2="203.9" stroke="#4444ff" stroke-width="2.2" />
<line x1="447.32" y1="203.9" x2="456.32" y2="198.9" stroke="#cc0000" stroke-width="2.2" />
<line x1="465" y1="208.9" x2="460.66" y2="203.9" stroke="#4444ff" stroke-width="2.2" />
<line x1="460.66" y1="203.9" x2="456.32" y2="198.9" stroke="#cc0000" stroke-width="2.2" />
<line x1="465" y1="208.9" x2="474" y2="203.9" stroke="#4444ff" stroke-width="2.2" />
<line x1="474" y1="203.9" x2="483" y2="198.9" stroke="#cc0000" stroke-width="2.2" />
<line x1="491.68" y1="208.9" x2="487.34" y2="203.9" stroke="#4444ff" stroke-width="2.2" />
<line x1="487.34" y1="203.9" x2="483" y2="198.9" stroke="#cc0000" stroke-width="2.2" />
<line x1="491.68" y1="208.9" x2="500.68" y2="203.9" stroke="#4444ff" stroke-width="2.2" />
<line x1="500.68" y1="203.9" x2="509.68" y2="198.9" stroke="#cc0000" stroke-width="2.2" />
<line x1="518.36" y1="208.9" x2="514.02" y2="203.9" stroke="#4444ff" stroke-width="2.2" />
<line x1="514.02" y1="203.9" x2="509.68" y2="198.9" stroke="#cc0000" stroke-width="2.2" />
<line x1="518.36" y1="208.9" x2="527.36" y2="203.9" stroke="#4444ff" stroke-width="2.2" />
<line x1="527.36" y1="203.9" x2="536.36" y2="198.9" stroke="#cc0000" stroke-width="2.2" />
<line x1="545.04" y1="208.9" x2="540.7" y2="203.9" stroke="#4444ff" stroke-width="2.2" />
<line x1="540.7" y1="203.9" x2="536.36" y2="198.9" stroke="#cc0000" stroke-width="2.2" />
<line x1="545.04" y1="208.9" x2="554.04" y2="203.9" stroke="#4444ff" stroke-width="2.2" />
<line x1="554.04" y1="203.9" x2="563.04" y2="198.9" stroke="#cc0000" stroke-width="2.2" />
<circle cx="331.6" cy="208.9" r="5.2" fill="url(#ge)"/>
<circle cx="358.28" cy="208.9" r="5.2" fill="url(#ge)"/>
<circle cx="384.96" cy="208.9" r="5.2" fill="url(#ge)"/>
<circle cx="411.64" cy="208.9" r="5.2" fill="url(#ge)"/>
<circle cx="438.32" cy="208.9" r="5.2" fill="url(#ge)"/>
<circle cx="465" cy="208.9" r="5.2" fill="url(#ge)"/>
<circle cx="491.68" cy="208.9" r="5.2" fill="url(#ge)"/>
<circle cx="518.36" cy="208.9" r="5.2" fill="url(#ge)"/>
<circle cx="545.04" cy="208.9" r="5.2" fill="url(#ge)"/>
<circle cx="349.6" cy="198.9" r="3.1" fill="url(#ox)"/>
<circle cx="376.28" cy="198.9" r="3.1" fill="url(#ox)"/>
<circle cx="402.96" cy="198.9" r="3.1" fill="url(#ox)"/>
<circle cx="429.64" cy="198.9" r="3.1" fill="url(#ox)"/>
<circle cx="456.32" cy="198.9" r="3.1" fill="url(#ox)"/>
<circle cx="483" cy="198.9" r="3.1" fill="url(#ox)"/>
<circle cx="509.68" cy="198.9" r="3.1" fill="url(#ox)"/>
<circle cx="536.36" cy="198.9" r="3.1" fill="url(#ox)"/>
<circle cx="563.04" cy="198.9" r="3.1" fill="url(#ox)"/>
<line x1="320" y1="198.3" x2="346.5" y2="198.3" stroke="#222" stroke-width="0.8" stroke-dasharray="1.4,1.2"/>
<line x1="320" y1="209.8" x2="327" y2="209.8" stroke="#222" stroke-width="0.8" stroke-dasharray="1.4,1.2"/>
<line x1="319.5" y1="204" x2="319.5" y2="201.4" stroke="#000" stroke-width="1.1" />
<polygon points="319.5,198.5 321.5,201.9 317.5,201.9" fill="#000"/>
<line x1="319.5" y1="204" x2="319.5" y2="206.7" stroke="#000" stroke-width="1.1" />
<polygon points="319.5,209.6 317.5,206.2 321.5,206.2" fill="#000"/>
<text transform="translate(308.72,209.46) scale(0.9952,1)" font-size="18.49" font-family='"Liberation Sans", "DejaVu Sans", sans-serif' font-weight="normal" fill="#111">t</text>
<text transform="translate(0.58,257.37) scale(0.9605,1)" font-size="23.97" font-family='"Liberation Sans", "DejaVu Sans", sans-serif' font-weight="bold" fill="#000">b</text>
<line x1="135.89" y1="246.4" x2="135.89" y2="534.7" stroke="#7f8a96" stroke-width="1.25" stroke-dasharray="11.5,7.75" stroke-dashoffset="5.9"/>
<line x1="178.26" y1="246.4" x2="178.26" y2="534.7" stroke="#7f8a96" stroke-width="1.25" stroke-dasharray="11.5,7.75" stroke-dashoffset="5.9"/>
<line x1="62.5" y1="534.7" x2="69" y2="534.7" stroke="#000" stroke-width="1.2" />
<line x1="263" y1="534.7" x2="256.5" y2="534.7" stroke="#000" stroke-width="1.2" />
<text transform="translate(48.91,540.3) scale(1.0660,1)" font-size="15.40" font-family='"Liberation Sans", "DejaVu Sans", sans-serif' fill="#222">0</text>
<line x1="62.5" y1="514.11" x2="66" y2="514.11" stroke="#000" stroke-width="1.2" />
<line x1="263" y1="514.11" x2="259.5" y2="514.11" stroke="#000" stroke-width="1.2" />
<line x1="62.5" y1="493.51" x2="69" y2="493.51" stroke="#000" stroke-width="1.2" />
<line x1="263" y1="493.51" x2="256.5" y2="493.51" stroke="#000" stroke-width="1.2" />
<text transform="translate(30.66,499.11) scale(1.0660,1)" font-size="15.40" font-family='"Liberation Sans", "DejaVu Sans", sans-serif' fill="#222">100</text>
<line x1="62.5" y1="472.92" x2="66" y2="472.92" stroke="#000" stroke-width="1.2" />
<line x1="263" y1="472.92" x2="259.5" y2="472.92" stroke="#000" stroke-width="1.2" />
<line x1="62.5" y1="452.33" x2="69" y2="452.33" stroke="#000" stroke-width="1.2" />
<line x1="263" y1="452.33" x2="256.5" y2="452.33" stroke="#000" stroke-width="1.2" />
<text transform="translate(30.66,457.93) scale(1.0660,1)" font-size="15.40" font-family='"Liberation Sans", "DejaVu Sans", sans-serif' fill="#222">200</text>
<line x1="62.5" y1="431.74" x2="66" y2="431.74" stroke="#000" stroke-width="1.2" />
<line x1="263" y1="431.74" x2="259.5" y2="431.74" stroke="#000" stroke-width="1.2" />
<line x1="62.5" y1="411.14" x2="69" y2="411.14" stroke="#000" stroke-width="1.2" />
<line x1="263" y1="411.14" x2="256.5" y2="411.14" stroke="#000" stroke-width="1.2" />
<text transform="translate(30.66,416.74) scale(1.0660,1)" font-size="15.40" font-family='"Liberation Sans", "DejaVu Sans", sans-serif' fill="#222">300</text>
<line x1="62.5" y1="390.55" x2="66" y2="390.55" stroke="#000" stroke-width="1.2" />
<line x1="263" y1="390.55" x2="259.5" y2="390.55" stroke="#000" stroke-width="1.2" />
<line x1="62.5" y1="369.96" x2="69" y2="369.96" stroke="#000" stroke-width="1.2" />
<line x1="263" y1="369.96" x2="256.5" y2="369.96" stroke="#000" stroke-width="1.2" />
<text transform="translate(30.66,375.56) scale(1.0660,1)" font-size="15.40" font-family='"Liberation Sans", "DejaVu Sans", sans-serif' fill="#222">400</text>
<line x1="62.5" y1="349.36" x2="66" y2="349.36" stroke="#000" stroke-width="1.2" />
<line x1="263" y1="349.36" x2="259.5" y2="349.36" stroke="#000" stroke-width="1.2" />
<line x1="62.5" y1="328.77" x2="69" y2="328.77" stroke="#000" stroke-width="1.2" />
<line x1="263" y1="328.77" x2="256.5" y2="328.77" stroke="#000" stroke-width="1.2" />
<text transform="translate(30.66,334.37) scale(1.0660,1)" font-size="15.40" font-family='"Liberation Sans", "DejaVu Sans", sans-serif' fill="#222">500</text>
<line x1="62.5" y1="308.18" x2="66" y2="308.18" stroke="#000" stroke-width="1.2" />
<line x1="263" y1="308.18" x2="259.5" y2="308.18" stroke="#000" stroke-width="1.2" />
<line x1="62.5" y1="287.59" x2="69" y2="287.59" stroke="#000" stroke-width="1.2" />
<line x1="263" y1="287.59" x2="256.5" y2="287.59" stroke="#000" stroke-width="1.2" />
<text transform="translate(30.66,293.19) scale(1.0660,1)" font-size="15.40" font-family='"Liberation Sans", "DejaVu Sans", sans-serif' fill="#222">600</text>
<line x1="62.5" y1="266.99" x2="66" y2="266.99" stroke="#000" stroke-width="1.2" />
<line x1="263" y1="266.99" x2="259.5" y2="266.99" stroke="#000" stroke-width="1.2" />
<line x1="62.5" y1="246.4" x2="69" y2="246.4" stroke="#000" stroke-width="1.2" />
<line x1="263" y1="246.4" x2="256.5" y2="246.4" stroke="#000" stroke-width="1.2" />
<text transform="translate(30.66,252) scale(1.0660,1)" font-size="15.40" font-family='"Liberation Sans", "DejaVu Sans", sans-serif' fill="#222">700</text>
<rect x="62.5" y="246.4" width="200.5" height="288.3" fill="none" stroke="#000" stroke-width="1.5"/>
<text transform="translate(61.22,555.6) scale(1.0438,1)" font-size="22.60" font-family='"Liberation Serif", serif' font-weight="normal" fill="#111">Γ</text>
<text transform="translate(125.73,555.8) scale(0.9849,1)" font-size="23.21" font-family='"Liberation Serif", serif' font-weight="normal" fill="#111">M</text>
<text transform="translate(169.85,555.8) scale(0.9775,1)" font-size="23.21" font-family='"Liberation Serif", serif' font-weight="normal" fill="#111">K</text>
<text transform="translate(250.21,555.6) scale(1.0330,1)" font-size="23.21" font-family='"Liberation Serif", serif' font-weight="normal" fill="#111">Γ</text>
<path d="M62.5,261.6C63.55,261.92 66.87,262.53 68.8,263.5C70.73,264.47 72.3,266.08 74.1,267.4C75.9,268.72 78.68,270.73 79.6,271.4" fill="none" stroke="#1f36ff" stroke-width="1.55" stroke-linejoin="round" stroke-linecap="round"/>
<path d="M79.6,271.4C79.93,271.2 80.77,271.67 81.6,270.2C82.43,268.73 83.52,264.97 84.6,262.6C85.68,260.23 86.85,257.32 88.1,256C89.35,254.68 90.63,254.42 92.1,254.7C93.57,254.98 95.22,256.23 96.9,257.7C98.58,259.17 100.62,262.1 102.2,263.5C103.78,264.9 105.1,265.3 106.4,266.1C107.7,266.9 108.35,267.65 110,268.3C111.65,268.95 113.8,269.38 116.3,270C118.8,270.62 121.8,271.48 125,272C128.2,272.52 132,272.85 135.5,273.1C139,273.35 142.82,272.95 146,273.5C149.18,274.05 152.27,275.58 154.6,276.4C156.93,277.22 157.93,277.53 160,278.4C162.07,279.27 164.65,280.48 167,281.6C169.35,282.72 172.28,284.33 174.1,285.1C175.92,285.87 177.27,286.02 177.9,286.2" fill="none" stroke="#1f36ff" stroke-width="1.55" stroke-linejoin="round" stroke-linecap="round"/>
<path d="M177.9,286.2C178.92,285.88 182.3,284.83 184,284.3C185.7,283.77 186.25,283.98 188.1,283C189.95,282.02 193.12,279.63 195.1,278.4C197.08,277.17 198.38,276.28 200,275.6C201.62,274.92 203.13,274.5 204.8,274.3C206.47,274.1 208.15,274.27 210,274.4C211.85,274.53 213.68,276 215.9,275.1C218.12,274.2 221.28,270.92 223.3,269C225.32,267.08 226.37,265.03 228,263.6C229.63,262.17 231.43,260.63 233.1,260.4C234.77,260.17 236.35,260.05 238,262.2C239.65,264.35 241.55,268.78 243,273.3C244.45,277.82 245.68,285.02 246.7,289.3C247.72,293.58 248.28,297.12 249.1,299C249.92,300.88 250.45,300.33 251.6,300.6C252.75,300.87 254.17,300.6 256,300.6C257.83,300.6 261.5,300.6 262.6,300.6" fill="none" stroke="#1f36ff" stroke-width="1.55" stroke-linejoin="round" stroke-linecap="round"/>
<path d="M62.5,300.5C63.5,300.5 66.42,300.52 68.5,300.5C70.58,300.48 73.92,300.42 75,300.4" fill="none" stroke="#1f36ff" stroke-width="1.55" stroke-linejoin="round" stroke-linecap="round"/>
<path d="M75,300.4C75.22,299.95 75.65,300.35 76.3,297.7C76.95,295.05 78.1,287.78 78.9,284.5C79.7,281.22 80.42,279.23 81.1,278C81.78,276.77 82.12,276.88 83,277.1C83.88,277.32 84.67,278.07 86.4,279.3C88.13,280.53 91.07,282.97 93.4,284.5C95.73,286.03 97.77,287.7 100.4,288.5C103.03,289.3 106.6,289.35 109.2,289.3C111.8,289.25 113.65,288.67 116,288.2C118.35,287.73 120.05,286.93 123.3,286.5C126.55,286.07 131.72,285.65 135.5,285.6C139.28,285.55 142.82,286 146,286.2C149.18,286.4 152.27,286.68 154.6,286.8C156.93,286.92 157.35,286.88 160,286.9C162.65,286.92 167.52,287 170.5,286.9C173.48,286.8 175.65,286.68 177.9,286.3C180.15,285.92 182.3,285.08 184,284.6C185.7,284.12 186.25,283.83 188.1,283.4C189.95,282.97 193.12,282.3 195.1,282C197.08,281.7 197.97,281.62 200,281.6C202.03,281.58 204.8,281.7 207.3,281.9C209.8,282.1 212.55,282.6 215,282.8C217.45,283 219.18,283.55 222,283.1C224.82,282.65 228.4,281.73 231.9,280.1C235.4,278.47 239.52,275.77 243,273.3C246.48,270.83 249.53,267.25 252.8,265.3C256.07,263.35 260.97,262.22 262.6,261.6" fill="none" stroke="#1f36ff" stroke-width="1.55" stroke-linejoin="round" stroke-linecap="round"/>
<path d="M62.9,361.9C63.47,360.33 65.18,355.53 66.3,352.5C67.42,349.47 68.62,347.78 69.6,343.7C70.58,339.62 71.38,333.28 72.2,328C73.02,322.72 73.9,315.9 74.5,312C75.1,308.1 75.35,306.17 75.8,304.6C76.25,303.03 76.68,303.02 77.2,302.6C77.72,302.18 77.37,302.03 78.9,302.1C80.43,302.17 83.7,302.55 86.4,303C89.1,303.45 92.18,304.07 95.1,304.8C98.02,305.53 100.85,306.47 103.9,307.4C106.95,308.33 109.93,309.78 113.4,310.4C116.87,311.02 121.02,311.07 124.7,311.1C128.38,311.13 133.12,310.65 135.5,310.6C137.88,310.55 137.87,310.62 139,310.8C140.13,310.98 140.8,310.87 142.3,311.7C143.8,312.53 145.95,314.27 148,315.8C150.05,317.33 152.6,319.37 154.6,320.9C156.6,322.43 157.93,323.08 160,325C162.07,326.92 164.65,330 167,332.4C169.35,334.8 172.28,337.57 174.1,339.4C175.92,341.23 177.27,342.73 177.9,343.4" fill="none" stroke="#1f36ff" stroke-width="1.55" stroke-linejoin="round" stroke-linecap="round"/>
<path d="M177.9,343.4C179.02,342.27 182.32,338.85 184.6,336.6C186.88,334.35 189.6,331.53 191.6,329.9C193.6,328.27 194.8,327.52 196.6,326.8C198.4,326.08 199.58,325.35 202.4,325.6C205.22,325.85 209.73,327.18 213.5,328.3C217.27,329.42 221.92,331.05 225,332.3C228.08,333.55 229.07,334.52 232,335.8C234.93,337.08 239.08,338.88 242.6,340C246.12,341.12 250.97,341.75 253.1,342.5C255.23,343.25 254.58,342.98 255.4,344.5C256.22,346.02 257.2,349.43 258,351.6C258.8,353.77 259.43,355.75 260.2,357.5C260.97,359.25 262.2,361.33 262.6,362.1" fill="none" stroke="#1f36ff" stroke-width="1.55" stroke-linejoin="round" stroke-linecap="round"/>
<path d="M62.5,342.4C63.08,342.3 64.82,342.07 66,341.8C67.18,341.53 68.1,341.5 69.6,340.8C71.1,340.1 72.43,339.2 75,337.6C77.57,336 82.17,332.88 85,331.2C87.83,329.52 89.62,328.7 92,327.5C94.38,326.3 96.3,325.48 99.3,324C102.3,322.52 106.72,320.13 110,318.6C113.28,317.07 116,315.65 119,314.8C122,313.95 125.25,313.7 128,313.5C130.75,313.3 133.67,313.63 135.5,313.6C137.33,313.57 137.87,313.62 139,313.3C140.13,312.98 140.8,312.95 142.3,311.7C143.8,310.45 145.95,307.75 148,305.8C150.05,303.85 152.6,301.63 154.6,300C156.6,298.37 157.93,297.55 160,296C162.07,294.45 164.65,291.9 167,290.7C169.35,289.5 172.28,289.18 174.1,288.8C175.92,288.42 177.27,288.47 177.9,288.4" fill="none" stroke="#1f36ff" stroke-width="1.55" stroke-linejoin="round" stroke-linecap="round"/>
<path d="M177.9,288.4C179.02,288.73 182.32,289.48 184.6,290.4C186.88,291.32 189.03,292.73 191.6,293.9C194.17,295.07 197.38,296.32 200,297.4C202.62,298.48 204.03,299.5 207.3,300.4C210.57,301.3 215.5,302.43 219.6,302.8C223.7,303.17 227.6,302.8 231.9,302.6C236.2,302.4 242.73,301.57 245.4,301.6C248.07,301.63 247.07,301.17 247.9,302.8C248.73,304.43 249.75,308.87 250.4,311.4C251.05,313.93 251.27,314.9 251.8,318C252.33,321.1 253.02,326.65 253.6,330C254.18,333.35 254.4,336.13 255.3,338.1C256.2,340.07 257.78,341.08 259,341.8C260.22,342.52 262,342.3 262.6,342.4" fill="none" stroke="#1f36ff" stroke-width="1.55" stroke-linejoin="round" stroke-linecap="round"/>
<path d="M62.5,342.4C63.75,342.13 67.08,341.37 70,340.8C72.92,340.23 76.28,339.52 80,339C83.72,338.48 88.13,337.7 92.3,337.7C96.47,337.7 101,338.48 105,339C109,339.52 112.8,340.42 116.3,340.8C119.8,341.18 122.8,341.22 126,341.3C129.2,341.38 131.75,340.28 135.5,341.3C139.25,342.32 145.25,346.02 148.5,347.4C151.75,348.78 153.08,349.2 155,349.6C156.92,350 158,350.13 160,349.8C162,349.47 165,348.3 167,347.6C169,346.9 170.18,346.3 172,345.6C173.82,344.9 176.92,343.77 177.9,343.4" fill="none" stroke="#1f36ff" stroke-width="1.55" stroke-linejoin="round" stroke-linecap="round"/>
<path d="M177.9,343.4C179.02,343.62 182.32,344.2 184.6,344.7C186.88,345.2 189.53,345.77 191.6,346.4C193.67,347.03 195,347.93 197,348.5C199,349.07 201.77,349.78 203.6,349.8C205.43,349.82 206.35,349.32 208,348.6C209.65,347.88 210.67,347.17 213.5,345.5C216.33,343.83 221.92,340.33 225,338.6C228.08,336.87 230,335.77 232,335.1C234,334.43 234.65,334.18 237,334.6C239.35,335.02 242.83,336.52 246.1,337.6C249.37,338.68 253.85,340.3 256.6,341.1C259.35,341.9 261.6,342.18 262.6,342.4" fill="none" stroke="#1f36ff" stroke-width="1.55" stroke-linejoin="round" stroke-linecap="round"/>
<path d="M62.5,362.1C64.43,362.17 71.18,362.1 74.1,362.5C77.02,362.9 78.13,363.63 80,364.5C81.87,365.37 82.53,366.45 85.3,367.7C88.07,368.95 93.65,371.25 96.6,372C99.55,372.75 100.9,372.32 103,372.2C105.1,372.08 107.2,371.27 109.2,371.3C111.2,371.33 113.12,371.93 115,372.4C116.88,372.87 118.33,373.42 120.5,374.1C122.67,374.78 125.5,375.88 128,376.5C130.5,377.12 133.12,378.08 135.5,377.8C137.88,377.52 140.13,376.33 142.3,374.8C144.47,373.27 146.45,371.07 148.5,368.6C150.55,366.13 152.68,362.55 154.6,360C156.52,357.45 157.93,355.35 160,353.3C162.07,351.25 165,349.02 167,347.7C169,346.38 170.18,346.12 172,345.4C173.82,344.68 176.92,343.73 177.9,343.4" fill="none" stroke="#1f36ff" stroke-width="1.55" stroke-linejoin="round" stroke-linecap="round"/>
<path d="M177.9,343.4C179.02,344.08 182.32,346.12 184.6,347.5C186.88,348.88 189.03,350.42 191.6,351.7C194.17,352.98 197.38,354.18 200,355.2C202.62,356.22 205.13,356.9 207.3,357.8C209.47,358.7 210.95,359.68 213,360.6C215.05,361.52 217.48,362.68 219.6,363.3C221.72,363.92 223.65,364.18 225.7,364.3C227.75,364.42 229.08,364.42 231.9,364C234.72,363.58 239.52,362.13 242.6,361.8C245.68,361.47 247.07,361.95 250.4,362C253.73,362.05 260.57,362.08 262.6,362.1" fill="none" stroke="#1f36ff" stroke-width="1.55" stroke-linejoin="round" stroke-linecap="round"/>
<path d="M62.6,534.5 L62.81,533.7 L63.03,532.9 L63.24,532.1 L63.46,531.3 L63.67,530.51 L63.89,529.71 L64.11,528.92 L64.32,528.13 L64.54,527.34 L64.76,526.55 L64.98,525.76 L65.2,524.97 L65.43,524.19 L65.65,523.4 L65.87,522.62 L66.09,521.84 L66.32,521.06 L66.54,520.28 L66.77,519.5 L67,518.72 L67.22,517.95 L67.45,517.17 L67.68,516.4 L67.91,515.63 L68.14,514.85 L68.37,514.08 L68.6,513.31 L68.83,512.54 L69.06,511.78 L69.3,511.01 L69.53,510.24 L69.76,509.48 L70,508.71 L70.24,507.95 L70.47,507.19 L70.71,506.43 L70.95,505.67 L71.19,504.91 L71.42,504.15 L71.66,503.39 L71.9,502.63 L72.15,501.87 L72.39,501.12 L72.63,500.36 L72.87,499.61 L73.12,498.85 L73.36,498.1 L73.61,497.34 L73.85,496.59 L74.1,495.84 L74.35,495.09 L74.59,494.34 L74.84,493.59 L75.09,492.84 L75.34,492.09 L75.59,491.34 L75.84,490.59 L76.09,489.84 L76.35,489.09 L76.6,488.35 L76.85,487.6 L77.11,486.85 L77.36,486.11 L77.62,485.36 L77.87,484.62 L78.13,483.87 L78.39,483.13 L78.65,482.38 L78.91,481.64 L79.17,480.89 L79.43,480.15 L79.69,479.4 L79.95,478.66 L80.21,477.92 L80.47,477.17 L80.74,476.43 L81,475.69 L81.26,474.94 L81.53,474.2 L81.8,473.46 L82.06,472.71 L82.33,471.97 L82.6,471.23 L82.87,470.48 L83.13,469.74 L83.4,469 L83.67,468.25 L83.95,467.51 L84.22,466.77 L84.49,466.02 L84.76,465.28 L85.04,464.53 L85.31,463.79 L85.59,463.04 L85.86,462.3 L86.14,461.55 L86.41,460.81 L86.69,460.06 L86.97,459.32 L87.25,458.57 L87.53,457.82 L87.81,457.07 L88.09,456.33 L88.37,455.58 L88.65,454.83 L88.93,454.08 L89.21,453.33 L89.5,452.58 L89.78,451.83 L90.07,451.08 L90.35,450.33 L90.64,449.58 L90.92,448.83 L91.21,448.07 L91.5,447.32 L91.79,446.56 L92.08,445.81 L92.37,445.05 L92.66,444.3 L92.95,443.54 L93.24,442.78 L93.53,442.02 L93.82,441.26 L94.12,440.5 L94.41,439.74 L94.7,438.98 L95,438.22 L95.29,437.46 L95.59,436.69 L95.89,435.93 L96.18,435.16 L96.48,434.39 L96.78,433.63 L97.08,432.86 L97.38,432.09 L97.68,431.32 L97.98,430.54 L98.28,429.77 L98.58,429 L98.89,428.22 L99.19,427.45 L99.5,426.67 L99.81,425.9 L100.12,425.12 L100.43,424.35 L100.74,423.58 L101.06,422.81 L101.38,422.04 L101.7,421.27 L102.03,420.51 L102.36,419.74 L102.7,418.99 L103.04,418.23 L103.38,417.48 L103.73,416.73 L104.08,415.98 L104.44,415.24 L104.81,414.51 L105.18,413.78 L105.56,413.06 L105.95,412.34 L106.34,411.62 L106.74,410.92 L107.14,410.22 L107.56,409.52 L107.98,408.84 L108.41,408.16 L108.85,407.49 L109.3,406.83 L109.76,406.17 L110.22,405.53 L110.7,404.89 L111.18,404.26 L111.68,403.64 L112.19,403.04 L112.7,402.44 L113.23,401.85 L113.77,401.28 L114.32,400.71 L114.89,400.16 L115.46,399.61 L116.05,399.09 L116.65,398.57 L117.25,398.06 L117.87,397.57 L118.5,397.09 L119.14,396.63 L119.79,396.18 L120.45,395.74 L121.12,395.32 L121.79,394.91 L122.48,394.52 L123.17,394.15 L123.86,393.79 L124.57,393.44 L125.27,393.12 L125.99,392.81 L126.71,392.52 L127.44,392.24 L128.17,391.98 L128.9,391.75 L129.64,391.53 L130.38,391.33 L131.12,391.15 L131.87,390.98 L132.61,390.84 L133.36,390.72 L134.11,390.62 L134.87,390.54 L135.62,390.48 L136.37,390.44 L137.12,390.43 L137.87,390.43 L138.62,390.46 L139.37,390.5 L140.12,390.56 L140.87,390.64 L141.62,390.74 L142.37,390.85 L143.12,390.98 L143.87,391.12 L144.62,391.28 L145.36,391.45 L146.11,391.64 L146.86,391.84 L147.6,392.04 L148.35,392.27 L149.09,392.5 L149.83,392.74 L150.57,392.99 L151.31,393.24 L152.05,393.51 L152.79,393.78 L153.53,394.06 L154.26,394.35 L155,394.64 L155.73,394.93 L156.46,395.23 L157.19,395.54 L157.92,395.84 L158.65,396.16 L159.38,396.48 L160.1,396.8 L160.83,397.13 L161.55,397.46 L162.27,397.8 L162.99,398.15 L163.71,398.49 L164.42,398.85 L165.14,399.21 L165.85,399.57 L166.56,399.94 L167.27,400.31 L167.97,400.69 L168.68,401.07 L169.38,401.46 L170.08,401.85 L170.78,402.25 L171.47,402.66 L172.17,403.06 L172.86,403.48 L173.55,403.9 L174.23,404.32 L174.92,404.75 L175.6,405.18 L176.28,405.62 L176.96,406.07 L177.63,406.52 L178.3,406.97 L178.97,407.43 L179.64,407.9 L180.3,408.37 L180.96,408.85 L181.62,409.33 L182.27,409.81 L182.93,410.3 L183.58,410.79 L184.22,411.29 L184.87,411.8 L185.51,412.31 L186.14,412.82 L186.78,413.34 L187.41,413.86 L188.04,414.38 L188.66,414.91 L189.28,415.45 L189.9,415.98 L190.52,416.53 L191.13,417.07 L191.73,417.62 L192.34,418.18 L192.94,418.73 L193.53,419.29 L194.13,419.86 L194.72,420.43 L195.3,421 L195.88,421.58 L196.46,422.15 L197.04,422.74 L197.61,423.32 L198.17,423.91 L198.74,424.5 L199.29,425.1 L199.85,425.69 L200.4,426.3 L200.94,426.9 L201.49,427.51 L202.02,428.11 L202.56,428.73 L203.08,429.34 L203.61,429.96 L204.13,430.58 L204.64,431.2 L205.16,431.83 L205.66,432.45 L206.17,433.08 L206.66,433.71 L207.16,434.35 L207.65,434.98 L208.14,435.62 L208.62,436.26 L209.1,436.91 L209.57,437.55 L210.04,438.2 L210.51,438.85 L210.97,439.5 L211.43,440.16 L211.89,440.81 L212.34,441.47 L212.79,442.13 L213.24,442.79 L213.68,443.45 L214.12,444.12 L214.55,444.79 L214.99,445.46 L215.42,446.13 L215.84,446.8 L216.27,447.48 L216.69,448.15 L217.11,448.83 L217.52,449.51 L217.93,450.19 L218.34,450.88 L218.75,451.56 L219.15,452.25 L219.55,452.93 L219.95,453.62 L220.35,454.31 L220.74,455.01 L221.13,455.7 L221.52,456.39 L221.91,457.09 L222.29,457.79 L222.68,458.49 L223.06,459.19 L223.43,459.89 L223.81,460.59 L224.18,461.29 L224.56,462 L224.93,462.7 L225.3,463.41 L225.66,464.12 L226.03,464.83 L226.39,465.54 L226.75,466.25 L227.12,466.96 L227.47,467.67 L227.83,468.39 L228.19,469.1 L228.54,469.82 L228.9,470.53 L229.25,471.25 L229.6,471.97 L229.95,472.68 L230.3,473.4 L230.65,474.12 L231,474.84 L231.35,475.56 L231.69,476.28 L232.04,477.01 L232.38,477.73 L232.73,478.45 L233.07,479.17 L233.41,479.9 L233.75,480.62 L234.1,481.35 L234.44,482.07 L234.78,482.8 L235.12,483.52 L235.46,484.25 L235.8,484.97 L236.14,485.7 L236.48,486.42 L236.82,487.15 L237.16,487.88 L237.5,488.6 L237.84,489.33 L238.18,490.05 L238.53,490.78 L238.87,491.51 L239.21,492.23 L239.55,492.96 L239.9,493.68 L240.24,494.41 L240.58,495.13 L240.93,495.86 L241.27,496.58 L241.62,497.31 L241.97,498.03 L242.31,498.76 L242.66,499.48 L243.01,500.2 L243.36,500.92 L243.72,501.65 L244.07,502.37 L244.42,503.09 L244.78,503.81 L245.14,504.53 L245.5,505.25 L245.85,505.97 L246.22,506.68 L246.58,507.4 L246.94,508.12 L247.31,508.83 L247.68,509.55 L248.05,510.26 L248.42,510.97 L248.79,511.69 L249.17,512.4 L249.54,513.11 L249.92,513.82 L250.3,514.53 L250.69,515.23 L251.07,515.94 L251.46,516.64 L251.85,517.35 L252.24,518.05 L252.64,518.75 L253.03,519.45 L253.43,520.15 L253.83,520.85 L254.24,521.55 L254.65,522.24 L255.06,522.94 L255.47,523.63 L255.89,524.32 L256.3,525.01 L256.73,525.7 L257.15,526.39 L257.58,527.07 L258.01,527.76 L258.44,528.44 L258.88,529.12 L259.32,529.8 L259.77,530.47 L260.21,531.15 L260.66,531.82 L261.12,532.49 L261.57,533.16 L262.04,533.83 L262.5,534.5" fill="none" stroke="#1f36ff" stroke-width="1.55" stroke-linejoin="round" stroke-linecap="round"/>
<path d="M62.6,534.5 L62.93,533.73 L63.27,532.97 L63.6,532.21 L63.94,531.46 L64.28,530.71 L64.62,529.96 L64.96,529.21 L65.3,528.47 L65.65,527.73 L65.99,526.99 L66.34,526.25 L66.69,525.52 L67.04,524.79 L67.39,524.06 L67.75,523.34 L68.1,522.62 L68.46,521.9 L68.82,521.18 L69.17,520.47 L69.54,519.75 L69.9,519.04 L70.26,518.33 L70.63,517.63 L71,516.92 L71.37,516.22 L71.74,515.52 L72.11,514.82 L72.48,514.12 L72.86,513.43 L73.23,512.73 L73.61,512.04 L73.99,511.35 L74.37,510.66 L74.76,509.97 L75.14,509.29 L75.53,508.6 L75.92,507.92 L76.31,507.23 L76.7,506.55 L77.09,505.87 L77.48,505.19 L77.88,504.51 L78.28,503.84 L78.68,503.16 L79.08,502.48 L79.48,501.81 L79.89,501.13 L80.29,500.46 L80.7,499.79 L81.11,499.11 L81.52,498.44 L81.93,497.77 L82.35,497.1 L82.77,496.43 L83.18,495.76 L83.6,495.08 L84.02,494.41 L84.45,493.74 L84.87,493.07 L85.3,492.4 L85.73,491.73 L86.16,491.06 L86.59,490.39 L87.02,489.72 L87.46,489.04 L87.89,488.37 L88.33,487.7 L88.77,487.03 L89.21,486.35 L89.66,485.68 L90.1,485 L90.55,484.33 L91,483.65 L91.45,482.97 L91.9,482.29 L92.36,481.61 L92.82,480.93 L93.27,480.25 L93.73,479.57 L94.2,478.88 L94.66,478.2 L95.12,477.51 L95.59,476.83 L96.06,476.14 L96.53,475.45 L97.01,474.77 L97.48,474.08 L97.96,473.39 L98.45,472.71 L98.93,472.03 L99.42,471.35 L99.91,470.67 L100.4,470 L100.9,469.33 L101.4,468.66 L101.9,467.99 L102.41,467.33 L102.92,466.68 L103.43,466.03 L103.95,465.38 L104.47,464.74 L105,464.11 L105.53,463.48 L106.06,462.86 L106.6,462.24 L107.15,461.63 L107.69,461.03 L108.25,460.44 L108.8,459.85 L109.37,459.28 L109.93,458.71 L110.51,458.15 L111.08,457.6 L111.67,457.06 L112.25,456.53 L112.85,456.01 L113.45,455.5 L114.05,455.01 L114.66,454.52 L115.28,454.05 L115.9,453.59 L116.53,453.14 L117.16,452.7 L117.81,452.28 L118.45,451.87 L119.11,451.47 L119.77,451.09 L120.44,450.72 L121.11,450.37 L121.79,450.03 L122.48,449.71 L123.18,449.4 L123.88,449.11 L124.59,448.83 L125.3,448.56 L126.02,448.31 L126.74,448.06 L127.47,447.82 L128.19,447.59 L128.92,447.36 L129.65,447.13 L130.38,446.91 L131.11,446.69 L131.83,446.47 L132.56,446.24 L133.28,446.02 L134,445.78 L134.71,445.55 L135.42,445.3 L136.12,445.05 L136.82,444.78 L137.51,444.51 L138.19,444.22 L138.86,443.91 L139.52,443.6 L140.17,443.26 L140.81,442.91 L141.44,442.53 L142.06,442.14 L142.67,441.74 L143.27,441.31 L143.87,440.87 L144.45,440.41 L145.02,439.94 L145.59,439.46 L146.15,438.95 L146.7,438.44 L147.25,437.91 L147.79,437.37 L148.32,436.82 L148.85,436.26 L149.38,435.69 L149.9,435.11 L150.42,434.51 L150.94,433.91 L151.45,433.3 L151.96,432.68 L152.47,432.06 L152.98,431.43 L153.49,430.79 L153.99,430.15 L154.5,429.5 L155.01,428.84 L155.52,428.19 L156.03,427.53 L156.54,426.86 L157.06,426.2 L157.58,425.53 L158.1,424.86 L158.63,424.2 L159.16,423.53 L159.69,422.86 L160.23,422.19 L160.78,421.53 L161.33,420.87 L161.89,420.21 L162.46,419.55 L163.04,418.9 L163.62,418.25 L164.2,417.61 L164.8,416.97 L165.4,416.34 L166.01,415.72 L166.62,415.1 L167.24,414.49 L167.86,413.89 L168.49,413.3 L169.13,412.71 L169.77,412.14 L170.41,411.58 L171.06,411.02 L171.72,410.48 L172.37,409.95 L173.04,409.44 L173.7,408.93 L174.37,408.44 L175.05,407.96 L175.73,407.5 L176.41,407.06 L177.09,406.62 L177.78,406.21 L178.47,405.81 L179.16,405.43 L179.86,405.06 L180.55,404.72 L181.25,404.39 L181.96,404.08 L182.66,403.79 L183.36,403.53 L184.07,403.28 L184.78,403.05 L185.48,402.85 L186.19,402.67 L186.9,402.51 L187.61,402.38 L188.32,402.26 L189.03,402.17 L189.74,402.11 L190.45,402.07 L191.16,402.05 L191.87,402.06 L192.58,402.09 L193.28,402.14 L193.98,402.22 L194.68,402.33 L195.38,402.45 L196.08,402.61 L196.78,402.79 L197.47,402.99 L198.16,403.22 L198.84,403.47 L199.52,403.75 L200.2,404.06 L200.87,404.39 L201.54,404.74 L202.21,405.11 L202.87,405.51 L203.52,405.92 L204.17,406.35 L204.82,406.79 L205.46,407.25 L206.09,407.73 L206.72,408.22 L207.34,408.71 L207.95,409.22 L208.56,409.74 L209.16,410.27 L209.76,410.8 L210.34,411.34 L210.93,411.89 L211.5,412.45 L212.07,413.02 L212.63,413.59 L213.18,414.17 L213.73,414.76 L214.28,415.36 L214.81,415.96 L215.34,416.57 L215.87,417.19 L216.39,417.81 L216.9,418.44 L217.41,419.08 L217.91,419.72 L218.4,420.37 L218.89,421.02 L219.38,421.68 L219.86,422.35 L220.33,423.02 L220.8,423.7 L221.26,424.38 L221.72,425.06 L222.17,425.76 L222.62,426.45 L223.06,427.15 L223.49,427.86 L223.92,428.57 L224.35,429.28 L224.77,430 L225.19,430.72 L225.6,431.45 L226.01,432.18 L226.41,432.91 L226.81,433.65 L227.2,434.39 L227.59,435.13 L227.98,435.88 L228.36,436.62 L228.73,437.37 L229.1,438.13 L229.47,438.88 L229.83,439.64 L230.19,440.4 L230.55,441.16 L230.9,441.92 L231.25,442.69 L231.59,443.45 L231.93,444.22 L232.27,444.99 L232.6,445.76 L232.93,446.53 L233.25,447.3 L233.57,448.07 L233.89,448.84 L234.21,449.61 L234.52,450.39 L234.83,451.16 L235.13,451.93 L235.43,452.7 L235.73,453.47 L236.03,454.24 L236.32,455.01 L236.61,455.78 L236.9,456.55 L237.19,457.31 L237.47,458.08 L237.75,458.84 L238.02,459.61 L238.3,460.37 L238.57,461.13 L238.84,461.89 L239.11,462.64 L239.37,463.4 L239.63,464.16 L239.89,464.91 L240.15,465.67 L240.41,466.42 L240.66,467.17 L240.91,467.92 L241.16,468.67 L241.41,469.42 L241.66,470.17 L241.9,470.92 L242.15,471.67 L242.39,472.42 L242.63,473.16 L242.87,473.91 L243.11,474.65 L243.34,475.4 L243.58,476.14 L243.81,476.88 L244.04,477.63 L244.27,478.37 L244.51,479.11 L244.73,479.85 L244.96,480.6 L245.19,481.34 L245.42,482.08 L245.64,482.82 L245.87,483.56 L246.09,484.3 L246.32,485.04 L246.54,485.78 L246.76,486.52 L246.99,487.26 L247.21,488 L247.43,488.74 L247.65,489.48 L247.88,490.23 L248.1,490.97 L248.32,491.71 L248.54,492.45 L248.76,493.19 L248.98,493.93 L249.21,494.67 L249.43,495.42 L249.65,496.16 L249.87,496.9 L250.1,497.65 L250.32,498.39 L250.55,499.14 L250.77,499.88 L251,500.63 L251.22,501.37 L251.45,502.12 L251.68,502.87 L251.91,503.62 L252.14,504.36 L252.37,505.11 L252.6,505.87 L252.83,506.62 L253.07,507.37 L253.31,508.12 L253.54,508.88 L253.78,509.63 L254.02,510.39 L254.26,511.15 L254.51,511.9 L254.75,512.66 L255,513.42 L255.24,514.18 L255.49,514.95 L255.75,515.71 L256,516.48 L256.26,517.24 L256.51,518.01 L256.77,518.78 L257.03,519.55 L257.3,520.32 L257.57,521.1 L257.83,521.87 L258.11,522.65 L258.38,523.43 L258.66,524.21 L258.93,524.99 L259.22,525.77 L259.5,526.55 L259.79,527.34 L260.08,528.13 L260.37,528.92 L260.66,529.71 L260.96,530.5 L261.26,531.3 L261.57,532.1 L261.88,532.9 L262.19,533.7 L262.5,534.5" fill="none" stroke="#1f36ff" stroke-width="1.55" stroke-linejoin="round" stroke-linecap="round"/>
<path d="M62.6,534.5 L63.28,534.25 L63.96,533.99 L64.63,533.7 L65.3,533.41 L65.96,533.1 L66.61,532.77 L67.26,532.43 L67.9,532.08 L68.54,531.71 L69.17,531.33 L69.8,530.94 L70.42,530.53 L71.04,530.11 L71.65,529.68 L72.26,529.24 L72.86,528.78 L73.46,528.32 L74.06,527.84 L74.65,527.35 L75.24,526.86 L75.82,526.35 L76.4,525.83 L76.98,525.3 L77.55,524.77 L78.12,524.22 L78.69,523.67 L79.25,523.11 L79.81,522.54 L80.37,521.97 L80.92,521.38 L81.47,520.79 L82.02,520.2 L82.57,519.59 L83.12,518.98 L83.66,518.37 L84.2,517.75 L84.74,517.12 L85.28,516.49 L85.82,515.86 L86.35,515.22 L86.88,514.57 L87.42,513.93 L87.95,513.28 L88.48,512.63 L89.01,511.97 L89.54,511.31 L90.06,510.65 L90.59,509.99 L91.12,509.33 L91.65,508.66 L92.17,508 L92.7,507.33 L93.23,506.66 L93.76,505.99 L94.28,505.32 L94.81,504.66 L95.34,503.99 L95.87,503.32 L96.4,502.65 L96.94,501.99 L97.47,501.33 L98,500.66 L98.54,500.01 L99.08,499.35 L99.62,498.69 L100.16,498.04 L100.7,497.39 L101.25,496.75 L101.79,496.1 L102.34,495.47 L102.89,494.83 L103.45,494.2 L104,493.58 L104.56,492.96 L105.13,492.34 L105.69,491.73 L106.26,491.13 L106.83,490.53 L107.41,489.94 L107.99,489.36 L108.57,488.78 L109.16,488.21 L109.75,487.64 L110.34,487.09 L110.94,486.54 L111.54,486 L112.15,485.47 L112.76,484.95 L113.38,484.44 L114,483.94 L114.63,483.46 L115.26,482.98 L115.89,482.52 L116.54,482.08 L117.18,481.64 L117.84,481.22 L118.49,480.82 L119.16,480.43 L119.83,480.06 L120.5,479.7 L121.18,479.36 L121.87,479.03 L122.56,478.72 L123.26,478.43 L123.97,478.15 L124.67,477.88 L125.39,477.63 L126.11,477.39 L126.83,477.16 L127.56,476.95 L128.29,476.75 L129.03,476.56 L129.77,476.38 L130.51,476.22 L131.26,476.06 L132.02,475.92 L132.77,475.79 L133.53,475.67 L134.3,475.56 L135.07,475.46 L135.84,475.37 L136.61,475.28 L137.39,475.21 L138.17,475.14 L138.95,475.09 L139.74,475.04 L140.53,475 L141.32,474.96 L142.11,474.93 L142.9,474.91 L143.7,474.9 L144.5,474.89 L145.3,474.89 L146.11,474.89 L146.91,474.9 L147.72,474.91 L148.52,474.93 L149.33,474.95 L150.14,474.97 L150.95,475 L151.76,475.03 L152.58,475.06 L153.39,475.1 L154.2,475.14 L155.02,475.18 L155.83,475.22 L156.64,475.26 L157.46,475.31 L158.27,475.35 L159.09,475.4 L159.9,475.44 L160.71,475.49 L161.52,475.53 L162.34,475.58 L163.15,475.62 L163.96,475.66 L164.77,475.7 L165.57,475.73 L166.38,475.76 L167.18,475.8 L167.99,475.82 L168.79,475.85 L169.59,475.87 L170.38,475.88 L171.18,475.9 L171.97,475.91 L172.77,475.93 L173.56,475.94 L174.34,475.95 L175.13,475.96 L175.91,475.98 L176.7,475.99 L177.48,476.01 L178.25,476.03 L179.03,476.05 L179.8,476.08 L180.57,476.11 L181.34,476.15 L182.11,476.19 L182.87,476.24 L183.64,476.29 L184.4,476.36 L185.15,476.43 L185.91,476.5 L186.66,476.59 L187.41,476.69 L188.16,476.79 L188.9,476.91 L189.64,477.04 L190.38,477.17 L191.12,477.33 L191.85,477.49 L192.58,477.67 L193.31,477.86 L194.04,478.06 L194.76,478.28 L195.48,478.51 L196.2,478.76 L196.91,479.02 L197.62,479.3 L198.33,479.59 L199.04,479.89 L199.74,480.21 L200.44,480.54 L201.13,480.88 L201.83,481.23 L202.52,481.59 L203.2,481.97 L203.89,482.36 L204.57,482.76 L205.24,483.17 L205.92,483.59 L206.59,484.02 L207.25,484.46 L207.92,484.92 L208.58,485.38 L209.23,485.85 L209.89,486.33 L210.54,486.82 L211.18,487.31 L211.82,487.82 L212.46,488.34 L213.1,488.86 L213.73,489.39 L214.36,489.93 L214.98,490.47 L215.6,491.02 L216.22,491.58 L216.83,492.15 L217.44,492.72 L218.04,493.29 L218.64,493.88 L219.24,494.47 L219.83,495.06 L220.42,495.66 L221,496.26 L221.58,496.87 L222.16,497.48 L222.73,498.1 L223.3,498.72 L223.86,499.34 L224.43,499.96 L224.98,500.59 L225.54,501.22 L226.09,501.86 L226.64,502.49 L227.18,503.13 L227.73,503.77 L228.27,504.41 L228.81,505.05 L229.34,505.69 L229.88,506.34 L230.41,506.98 L230.95,507.62 L231.48,508.26 L232.01,508.91 L232.54,509.55 L233.07,510.19 L233.6,510.82 L234.13,511.46 L234.66,512.09 L235.19,512.73 L235.72,513.36 L236.25,513.98 L236.78,514.61 L237.31,515.23 L237.85,515.84 L238.39,516.46 L238.92,517.07 L239.46,517.67 L240,518.27 L240.55,518.87 L241.09,519.46 L241.64,520.04 L242.19,520.62 L242.75,521.19 L243.31,521.76 L243.87,522.32 L244.43,522.87 L245,523.42 L245.57,523.95 L246.15,524.49 L246.73,525.01 L247.32,525.52 L247.91,526.03 L248.5,526.53 L249.1,527.02 L249.71,527.5 L250.32,527.97 L250.94,528.43 L251.56,528.88 L252.19,529.32 L252.83,529.75 L253.47,530.17 L254.12,530.57 L254.77,530.97 L255.44,531.35 L256.11,531.73 L256.79,532.09 L257.47,532.44 L258.16,532.77 L258.87,533.09 L259.57,533.4 L260.29,533.7 L261.02,533.98 L261.75,534.25 L262.5,534.5" fill="none" stroke="#1f36ff" stroke-width="1.55" stroke-linejoin="round" stroke-linecap="round"/>
<line x1="425.09" y1="246.4" x2="425.09" y2="534.7" stroke="#7f8a96" stroke-width="1.25" stroke-dasharray="11.5,7.75" stroke-dashoffset="5.9"/>
<line x1="467.46" y1="246.4" x2="467.46" y2="534.7" stroke="#7f8a96" stroke-width="1.25" stroke-dasharray="11.5,7.75" stroke-dashoffset="5.9"/>
<line x1="351.7" y1="534.7" x2="358.2" y2="534.7" stroke="#000" stroke-width="1.2" />
<line x1="552.2" y1="534.7" x2="545.7" y2="534.7" stroke="#000" stroke-width="1.2" />
<text transform="translate(339.31,540.3) scale(1.0660,1)" font-size="15.40" font-family='"Liberation Sans", "DejaVu Sans", sans-serif' fill="#222">0</text>
<line x1="351.7" y1="514.11" x2="355.2" y2="514.11" stroke="#000" stroke-width="1.2" />
<line x1="552.2" y1="514.11" x2="548.7" y2="514.11" stroke="#000" stroke-width="1.2" />
<line x1="351.7" y1="493.51" x2="358.2" y2="493.51" stroke="#000" stroke-width="1.2" />
<line x1="552.2" y1="493.51" x2="545.7" y2="493.51" stroke="#000" stroke-width="1.2" />
<text transform="translate(321.06,499.11) scale(1.0660,1)" font-size="15.40" font-family='"Liberation Sans", "DejaVu Sans", sans-serif' fill="#222">100</text>
<line x1="351.7" y1="472.92" x2="355.2" y2="472.92" stroke="#000" stroke-width="1.2" />
<line x1="552.2" y1="472.92" x2="548.7" y2="472.92" stroke="#000" stroke-width="1.2" />
<line x1="351.7" y1="452.33" x2="358.2" y2="452.33" stroke="#000" stroke-width="1.2" />
<line x1="552.2" y1="452.33" x2="545.7" y2="452.33" stroke="#000" stroke-width="1.2" />
<text transform="translate(321.06,457.93) scale(1.0660,1)" font-size="15.40" font-family='"Liberation Sans", "DejaVu Sans", sans-serif' fill="#222">200</text>
<line x1="351.7" y1="431.74" x2="355.2" y2="431.74" stroke="#000" stroke-width="1.2" />
<line x1="552.2" y1="431.74" x2="548.7" y2="431.74" stroke="#000" stroke-width="1.2" />
<line x1="351.7" y1="411.14" x2="358.2" y2="411.14" stroke="#000" stroke-width="1.2" />
<line x1="552.2" y1="411.14" x2="545.7" y2="411.14" stroke="#000" stroke-width="1.2" />
<text transform="translate(321.06,416.74) scale(1.0660,1)" font-size="15.40" font-family='"Liberation Sans", "DejaVu Sans", sans-serif' fill="#222">300</text>
<line x1="351.7" y1="390.55" x2="355.2" y2="390.55" stroke="#000" stroke-width="1.2" />
<line x1="552.2" y1="390.55" x2="548.7" y2="390.55" stroke="#000" stroke-width="1.2" />
<line x1="351.7" y1="369.96" x2="358.2" y2="369.96" stroke="#000" stroke-width="1.2" />
<line x1="552.2" y1="369.96" x2="545.7" y2="369.96" stroke="#000" stroke-width="1.2" />
<text transform="translate(321.06,375.56) scale(1.0660,1)" font-size="15.40" font-family='"Liberation Sans", "DejaVu Sans", sans-serif' fill="#222">400</text>
<line x1="351.7" y1="349.36" x2="355.2" y2="349.36" stroke="#000" stroke-width="1.2" />
<line x1="552.2" y1="349.36" x2="548.7" y2="349.36" stroke="#000" stroke-width="1.2" />
<line x1="351.7" y1="328.77" x2="358.2" y2="328.77" stroke="#000" stroke-width="1.2" />
<line x1="552.2" y1="328.77" x2="545.7" y2="328.77" stroke="#000" stroke-width="1.2" />
<text transform="translate(321.06,334.37) scale(1.0660,1)" font-size="15.40" font-family='"Liberation Sans", "DejaVu Sans", sans-serif' fill="#222">500</text>
<line x1="351.7" y1="308.18" x2="355.2" y2="308.18" stroke="#000" stroke-width="1.2" />
<line x1="552.2" y1="308.18" x2="548.7" y2="308.18" stroke="#000" stroke-width="1.2" />
<line x1="351.7" y1="287.59" x2="358.2" y2="287.59" stroke="#000" stroke-width="1.2" />
<line x1="552.2" y1="287.59" x2="545.7" y2="287.59" stroke="#000" stroke-width="1.2" />
<text transform="translate(321.06,293.19) scale(1.0660,1)" font-size="15.40" font-family='"Liberation Sans", "DejaVu Sans", sans-serif' fill="#222">600</text>
<line x1="351.7" y1="266.99" x2="355.2" y2="266.99" stroke="#000" stroke-width="1.2" />
<line x1="552.2" y1="266.99" x2="548.7" y2="266.99" stroke="#000" stroke-width="1.2" />
<line x1="351.7" y1="246.4" x2="358.2" y2="246.4" stroke="#000" stroke-width="1.2" />
<line x1="552.2" y1="246.4" x2="545.7" y2="246.4" stroke="#000" stroke-width="1.2" />
<text transform="translate(321.06,252) scale(1.0660,1)" font-size="15.40" font-family='"Liberation Sans", "DejaVu Sans", sans-serif' fill="#222">700</text>
<rect x="351.7" y="246.4" width="200.5" height="288.3" fill="none" stroke="#000" stroke-width="1.5"/>
<text transform="translate(350.42,555.6) scale(1.0438,1)" font-size="22.60" font-family='"Liberation Serif", serif' font-weight="normal" fill="#111">Γ</text>
<text transform="translate(414.93,555.8) scale(0.9849,1)" font-size="23.21" font-family='"Liberation Serif", serif' font-weight="normal" fill="#111">M</text>
<text transform="translate(459.05,555.8) scale(0.9775,1)" font-size="23.21" font-family='"Liberation Serif", serif' font-weight="normal" fill="#111">K</text>
<text transform="translate(539.41,555.6) scale(1.0330,1)" font-size="23.21" font-family='"Liberation Serif", serif' font-weight="normal" fill="#111">Γ</text>
<path d="M352.1,304.1 L352.86,304.29 L353.61,304.48 L354.36,304.69 L355.1,304.91 L355.84,305.15 L356.58,305.39 L357.32,305.64 L358.06,305.9 L358.79,306.18 L359.52,306.46 L360.25,306.75 L360.97,307.05 L361.7,307.36 L362.42,307.68 L363.13,308 L363.85,308.34 L364.57,308.68 L365.28,309.02 L365.99,309.38 L366.7,309.74 L367.41,310.11 L368.12,310.49 L368.82,310.87 L369.53,311.25 L370.23,311.65 L370.93,312.04 L371.63,312.44 L372.33,312.85 L373.03,313.26 L373.73,313.68 L374.42,314.09 L375.12,314.52 L375.82,314.94 L376.51,315.37 L377.21,315.8 L377.9,316.23 L378.6,316.67 L379.29,317.11 L379.98,317.55 L380.68,317.99 L381.37,318.43 L382.07,318.87 L382.76,319.31 L383.45,319.75 L384.15,320.2 L384.85,320.64 L385.54,321.08 L386.24,321.52 L386.94,321.96 L387.63,322.4 L388.33,322.83 L389.03,323.27 L389.73,323.7 L390.44,324.13 L391.14,324.55 L391.84,324.97 L392.55,325.39 L393.26,325.81 L393.97,326.22 L394.68,326.63 L395.39,327.04 L396.1,327.44 L396.81,327.84 L397.53,328.23 L398.25,328.62 L398.96,329.01 L399.68,329.39 L400.4,329.77 L401.12,330.15 L401.85,330.52 L402.57,330.89 L403.3,331.25 L404.02,331.61 L404.75,331.97 L405.48,332.32 L406.21,332.67 L406.94,333.01 L407.67,333.36 L408.4,333.69 L409.14,334.03 L409.87,334.35 L410.61,334.68 L411.34,335 L412.08,335.32 L412.82,335.63 L413.56,335.94 L414.3,336.25 L415.04,336.55 L415.78,336.84 L416.53,337.14 L417.27,337.43 L418.01,337.71 L418.76,337.99 L419.51,338.27 L420.25,338.54 L421,338.81 L421.75,339.07 L422.5,339.33 L423.25,339.58 L424,339.83 L424.75,340.08 L425.5,340.32 L426.25,340.56 L427.01,340.79 L427.76,341.02 L428.51,341.25 L429.27,341.47 L430.02,341.7 L430.78,341.92 L431.54,342.14 L432.29,342.35 L433.05,342.57 L433.81,342.79 L434.57,343.01 L435.32,343.23 L436.08,343.45 L436.84,343.67 L437.6,343.89 L438.36,344.12 L439.12,344.34 L439.88,344.58 L440.65,344.81 L441.41,345.05 L442.17,345.3 L442.93,345.55 L443.69,345.8 L444.46,346.06 L445.22,346.32 L445.98,346.59 L446.74,346.86 L447.51,347.13 L448.27,347.39 L449.03,347.66 L449.79,347.93 L450.56,348.19 L451.32,348.46 L452.08,348.71 L452.84,348.96 L453.61,349.21 L454.37,349.44 L455.13,349.67 L455.89,349.89 L456.65,350.11 L457.41,350.3 L458.17,350.49 L458.93,350.67 L459.68,350.83 L460.44,350.98 L461.2,351.11 L461.95,351.22 L462.71,351.32 L463.46,351.4 L464.22,351.46 L464.97,351.5 L465.72,351.52 L466.47,351.52 L467.22,351.49 L467.97,351.45 L468.72,351.37 L469.46,351.28 L470.21,351.17 L470.95,351.03 L471.7,350.88 L472.44,350.71 L473.18,350.51 L473.92,350.3 L474.65,350.07 L475.39,349.82 L476.13,349.56 L476.86,349.28 L477.59,348.99 L478.32,348.67 L479.05,348.35 L479.77,348.01 L480.5,347.66 L481.22,347.29 L481.94,346.91 L482.66,346.52 L483.38,346.12 L484.1,345.71 L484.81,345.29 L485.52,344.86 L486.23,344.42 L486.94,343.97 L487.64,343.51 L488.35,343.05 L489.05,342.58 L489.74,342.1 L490.44,341.62 L491.13,341.13 L491.83,340.64 L492.52,340.14 L493.2,339.64 L493.89,339.14 L494.57,338.64 L495.25,338.13 L495.92,337.62 L496.6,337.11 L497.27,336.6 L497.94,336.09 L498.61,335.58 L499.27,335.07 L499.93,334.55 L500.6,334.04 L501.25,333.53 L501.91,333.01 L502.57,332.5 L503.22,331.99 L503.88,331.47 L504.53,330.96 L505.18,330.45 L505.83,329.94 L506.48,329.42 L507.13,328.92 L507.77,328.41 L508.42,327.9 L509.07,327.39 L509.71,326.89 L510.36,326.39 L511,325.88 L511.65,325.38 L512.29,324.89 L512.94,324.39 L513.58,323.9 L514.23,323.41 L514.87,322.92 L515.52,322.44 L516.17,321.95 L516.81,321.48 L517.46,321 L518.11,320.53 L518.76,320.06 L519.41,319.59 L520.06,319.13 L520.71,318.67 L521.37,318.22 L522.03,317.77 L522.68,317.32 L523.34,316.88 L524,316.44 L524.66,316.01 L525.33,315.58 L526,315.16 L526.66,314.74 L527.34,314.32 L528.01,313.92 L528.68,313.51 L529.36,313.12 L530.04,312.73 L530.73,312.34 L531.41,311.96 L532.1,311.59 L532.8,311.22 L533.49,310.86 L534.19,310.51 L534.89,310.16 L535.6,309.82 L536.31,309.48 L537.02,309.16 L537.74,308.84 L538.46,308.52 L539.18,308.22 L539.91,307.92 L540.64,307.63 L541.38,307.35 L542.12,307.08 L542.87,306.81 L543.62,306.55 L544.37,306.3 L545.13,306.06 L545.9,305.83 L546.67,305.61 L547.44,305.39 L548.22,305.19 L549.01,304.99 L549.8,304.8 L550.59,304.63 L551.39,304.46 L552.2,304.3" fill="none" stroke="#ff1a1a" stroke-width="1.55" stroke-linejoin="round" stroke-linecap="round"/>
<path d="M352.1,401.8C352.92,399.82 355.3,394.52 357,389.9C358.7,385.28 360.72,379.42 362.3,374.1C363.88,368.78 365.3,361.77 366.5,358C367.7,354.23 368.45,352.82 369.5,351.5C370.55,350.18 371.72,350.15 372.8,350.1C373.88,350.05 374.8,350.3 376,351.2C377.2,352.1 378.48,353.68 380,355.5C381.52,357.32 383.07,360.27 385.1,362.1C387.13,363.93 389.27,365.48 392.2,366.5C395.13,367.52 398.6,368.07 402.7,368.2C406.8,368.33 413.05,367.58 416.8,367.3C420.55,367.02 421.68,366.5 425.2,366.5C428.72,366.5 433.42,367.02 437.9,367.3C442.38,367.58 447.2,367.27 452.1,368.2C457,369.13 462.58,372.37 467.3,372.9C472.02,373.43 476.2,371.92 480.4,371.4C484.6,370.88 488.12,370.73 492.5,369.8C496.88,368.87 502.65,366.9 506.7,365.8C510.75,364.7 513.77,364.72 516.8,363.2C519.83,361.68 522.87,358.48 524.9,356.7C526.93,354.92 527.82,353.35 529,352.5C530.18,351.65 531,351.43 532,351.6C533,351.77 534,352.18 535,353.5C536,354.82 536.65,355.6 538,359.5C539.35,363.4 541.58,371.65 543.1,376.9C544.62,382.15 545.58,386.88 547.1,391C548.62,395.12 551.35,399.83 552.2,401.6" fill="none" stroke="#ff1a1a" stroke-width="1.55" stroke-linejoin="round" stroke-linecap="round"/>
<path d="M352.1,401.8C353.8,401.8 358.85,401.45 362.3,401.8C365.75,402.15 368.4,403.25 372.8,403.9C377.2,404.55 383.72,404.67 388.7,405.7C393.68,406.73 398.6,409.02 402.7,410.1C406.8,411.18 409.55,411.85 413.3,412.2C417.05,412.55 421.98,412.7 425.2,412.2C428.42,411.7 429.9,411.17 432.6,409.2C435.3,407.23 438.5,403.33 441.4,400.4C444.3,397.47 447.23,394.08 450,391.6C452.77,389.12 455.12,387.1 458,385.5C460.88,383.9 463.57,381.75 467.3,382C471.03,382.25 475.18,384.48 480.4,387C485.62,389.52 492.53,394.4 498.6,397.1C504.67,399.8 510.73,402.58 516.8,403.2C522.87,403.82 529.1,401.07 535,400.8C540.9,400.53 549.33,401.47 552.2,401.6" fill="none" stroke="#ff1a1a" stroke-width="1.55" stroke-linejoin="round" stroke-linecap="round"/>
<path d="M351.9,534.5 L352.29,533.85 L352.69,533.19 L353.08,532.53 L353.46,531.87 L353.85,531.2 L354.23,530.53 L354.61,529.86 L354.99,529.18 L355.37,528.5 L355.75,527.81 L356.12,527.12 L356.5,526.43 L356.87,525.74 L357.25,525.04 L357.62,524.34 L357.99,523.64 L358.36,522.93 L358.73,522.23 L359.1,521.52 L359.47,520.81 L359.83,520.09 L360.2,519.38 L360.57,518.66 L360.94,517.94 L361.31,517.22 L361.68,516.5 L362.04,515.78 L362.41,515.05 L362.78,514.33 L363.16,513.6 L363.53,512.88 L363.9,512.15 L364.27,511.42 L364.65,510.7 L365.03,509.97 L365.4,509.24 L365.78,508.51 L366.16,507.79 L366.54,507.06 L366.93,506.33 L367.31,505.61 L367.7,504.88 L368.09,504.16 L368.48,503.43 L368.88,502.71 L369.28,501.99 L369.67,501.27 L370.08,500.55 L370.48,499.83 L370.89,499.11 L371.3,498.4 L371.71,497.69 L372.13,496.98 L372.55,496.27 L372.97,495.56 L373.4,494.86 L373.83,494.16 L374.27,493.46 L374.7,492.77 L375.15,492.07 L375.59,491.38 L376.04,490.7 L376.5,490.01 L376.96,489.33 L377.42,488.66 L377.89,487.98 L378.36,487.32 L378.84,486.65 L379.32,485.99 L379.81,485.33 L380.3,484.68 L380.8,484.03 L381.3,483.39 L381.81,482.75 L382.32,482.11 L382.84,481.48 L383.36,480.86 L383.9,480.24 L384.43,479.63 L384.97,479.02 L385.52,478.41 L386.08,477.82 L386.64,477.22 L387.21,476.64 L387.78,476.06 L388.36,475.49 L388.95,474.93 L389.54,474.37 L390.14,473.83 L390.74,473.29 L391.35,472.76 L391.96,472.25 L392.58,471.74 L393.21,471.24 L393.84,470.76 L394.48,470.28 L395.12,469.82 L395.77,469.37 L396.42,468.94 L397.08,468.51 L397.74,468.1 L398.41,467.71 L399.08,467.33 L399.76,466.96 L400.44,466.61 L401.13,466.28 L401.82,465.96 L402.52,465.66 L403.22,465.37 L403.93,465.11 L404.64,464.86 L405.36,464.62 L406.08,464.41 L406.8,464.22 L407.53,464.04 L408.27,463.89 L409.01,463.76 L409.75,463.64 L410.49,463.54 L411.25,463.46 L412,463.4 L412.76,463.34 L413.52,463.31 L414.28,463.28 L415.05,463.27 L415.82,463.27 L416.6,463.27 L417.38,463.29 L418.16,463.31 L418.94,463.34 L419.73,463.38 L420.51,463.42 L421.3,463.47 L422.1,463.51 L422.89,463.56 L423.69,463.61 L424.49,463.66 L425.29,463.71 L426.1,463.76 L426.9,463.8 L427.71,463.84 L428.51,463.87 L429.32,463.9 L430.13,463.92 L430.95,463.93 L431.76,463.93 L432.57,463.93 L433.38,463.91 L434.2,463.88 L435.01,463.83 L435.83,463.77 L436.65,463.7 L437.46,463.61 L438.28,463.5 L439.09,463.38 L439.91,463.24 L440.73,463.08 L441.54,462.91 L442.36,462.73 L443.17,462.53 L443.99,462.33 L444.8,462.12 L445.61,461.9 L446.43,461.68 L447.24,461.45 L448.05,461.22 L448.87,460.99 L449.68,460.77 L450.49,460.54 L451.3,460.32 L452.11,460.1 L452.91,459.89 L453.72,459.68 L454.53,459.49 L455.33,459.3 L456.14,459.13 L456.94,458.98 L457.74,458.83 L458.54,458.71 L459.34,458.6 L460.14,458.51 L460.94,458.44 L461.74,458.4 L462.53,458.37 L463.32,458.36 L464.12,458.38 L464.91,458.41 L465.7,458.45 L466.48,458.52 L467.27,458.6 L468.05,458.7 L468.83,458.82 L469.61,458.95 L470.39,459.09 L471.17,459.25 L471.95,459.43 L472.72,459.61 L473.49,459.81 L474.26,460.02 L475.03,460.24 L475.79,460.47 L476.55,460.71 L477.31,460.97 L478.07,461.23 L478.83,461.5 L479.58,461.77 L480.33,462.06 L481.08,462.35 L481.83,462.65 L482.57,462.95 L483.31,463.26 L484.05,463.57 L484.79,463.89 L485.52,464.21 L486.25,464.54 L486.98,464.86 L487.71,465.19 L488.43,465.52 L489.15,465.85 L489.87,466.18 L490.58,466.51 L491.29,466.84 L492,467.17 L492.7,467.51 L493.4,467.84 L494.1,468.18 L494.8,468.51 L495.49,468.85 L496.18,469.2 L496.86,469.54 L497.54,469.9 L498.22,470.25 L498.9,470.61 L499.57,470.97 L500.23,471.34 L500.9,471.72 L501.56,472.1 L502.22,472.49 L502.87,472.88 L503.52,473.28 L504.16,473.69 L504.8,474.11 L505.44,474.53 L506.07,474.96 L506.7,475.4 L507.33,475.85 L507.95,476.31 L508.57,476.77 L509.18,477.24 L509.79,477.72 L510.4,478.21 L511,478.7 L511.6,479.21 L512.2,479.71 L512.79,480.23 L513.38,480.75 L513.97,481.28 L514.55,481.81 L515.13,482.35 L515.7,482.9 L516.27,483.45 L516.84,484.01 L517.4,484.58 L517.96,485.15 L518.52,485.73 L519.08,486.31 L519.63,486.89 L520.17,487.49 L520.72,488.08 L521.26,488.69 L521.8,489.29 L522.33,489.91 L522.87,490.52 L523.39,491.14 L523.92,491.77 L524.44,492.4 L524.96,493.03 L525.48,493.67 L525.99,494.31 L526.5,494.95 L527.01,495.6 L527.52,496.25 L528.02,496.91 L528.52,497.57 L529.02,498.23 L529.51,498.89 L530,499.56 L530.49,500.23 L530.97,500.9 L531.46,501.58 L531.94,502.25 L532.42,502.93 L532.89,503.61 L533.37,504.3 L533.84,504.98 L534.3,505.67 L534.77,506.35 L535.23,507.04 L535.69,507.73 L536.15,508.43 L536.61,509.12 L537.06,509.81 L537.51,510.51 L537.96,511.2 L538.41,511.9 L538.85,512.59 L539.3,513.29 L539.74,513.98 L540.18,514.68 L540.61,515.38 L541.05,516.07 L541.48,516.77 L541.91,517.46 L542.34,518.16 L542.76,518.85 L543.19,519.54 L543.61,520.24 L544.03,520.93 L544.45,521.62 L544.87,522.3 L545.28,522.99 L545.7,523.67 L546.11,524.36 L546.52,525.04 L546.93,525.72 L547.33,526.39 L547.74,527.07 L548.14,527.74 L548.55,528.41 L548.95,529.08 L549.35,529.74 L549.74,530.4 L550.14,531.06 L550.53,531.71 L550.93,532.37 L551.32,533.01 L551.71,533.66 L552.1,534.3" fill="none" stroke="#ff1a1a" stroke-width="1.55" stroke-linejoin="round" stroke-linecap="round"/>
<path d="M351.9,534.5 L352.38,534.04 L352.87,533.57 L353.36,533.09 L353.85,532.6 L354.35,532.11 L354.85,531.6 L355.35,531.09 L355.86,530.57 L356.37,530.05 L356.88,529.51 L357.4,528.97 L357.93,528.42 L358.45,527.87 L358.98,527.31 L359.51,526.74 L360.05,526.17 L360.59,525.6 L361.13,525.02 L361.68,524.43 L362.23,523.84 L362.78,523.25 L363.34,522.66 L363.9,522.06 L364.46,521.45 L365.03,520.85 L365.6,520.24 L366.17,519.63 L366.74,519.02 L367.32,518.41 L367.91,517.79 L368.49,517.18 L369.08,516.56 L369.67,515.95 L370.26,515.33 L370.86,514.71 L371.46,514.1 L372.07,513.48 L372.67,512.87 L373.28,512.26 L373.89,511.65 L374.51,511.04 L375.13,510.43 L375.75,509.83 L376.37,509.23 L377,508.63 L377.63,508.04 L378.26,507.45 L378.89,506.86 L379.53,506.28 L380.17,505.7 L380.81,505.13 L381.46,504.56 L382.1,504 L382.75,503.45 L383.41,502.9 L384.06,502.35 L384.72,501.82 L385.38,501.29 L386.04,500.76 L386.7,500.25 L387.37,499.74 L388.04,499.24 L388.71,498.75 L389.39,498.27 L390.06,497.8 L390.74,497.33 L391.42,496.88 L392.11,496.43 L392.79,496 L393.48,495.58 L394.17,495.16 L394.86,494.76 L395.55,494.37 L396.25,493.98 L396.95,493.61 L397.65,493.24 L398.35,492.89 L399.05,492.54 L399.76,492.2 L400.47,491.87 L401.18,491.55 L401.89,491.23 L402.6,490.92 L403.32,490.62 L404.03,490.33 L404.75,490.04 L405.47,489.75 L406.2,489.48 L406.92,489.2 L407.65,488.94 L408.37,488.68 L409.1,488.42 L409.83,488.17 L410.57,487.92 L411.3,487.68 L412.03,487.44 L412.77,487.2 L413.51,486.96 L414.25,486.73 L414.99,486.5 L415.73,486.28 L416.48,486.05 L417.22,485.83 L417.97,485.61 L418.72,485.39 L419.47,485.17 L420.22,484.95 L420.97,484.73 L421.72,484.51 L422.47,484.29 L423.23,484.07 L423.99,483.85 L424.74,483.63 L425.5,483.4 L426.26,483.18 L427.02,482.96 L427.79,482.73 L428.55,482.51 L429.31,482.29 L430.08,482.07 L430.84,481.86 L431.61,481.65 L432.38,481.45 L433.15,481.26 L433.91,481.07 L434.68,480.89 L435.46,480.72 L436.23,480.56 L437,480.41 L437.77,480.27 L438.55,480.15 L439.32,480.04 L440.1,479.94 L440.87,479.86 L441.65,479.79 L442.42,479.74 L443.2,479.71 L443.98,479.7 L444.76,479.7 L445.54,479.73 L446.32,479.77 L447.1,479.84 L447.88,479.92 L448.66,480.02 L449.44,480.14 L450.22,480.28 L451,480.43 L451.78,480.61 L452.56,480.79 L453.35,481 L454.13,481.22 L454.91,481.45 L455.69,481.7 L456.48,481.96 L457.26,482.22 L458.04,482.49 L458.82,482.75 L459.61,483.01 L460.39,483.25 L461.17,483.48 L461.95,483.7 L462.73,483.89 L463.51,484.05 L464.29,484.18 L465.07,484.28 L465.85,484.34 L466.62,484.36 L467.4,484.33 L468.18,484.25 L468.95,484.13 L469.72,483.96 L470.49,483.76 L471.26,483.51 L472.03,483.24 L472.8,482.94 L473.57,482.61 L474.33,482.26 L475.09,481.89 L475.85,481.51 L476.61,481.12 L477.37,480.73 L478.12,480.33 L478.88,479.94 L479.63,479.55 L480.38,479.16 L481.12,478.79 L481.87,478.43 L482.61,478.08 L483.35,477.74 L484.08,477.42 L484.82,477.11 L485.55,476.82 L486.28,476.55 L487,476.3 L487.73,476.07 L488.45,475.86 L489.16,475.68 L489.88,475.52 L490.59,475.38 L491.29,475.27 L492,475.2 L492.7,475.15 L493.39,475.13 L494.09,475.14 L494.78,475.19 L495.46,475.27 L496.15,475.39 L496.82,475.54 L497.5,475.73 L498.17,475.97 L498.83,476.24 L499.5,476.56 L500.15,476.91 L500.81,477.31 L501.46,477.74 L502.1,478.21 L502.75,478.71 L503.38,479.24 L504.02,479.79 L504.65,480.37 L505.28,480.97 L505.9,481.59 L506.52,482.23 L507.13,482.88 L507.75,483.55 L508.36,484.22 L508.96,484.9 L509.56,485.58 L510.16,486.27 L510.76,486.95 L511.35,487.63 L511.94,488.31 L512.53,488.98 L513.11,489.64 L513.69,490.29 L514.27,490.93 L514.85,491.57 L515.42,492.2 L515.99,492.83 L516.56,493.45 L517.12,494.07 L517.68,494.68 L518.24,495.28 L518.8,495.88 L519.36,496.48 L519.91,497.07 L520.46,497.66 L521.01,498.25 L521.55,498.84 L522.1,499.42 L522.64,500 L523.18,500.58 L523.72,501.16 L524.26,501.74 L524.79,502.31 L525.32,502.89 L525.85,503.47 L526.38,504.05 L526.91,504.63 L527.44,505.21 L527.96,505.79 L528.49,506.38 L529.01,506.96 L529.53,507.55 L530.05,508.14 L530.57,508.73 L531.09,509.33 L531.61,509.92 L532.12,510.52 L532.64,511.12 L533.15,511.72 L533.67,512.32 L534.18,512.92 L534.69,513.53 L535.2,514.13 L535.71,514.74 L536.22,515.35 L536.73,515.95 L537.24,516.56 L537.75,517.17 L538.26,517.78 L538.77,518.4 L539.28,519.01 L539.79,519.62 L540.29,520.23 L540.8,520.85 L541.31,521.46 L541.82,522.07 L542.33,522.69 L542.84,523.3 L543.35,523.92 L543.86,524.53 L544.36,525.15 L544.88,525.76 L545.39,526.37 L545.9,526.99 L546.41,527.6 L546.92,528.21 L547.44,528.82 L547.95,529.44 L548.47,530.05 L548.98,530.66 L549.5,531.27 L550.02,531.88 L550.54,532.48 L551.06,533.09 L551.58,533.7 L552.1,534.3" fill="none" stroke="#ff1a1a" stroke-width="1.55" stroke-linejoin="round" stroke-linecap="round"/>
<path d="M351.9,534.5 L352.61,534.32 L353.32,534.12 L354.03,533.91 L354.74,533.68 L355.44,533.44 L356.15,533.19 L356.85,532.93 L357.55,532.65 L358.25,532.36 L358.94,532.07 L359.64,531.76 L360.33,531.43 L361.03,531.1 L361.72,530.76 L362.41,530.41 L363.1,530.05 L363.79,529.68 L364.48,529.3 L365.16,528.91 L365.85,528.51 L366.53,528.11 L367.22,527.7 L367.9,527.28 L368.58,526.85 L369.27,526.42 L369.95,525.98 L370.63,525.54 L371.31,525.08 L372,524.63 L372.68,524.17 L373.36,523.7 L374.04,523.23 L374.72,522.75 L375.4,522.28 L376.09,521.79 L376.77,521.31 L377.45,520.82 L378.14,520.33 L378.82,519.83 L379.5,519.34 L380.19,518.84 L380.87,518.34 L381.56,517.85 L382.25,517.35 L382.93,516.85 L383.62,516.35 L384.31,515.85 L385,515.35 L385.69,514.85 L386.38,514.35 L387.07,513.86 L387.77,513.36 L388.46,512.87 L389.16,512.38 L389.85,511.9 L390.55,511.41 L391.25,510.94 L391.95,510.46 L392.65,509.99 L393.35,509.52 L394.05,509.06 L394.76,508.6 L395.46,508.15 L396.17,507.71 L396.88,507.27 L397.59,506.83 L398.3,506.41 L399.01,505.99 L399.73,505.57 L400.44,505.17 L401.16,504.77 L401.88,504.38 L402.6,504 L403.32,503.63 L404.04,503.27 L404.77,502.92 L405.5,502.57 L406.23,502.24 L406.96,501.92 L407.69,501.61 L408.42,501.31 L409.16,501.02 L409.9,500.74 L410.64,500.48 L411.38,500.23 L412.13,499.99 L412.87,499.76 L413.62,499.55 L414.37,499.35 L415.13,499.16 L415.88,498.99 L416.64,498.83 L417.4,498.69 L418.16,498.55 L418.92,498.43 L419.69,498.32 L420.45,498.22 L421.22,498.12 L421.99,498.04 L422.76,497.97 L423.54,497.9 L424.31,497.84 L425.09,497.79 L425.86,497.74 L426.64,497.7 L427.42,497.67 L428.2,497.64 L428.98,497.61 L429.76,497.59 L430.55,497.57 L431.33,497.55 L432.12,497.54 L432.9,497.52 L433.69,497.51 L434.47,497.49 L435.26,497.48 L436.05,497.46 L436.83,497.45 L437.62,497.43 L438.41,497.41 L439.2,497.38 L439.98,497.36 L440.77,497.32 L441.56,497.29 L442.35,497.24 L443.13,497.19 L443.92,497.14 L444.71,497.08 L445.49,497.01 L446.28,496.94 L447.06,496.86 L447.85,496.77 L448.63,496.69 L449.41,496.59 L450.19,496.49 L450.97,496.39 L451.75,496.28 L452.53,496.17 L453.31,496.06 L454.09,495.95 L454.86,495.84 L455.64,495.73 L456.41,495.62 L457.18,495.52 L457.96,495.41 L458.73,495.32 L459.5,495.23 L460.27,495.14 L461.04,495.06 L461.81,494.99 L462.57,494.93 L463.34,494.88 L464.11,494.84 L464.87,494.81 L465.63,494.79 L466.4,494.79 L467.16,494.8 L467.92,494.82 L468.68,494.87 L469.44,494.92 L470.2,494.99 L470.96,495.08 L471.72,495.18 L472.47,495.29 L473.23,495.42 L473.98,495.56 L474.74,495.72 L475.49,495.89 L476.24,496.08 L477,496.28 L477.75,496.5 L478.5,496.73 L479.25,496.97 L480,497.23 L480.75,497.5 L481.49,497.79 L482.24,498.08 L482.99,498.39 L483.73,498.71 L484.48,499.04 L485.22,499.38 L485.97,499.72 L486.71,500.08 L487.45,500.45 L488.19,500.82 L488.93,501.2 L489.67,501.58 L490.41,501.97 L491.15,502.37 L491.89,502.77 L492.63,503.18 L493.36,503.59 L494.1,504 L494.83,504.42 L495.57,504.84 L496.3,505.25 L497.04,505.67 L497.77,506.1 L498.5,506.52 L499.24,506.94 L499.97,507.36 L500.7,507.77 L501.43,508.19 L502.16,508.61 L502.89,509.03 L503.61,509.44 L504.34,509.86 L505.07,510.28 L505.8,510.69 L506.52,511.1 L507.25,511.52 L507.97,511.93 L508.7,512.34 L509.42,512.75 L510.15,513.16 L510.87,513.56 L511.59,513.97 L512.31,514.38 L513.03,514.78 L513.76,515.18 L514.48,515.59 L515.2,515.99 L515.92,516.39 L516.64,516.79 L517.35,517.18 L518.07,517.58 L518.79,517.97 L519.51,518.37 L520.22,518.76 L520.94,519.15 L521.66,519.53 L522.37,519.92 L523.09,520.31 L523.8,520.69 L524.52,521.07 L525.23,521.45 L525.94,521.83 L526.66,522.21 L527.37,522.58 L528.08,522.96 L528.79,523.33 L529.5,523.7 L530.21,524.06 L530.93,524.43 L531.64,524.79 L532.35,525.15 L533.06,525.51 L533.76,525.87 L534.47,526.22 L535.18,526.58 L535.89,526.93 L536.6,527.28 L537.31,527.62 L538.01,527.97 L538.72,528.31 L539.43,528.65 L540.13,528.98 L540.84,529.32 L541.55,529.65 L542.25,529.98 L542.96,530.3 L543.66,530.63 L544.37,530.95 L545.07,531.27 L545.77,531.58 L546.48,531.9 L547.18,532.21 L547.88,532.51 L548.59,532.82 L549.29,533.12 L549.99,533.42 L550.7,533.72 L551.4,534.01 L552.1,534.3" fill="none" stroke="#ff1a1a" stroke-width="1.55" stroke-linejoin="round" stroke-linecap="round"/>
<text transform="translate(17.3,428.95) rotate(-90) scale(1.0677,1)" font-size="23.06" font-family='"Liberation Sans", "DejaVu Sans", sans-serif' font-weight="normal" fill="#1a1a1a">Ω</text>
<text transform="translate(15.01,403.64) rotate(-90) scale(1.1219,1)" font-size="17.82" font-family='"Liberation Sans", "DejaVu Sans", sans-serif' font-weight="normal" fill="#1a1a1a">(</text>
<text transform="translate(17.12,396.47) rotate(-90) scale(0.9789,1)" font-size="18.44" font-family='"Liberation Sans", "DejaVu Sans", sans-serif' font-weight="normal" fill="#1a1a1a">cm</text>
<text transform="translate(7.7,371.66) rotate(-90) scale(1.3374,1)" font-size="7.70" font-family='"Liberation Sans", "DejaVu Sans", sans-serif' font-weight="normal" fill="#1a1a1a">-1</text>
<text transform="translate(15.01,361.73) rotate(-90) scale(1.2277,1)" font-size="17.82" font-family='"Liberation Sans", "DejaVu Sans", sans-serif' font-weight="normal" fill="#1a1a1a">)</text>
<text transform="translate(311.2,428.95) rotate(-90) scale(1.0677,1)" font-size="23.06" font-family='"Liberation Sans", "DejaVu Sans", sans-serif' font-weight="normal" fill="#1a1a1a">Ω</text>
<text transform="translate(308.91,403.64) rotate(-90) scale(1.1219,1)" font-size="17.82" font-family='"Liberation Sans", "DejaVu Sans", sans-serif' font-weight="normal" fill="#1a1a1a">(</text>
<text transform="translate(311.02,396.47) rotate(-90) scale(0.9789,1)" font-size="18.44" font-family='"Liberation Sans", "DejaVu Sans", sans-serif' font-weight="normal" fill="#1a1a1a">cm</text>
<text transform="translate(301.6,371.66) rotate(-90) scale(1.3374,1)" font-size="7.70" font-family='"Liberation Sans", "DejaVu Sans", sans-serif' font-weight="normal" fill="#1a1a1a">-1</text>
<text transform="translate(308.91,361.73) rotate(-90) scale(1.2277,1)" font-size="17.82" font-family='"Liberation Sans", "DejaVu Sans", sans-serif' font-weight="normal" fill="#1a1a1a">)</text>
<circle cx="262.8" cy="261.6" r="2.6" fill="#000"/>
<circle cx="262.8" cy="300.6" r="2.6" fill="#000"/>
<circle cx="262.8" cy="342.4" r="2.6" fill="#000"/>
<circle cx="262.8" cy="362.1" r="2.6" fill="#000"/>
<circle cx="552.3" cy="304.3" r="2.6" fill="#000"/>
<circle cx="552.3" cy="401.6" r="2.6" fill="#000"/>
<text transform="translate(269.57,267.9) scale(0.8721,1)" font-size="20.06" font-family='"Liberation Sans", "DejaVu Sans", sans-serif' font-weight="normal" fill="#1a1a1a">A</text>
<text transform="translate(281.44,273.91) scale(1.2144,1)" font-size="9.18" font-family='"Liberation Sans", "DejaVu Sans", sans-serif' font-weight="normal" fill="#1a1a1a">2u</text>
<text transform="translate(269.57,303) scale(0.8850,1)" font-size="19.77" font-family='"Liberation Sans", "DejaVu Sans", sans-serif' font-weight="normal" fill="#1a1a1a">A</text>
<text transform="translate(281.29,308.63) scale(0.9758,1)" font-size="9.49" font-family='"Liberation Sans", "DejaVu Sans", sans-serif' font-weight="normal" fill="#1a1a1a">1g</text>
<text transform="translate(269.26,346.1) scale(0.6393,1)" font-size="19.91" font-family='"Liberation Sans", "DejaVu Sans", sans-serif' font-weight="normal" fill="#1a1a1a">E</text>
<text transform="translate(277.58,351.59) scale(1.2870,1)" font-size="9.68" font-family='"Liberation Sans", "DejaVu Sans", sans-serif' font-weight="normal" fill="#1a1a1a">g</text>
<text transform="translate(269.26,371) scale(0.6686,1)" font-size="19.04" font-family='"Liberation Sans", "DejaVu Sans", sans-serif' font-weight="normal" fill="#1a1a1a">E</text>
<text transform="translate(277.98,376.81) scale(1.2150,1)" font-size="9.11" font-family='"Liberation Sans", "DejaVu Sans", sans-serif' font-weight="normal" fill="#1a1a1a">u</text>
<text transform="translate(555.87,309.7) scale(0.8838,1)" font-size="19.62" font-family='"Liberation Sans", "DejaVu Sans", sans-serif' font-weight="normal" fill="#1a1a1a">A</text>
<text transform="translate(557.03,407.3) scale(0.6880,1)" font-size="19.04" font-family='"Liberation Sans", "DejaVu Sans", sans-serif' font-weight="normal" fill="#1a1a1a">E</text>
<text transform="translate(0.81,586.1) scale(0.9669,1)" font-size="20.99" font-family='"Liberation Sans", "DejaVu Sans", sans-serif' font-weight="bold" fill="#000">c</text>
<polygon points="46,634.65 46,627.8 49.1,627.8 42.6,616.6 36.1,627.8 39.2,627.8 39.2,634.65" fill="#5cf462"/>
<polygon points="46,634.65 46,635.68 39.2,635.68 39.2,634.65" fill="#5cf462" opacity="0.95"/>
<polygon points="46,636.36 46,637.39 39.2,637.39 39.2,636.36" fill="#5cf462" opacity="0.78"/>
<polygon points="46,638.08 46,639.1 39.2,639.1 39.2,638.08" fill="#5cf462" opacity="0.61"/>
<polygon points="46,639.79 46,640.82 39.2,640.82 39.2,639.79" fill="#5cf462" opacity="0.44"/>
<polygon points="100.3,631.1 100.3,638 97.2,638 103.7,649.2 110.2,638 107.1,638 107.1,631.1" fill="#5cf462"/>
<polygon points="100.3,631.1 100.3,630.07 107.1,630.07 107.1,631.1" fill="#5cf462" opacity="0.95"/>
<polygon points="100.3,629.38 100.3,628.34 107.1,628.34 107.1,629.38" fill="#5cf462" opacity="0.78"/>
<polygon points="100.3,627.65 100.3,626.62 107.1,626.62 107.1,627.65" fill="#5cf462" opacity="0.61"/>
<polygon points="100.3,625.92 100.3,624.89 107.1,624.89 107.1,625.92" fill="#5cf462" opacity="0.44"/>
<line x1="42.6" y1="651.8" x2="103.7" y2="614" stroke="#000" stroke-width="1.6" />
<circle cx="72.8" cy="632.1" r="10.5" fill="url(#geC)" stroke="#000" stroke-width="0.9"/>
<circle cx="42.6" cy="651.8" r="7.5" fill="url(#oxC)" stroke="#000" stroke-width="0.9"/>
<circle cx="103.7" cy="614" r="7.5" fill="url(#oxC)" stroke="#000" stroke-width="0.9"/>
<text transform="translate(35.07,606.9) scale(0.9418,1)" font-size="18.90" font-family='"Liberation Sans", "DejaVu Sans", sans-serif' font-weight="normal" fill="#1a1a1a">A</text>
<text transform="translate(47.32,613.14) scale(0.8621,1)" font-size="10.39" font-family='"Liberation Sans", "DejaVu Sans", sans-serif' font-weight="normal" fill="#1a1a1a">1g</text>
<text transform="translate(35.3,689.6) scale(1.0301,1)" font-size="16.86" font-family='"Liberation Sans", "DejaVu Sans", sans-serif' font-weight="normal" fill="#1a1a1a">568.2 cm</text>
<text transform="translate(110.35,684.3) scale(1.3283,1)" font-size="5.96" font-family='"Liberation Sans", "DejaVu Sans", sans-serif' font-weight="normal" fill="#1a1a1a">-1</text>
<polygon points="86.8,716.6 79.8,716.6 79.8,713.5 68.6,720 79.8,726.5 79.8,723.4 86.8,723.4" fill="#5cf462"/>
<polygon points="86.8,716.6 87.85,716.6 87.85,723.4 86.8,723.4" fill="#5cf462" opacity="0.95"/>
<polygon points="88.55,716.6 89.6,716.6 89.6,723.4 88.55,723.4" fill="#5cf462" opacity="0.78"/>
<polygon points="90.3,716.6 91.35,716.6 91.35,723.4 90.3,723.4" fill="#5cf462" opacity="0.61"/>
<polygon points="92.05,716.6 93.1,716.6 93.1,723.4 92.05,723.4" fill="#5cf462" opacity="0.44"/>
<polygon points="59.2,762.1 66.2,762.1 66.2,765.2 77.4,758.7 66.2,752.2 66.2,755.3 59.2,755.3" fill="#5cf462"/>
<polygon points="59.2,762.1 58.15,762.1 58.15,755.3 59.2,755.3" fill="#5cf462" opacity="0.95"/>
<polygon points="57.45,762.1 56.4,762.1 56.4,755.3 57.45,755.3" fill="#5cf462" opacity="0.78"/>
<polygon points="55.7,762.1 54.65,762.1 54.65,755.3 55.7,755.3" fill="#5cf462" opacity="0.61"/>
<polygon points="53.95,762.1 52.9,762.1 52.9,755.3 53.95,755.3" fill="#5cf462" opacity="0.44"/>
<line x1="42.6" y1="757.7" x2="103.7" y2="720" stroke="#000" stroke-width="1.6" />
<circle cx="72.8" cy="738" r="10.5" fill="url(#geC)" stroke="#000" stroke-width="0.9"/>
<circle cx="42.6" cy="757.7" r="7.5" fill="url(#oxC)" stroke="#000" stroke-width="0.9"/>
<circle cx="103.7" cy="720" r="7.5" fill="url(#oxC)" stroke="#000" stroke-width="0.9"/>
<text transform="translate(35.03,727.9) scale(0.6880,1)" font-size="19.04" font-family='"Liberation Sans", "DejaVu Sans", sans-serif' font-weight="normal" fill="#1a1a1a">E</text>
<text transform="translate(43.49,734.2) scale(1.1520,1)" font-size="10.62" font-family='"Liberation Sans", "DejaVu Sans", sans-serif' font-weight="normal" fill="#1a1a1a">g</text>
<text transform="translate(35.09,788.6) scale(1.0584,1)" font-size="16.72" font-family='"Liberation Sans", "DejaVu Sans", sans-serif' font-weight="normal" fill="#1a1a1a">466.0 cm</text>
<text transform="translate(111.69,782.7) scale(1.3584,1)" font-size="5.09" font-family='"Liberation Sans", "DejaVu Sans", sans-serif' font-weight="normal" fill="#1a1a1a">-1</text>
<polygon points="501.5,616.6 501.5,610 504.6,610 498.1,598.8 491.6,610 494.7,610 494.7,616.6" fill="#5cf462"/>
<polygon points="501.5,616.6 501.5,617.59 494.7,617.59 494.7,616.6" fill="#5cf462" opacity="0.95"/>
<polygon points="501.5,618.25 501.5,619.24 494.7,619.24 494.7,618.25" fill="#5cf462" opacity="0.78"/>
<polygon points="501.5,619.9 501.5,620.89 494.7,620.89 494.7,619.9" fill="#5cf462" opacity="0.61"/>
<polygon points="501.5,621.55 501.5,622.54 494.7,622.54 494.7,621.55" fill="#5cf462" opacity="0.44"/>
<polygon points="525.2,636.05 525.2,643 522.1,643 528.6,654.2 535.1,643 532,643 532,636.05" fill="#5cf462"/>
<polygon points="525.2,636.05 525.2,635.01 532,635.01 532,636.05" fill="#5cf462" opacity="0.95"/>
<polygon points="525.2,634.31 525.2,633.27 532,633.27 532,634.31" fill="#5cf462" opacity="0.78"/>
<polygon points="525.2,632.57 525.2,631.53 532,631.53 532,632.57" fill="#5cf462" opacity="0.61"/>
<polygon points="525.2,630.84 525.2,629.79 532,629.79 532,630.84" fill="#5cf462" opacity="0.44"/>
<line x1="498.1" y1="636.9" x2="528.6" y2="618.7" stroke="#000" stroke-width="1.6" />
<circle cx="498.1" cy="636.9" r="10.5" fill="url(#geC)" stroke="#000" stroke-width="0.9"/>
<circle cx="528.6" cy="618.7" r="7.6" fill="url(#oxC)" stroke="#000" stroke-width="0.9"/>
<text transform="translate(472.86,607.9) scale(0.9354,1)" font-size="19.19" font-family='"Liberation Sans", "DejaVu Sans", sans-serif' font-weight="normal" fill="#1a1a1a">A</text>
<text transform="translate(472.24,678.6) scale(0.9897,1)" font-size="16.72" font-family='"Liberation Sans", "DejaVu Sans", sans-serif' font-weight="normal" fill="#1a1a1a">559.1cm</text>
<text transform="translate(539.05,672.7) scale(1.3615,1)" font-size="5.81" font-family='"Liberation Sans", "DejaVu Sans", sans-serif' font-weight="normal" fill="#1a1a1a">-1</text>
<polygon points="514.05,727.6 506.8,727.6 506.8,724.5 495.6,731 506.8,737.5 506.8,734.4 514.05,734.4" fill="#5cf462"/>
<polygon points="514.05,727.6 515.14,727.6 515.14,734.4 514.05,734.4" fill="#5cf462" opacity="0.95"/>
<polygon points="515.86,727.6 516.95,727.6 516.95,734.4 515.86,734.4" fill="#5cf462" opacity="0.78"/>
<polygon points="517.67,727.6 518.76,727.6 518.76,734.4 517.67,734.4" fill="#5cf462" opacity="0.61"/>
<polygon points="519.49,727.6 520.57,727.6 520.57,734.4 519.49,734.4" fill="#5cf462" opacity="0.44"/>
<polygon points="518.55,752.5 525.6,752.5 525.6,755.6 536.8,749.1 525.6,742.6 525.6,745.7 518.55,745.7" fill="#5cf462"/>
<polygon points="518.55,752.5 517.49,752.5 517.49,745.7 518.55,745.7" fill="#5cf462" opacity="0.95"/>
<polygon points="516.79,752.5 515.73,752.5 515.73,745.7 516.79,745.7" fill="#5cf462" opacity="0.78"/>
<polygon points="515.02,752.5 513.97,752.5 513.97,745.7 515.02,745.7" fill="#5cf462" opacity="0.61"/>
<polygon points="513.26,752.5 512.2,752.5 512.2,745.7 513.26,745.7" fill="#5cf462" opacity="0.44"/>
<line x1="498.5" y1="749.1" x2="529.5" y2="731" stroke="#000" stroke-width="1.6" />
<circle cx="498.5" cy="749.1" r="10.5" fill="url(#geC)" stroke="#000" stroke-width="0.9"/>
<circle cx="529.5" cy="731" r="7.6" fill="url(#oxC)" stroke="#000" stroke-width="0.9"/>
<text transform="translate(472.93,729) scale(0.6676,1)" font-size="19.62" font-family='"Liberation Sans", "DejaVu Sans", sans-serif' font-weight="normal" fill="#1a1a1a">E</text>
<text transform="translate(472.29,789.6) scale(0.9624,1)" font-size="16.61" font-family='"Liberation Sans", "DejaVu Sans", sans-serif' font-weight="normal" fill="#1a1a1a">322.1 cm</text>
<text transform="translate(542.14,783.9) scale(1.3831,1)" font-size="5.81" font-family='"Liberation Sans", "DejaVu Sans", sans-serif' font-weight="normal" fill="#1a1a1a">-1</text>
<rect x="162.7" y="595.8" width="269.9" height="193.9" fill="none" stroke="#333" stroke-width="1.3"/>
<line x1="162.7" y1="595.8" x2="162.7" y2="602.8" stroke="#333" stroke-width="1.2" />
<line x1="162.7" y1="789.7" x2="162.7" y2="782.7" stroke="#333" stroke-width="1.2" />
<text transform="translate(148.96,807.85) scale(1.0895,1)" font-size="15.11" font-family='"Liberation Sans", "DejaVu Sans", sans-serif' fill="#222">100</text>
<line x1="185.19" y1="595.8" x2="185.19" y2="599.3" stroke="#333" stroke-width="1.2" />
<line x1="185.19" y1="789.7" x2="185.19" y2="786.2" stroke="#333" stroke-width="1.2" />
<line x1="207.68" y1="595.8" x2="207.68" y2="602.8" stroke="#333" stroke-width="1.2" />
<line x1="207.68" y1="789.7" x2="207.68" y2="782.7" stroke="#333" stroke-width="1.2" />
<text transform="translate(194.16,807.85) scale(1.0895,1)" font-size="15.11" font-family='"Liberation Sans", "DejaVu Sans", sans-serif' fill="#222">200</text>
<line x1="230.18" y1="595.8" x2="230.18" y2="599.3" stroke="#333" stroke-width="1.2" />
<line x1="230.18" y1="789.7" x2="230.18" y2="786.2" stroke="#333" stroke-width="1.2" />
<line x1="252.67" y1="595.8" x2="252.67" y2="602.8" stroke="#333" stroke-width="1.2" />
<line x1="252.67" y1="789.7" x2="252.67" y2="782.7" stroke="#333" stroke-width="1.2" />
<text transform="translate(239.24,807.85) scale(1.0895,1)" font-size="15.11" font-family='"Liberation Sans", "DejaVu Sans", sans-serif' fill="#222">300</text>
<line x1="275.16" y1="595.8" x2="275.16" y2="599.3" stroke="#333" stroke-width="1.2" />
<line x1="275.16" y1="789.7" x2="275.16" y2="786.2" stroke="#333" stroke-width="1.2" />
<line x1="297.65" y1="595.8" x2="297.65" y2="602.8" stroke="#333" stroke-width="1.2" />
<line x1="297.65" y1="789.7" x2="297.65" y2="782.7" stroke="#333" stroke-width="1.2" />
<text transform="translate(284.35,807.85) scale(1.0895,1)" font-size="15.11" font-family='"Liberation Sans", "DejaVu Sans", sans-serif' fill="#222">400</text>
<line x1="320.14" y1="595.8" x2="320.14" y2="599.3" stroke="#333" stroke-width="1.2" />
<line x1="320.14" y1="789.7" x2="320.14" y2="786.2" stroke="#333" stroke-width="1.2" />
<line x1="342.63" y1="595.8" x2="342.63" y2="602.8" stroke="#333" stroke-width="1.2" />
<line x1="342.63" y1="789.7" x2="342.63" y2="782.7" stroke="#333" stroke-width="1.2" />
<text transform="translate(329.19,807.85) scale(1.0895,1)" font-size="15.11" font-family='"Liberation Sans", "DejaVu Sans", sans-serif' fill="#222">500</text>
<line x1="365.12" y1="595.8" x2="365.12" y2="599.3" stroke="#333" stroke-width="1.2" />
<line x1="365.12" y1="789.7" x2="365.12" y2="786.2" stroke="#333" stroke-width="1.2" />
<line x1="387.62" y1="595.8" x2="387.62" y2="602.8" stroke="#333" stroke-width="1.2" />
<line x1="387.62" y1="789.7" x2="387.62" y2="782.7" stroke="#333" stroke-width="1.2" />
<text transform="translate(374.08,807.85) scale(1.0895,1)" font-size="15.11" font-family='"Liberation Sans", "DejaVu Sans", sans-serif' fill="#222">600</text>
<line x1="410.11" y1="595.8" x2="410.11" y2="599.3" stroke="#333" stroke-width="1.2" />
<line x1="410.11" y1="789.7" x2="410.11" y2="786.2" stroke="#333" stroke-width="1.2" />
<line x1="432.6" y1="595.8" x2="432.6" y2="602.8" stroke="#333" stroke-width="1.2" />
<line x1="432.6" y1="789.7" x2="432.6" y2="782.7" stroke="#333" stroke-width="1.2" />
<text transform="translate(418.06,807.85) scale(1.0895,1)" font-size="15.11" font-family='"Liberation Sans", "DejaVu Sans", sans-serif' fill="#222">700</text>
<polyline points="162.7,743.7 164.7,743.7 166.7,743.7 168.7,743.7 170.7,743.7 172.7,743.7 174.7,743.7 176.7,743.7 178.7,743.7 180.7,743.7 182.7,743.7 184.7,743.7 186.7,743.7 188.7,743.7 190.7,743.7 192.7,743.7 194.7,743.7 196.7,743.7 198.7,743.7 200.7,743.7 202.7,743.7 204.7,743.7 206.7,743.7 208.7,743.7 210.7,743.7 212.7,743.7 214.7,743.7 216.7,743.7 218.7,743.7 220.7,743.7 222.7,743.7 224.7,743.7 226.7,743.69 228.7,743.69 230.7,743.69 232.7,743.69 234.7,743.69 236.7,743.69 238.7,743.69 240.7,743.69 242.7,743.68 244.7,743.68 246.7,743.68 248.7,743.67 250.7,743.66 252.7,743.64 254.7,743.61 254.8,743.61 255.3,743.6 255.8,743.58 256.3,743.56 256.7,743.54 256.8,743.54 257.3,743.51 257.8,743.47 258.3,743.42 258.7,743.36 258.8,743.34 259.3,743.24 259.8,743.07 260.3,742.8 260.45,742.68 260.6,742.54 260.7,742.44 260.75,742.37 260.9,742.16 261.05,741.9 261.2,741.57 261.35,741.13 261.5,740.55 261.65,739.75 261.8,738.62 261.95,736.97 261.99,736.4 262.03,735.76 262.07,735.04 262.11,734.23 262.15,733.31 262.19,732.27 262.23,731.08 262.27,729.73 262.31,728.19 262.35,726.43 262.39,724.43 262.43,722.18 262.47,719.65 262.51,716.86 262.55,713.85 262.59,710.68 262.63,707.52 262.67,704.55 262.7,702.62 262.71,702.05 262.75,700.29 262.79,699.48 262.83,699.75 262.87,701.06 262.91,703.23 262.95,705.99 262.99,709.09 263.03,712.27 263.07,715.38 263.11,718.29 263.15,720.95 263.19,723.34 263.23,725.46 263.27,727.34 263.31,728.98 263.35,730.43 263.39,731.69 263.43,732.81 263.47,733.79 263.51,734.65 263.55,735.41 263.59,736.09 263.63,736.69 263.67,737.23 263.71,737.71 263.75,738.14 263.79,738.53 263.83,738.88 263.98,739.93 264.13,740.68 264.28,741.23 264.43,741.64 264.58,741.96 264.7,742.16 264.73,742.21 264.88,742.41 265.03,742.57 265.18,742.71 265.33,742.82 265.48,742.91 265.63,742.99 265.78,743.06 265.93,743.12 266.43,743.27 266.7,743.32 266.93,743.36 267.43,743.43 267.93,743.48 268.43,743.52 268.7,743.53 268.93,743.55 269.43,743.57 269.93,743.59 270.43,743.6 270.7,743.61 272.7,743.64 274.7,743.66 276.7,743.67 278.7,743.68 280.7,743.68 282.7,743.68 284.7,743.69 286.7,743.69 288.7,743.69 290.7,743.69 292.7,743.69 294.7,743.69 296.7,743.69 298.7,743.69 300.7,743.69 302.7,743.69 304.7,743.69 306.7,743.69 308.7,743.69 310.7,743.69 312.7,743.69 314.7,743.69 316.7,743.69 318.7,743.69 320.7,743.69 322.7,743.69 324.7,743.69 326.7,743.69 328.7,743.69 330.7,743.69 332.7,743.69 334.7,743.68 336.7,743.68 338.7,743.68 340.7,743.68 342.7,743.67 344.7,743.67 346.7,743.66 348.7,743.66 350.7,743.65 352.7,743.63 354.7,743.61 356.7,743.58 358.7,743.54 360.7,743.45 361.2,743.42 361.7,743.38 362.2,743.33 362.7,743.27 363.2,743.2 363.7,743.1 364.2,742.98 364.7,742.81 365.2,742.58 365.7,742.24 366.2,741.71 366.7,740.86 366.85,740.49 367,740.05 367.15,739.52 367.3,738.85 367.45,738.02 367.6,736.96 367.75,735.58 367.9,733.74 368.05,731.22 368.2,727.65 368.35,722.43 368.39,720.63 368.43,718.61 368.47,716.34 368.51,713.78 368.55,710.87 368.59,707.57 368.63,703.82 368.67,699.55 368.7,695.95 368.71,694.67 368.75,689.12 368.79,682.82 368.83,675.69 368.87,667.71 368.91,658.89 368.95,649.35 368.99,639.36 369.03,629.35 369.07,619.98 369.11,612.08 369.15,606.5 369.19,603.96 369.23,604.81 369.27,608.94 369.31,615.79 369.35,624.54 369.39,634.32 369.43,644.39 369.47,654.2 369.51,663.4 369.55,671.81 369.59,679.36 369.63,686.07 369.67,691.99 369.71,697.19 369.75,701.75 369.79,705.76 369.83,709.27 369.87,712.37 369.91,715.1 369.95,717.51 369.99,719.65 370.03,721.56 370.07,723.25 370.11,724.77 370.15,726.14 370.19,727.37 370.23,728.48 370.38,731.79 370.53,734.15 370.68,735.89 370.7,736.08 370.83,737.2 370.98,738.2 371.13,739 371.28,739.63 371.43,740.15 371.58,740.57 371.73,740.92 371.88,741.22 372.03,741.47 372.18,741.69 372.33,741.87 372.7,742.24 372.83,742.34 373.33,742.64 373.83,742.86 374.33,743.01 374.7,743.1 374.83,743.13 375.33,743.22 375.83,743.29 376.33,743.34 376.7,743.38 376.83,743.39 378.7,743.5 380.7,743.56 382.7,743.6 384.7,743.62 386.7,743.64 388.7,743.65 390.7,743.66 392.7,743.67 394.7,743.67 396.7,743.68 398.7,743.68 400.7,743.68 402.7,743.68 404.7,743.69 406.7,743.69 408.7,743.69 410.7,743.69 412.7,743.69 414.7,743.69 416.7,743.69 418.7,743.69 420.7,743.69 422.7,743.69 424.7,743.69 426.7,743.69 428.7,743.69 430.7,743.7 432.6,743.7" fill="none" stroke="#ff1a1a" stroke-width="2.1" stroke-linejoin="round"/>
<polyline points="162.7,779.2 164.7,779.2 166.7,779.2 168.7,779.2 170.7,779.2 172.7,779.2 174.7,779.2 176.7,779.2 178.7,779.2 180.7,779.2 182.7,779.2 184.7,779.2 186.7,779.2 188.7,779.2 190.7,779.2 192.7,779.2 194.7,779.2 196.7,779.2 198.7,779.2 200.7,779.2 202.7,779.2 204.7,779.2 206.7,779.2 208.7,779.2 210.7,779.2 212.7,779.2 214.7,779.2 216.7,779.2 218.7,779.2 220.7,779.2 222.7,779.2 224.7,779.2 226.7,779.2 228.7,779.2 230.7,779.2 232.7,779.2 234.7,779.2 236.7,779.2 238.7,779.2 240.7,779.2 242.7,779.2 244.7,779.2 246.7,779.2 248.7,779.2 250.7,779.2 252.7,779.2 254.7,779.2 256.7,779.2 258.7,779.2 260.7,779.2 262.7,779.2 264.7,779.2 266.7,779.2 268.7,779.2 270.7,779.2 272.7,779.2 274.7,779.2 276.7,779.2 278.7,779.2 280.7,779.2 282.7,779.2 284.7,779.2 286.7,779.2 288.7,779.2 290.7,779.2 292.7,779.2 294.7,779.2 296.7,779.2 298.7,779.2 300.7,779.2 302.7,779.2 304.7,779.2 306.7,779.2 308.7,779.2 310.7,779.2 312.7,779.2 314.7,779.19 316.7,779.19 318.7,779.19 320.7,779.19 322.7,779.19 324.7,779.19 326.7,779.19 328.7,779.19 330.7,779.19 332.7,779.19 334.7,779.19 336.7,779.19 338.7,779.19 340.7,779.18 342.7,779.18 344.7,779.18 346.7,779.18 348.7,779.17 350.7,779.17 352.7,779.16 354.7,779.15 356.7,779.14 358.7,779.12 360.7,779.09 362.7,779.04 364.7,778.96 365.25,778.93 365.75,778.89 366.25,778.84 366.7,778.79 366.75,778.78 367.25,778.71 367.75,778.62 368.25,778.5 368.7,778.36 368.75,778.34 369.25,778.11 369.75,777.78 370.25,777.27 370.7,776.55 370.75,776.44 370.9,776.09 371.05,775.66 371.2,775.14 371.35,774.5 371.5,773.69 371.65,772.66 371.8,771.32 371.95,769.53 372.1,767.08 372.25,763.63 372.4,758.55 372.44,756.81 372.48,754.85 372.52,752.64 372.56,750.15 372.6,747.33 372.64,744.13 372.68,740.49 372.7,738.48 372.72,736.34 372.76,731.61 372.8,726.22 372.84,720.1 372.88,713.18 372.92,705.43 372.96,696.87 373,687.62 373.04,677.92 373.08,668.2 373.12,659.11 373.16,651.44 373.2,646.02 373.24,643.55 373.28,644.39 373.32,648.4 373.36,655.04 373.4,663.53 373.44,673.02 373.48,682.8 373.52,692.32 373.56,701.25 373.6,709.41 373.64,716.75 373.68,723.26 373.72,729.01 373.76,734.05 373.8,738.48 373.84,742.37 373.88,745.78 373.92,748.79 373.96,751.44 374,753.78 374.04,755.86 374.08,757.71 374.12,759.35 374.16,760.83 374.2,762.15 374.24,763.35 374.28,764.42 374.43,767.64 374.58,769.93 374.7,771.32 374.73,771.62 374.88,772.89 375.03,773.87 375.18,774.64 375.33,775.25 375.48,775.75 375.63,776.16 375.78,776.51 375.93,776.79 376.08,777.04 376.23,777.25 376.38,777.43 376.7,777.74 376.88,777.88 377.38,778.18 377.88,778.38 378.38,778.53 378.7,778.61 378.88,778.65 379.38,778.73 379.88,778.8 380.38,778.85 380.7,778.88 380.88,778.9 382.7,779 384.7,779.07 386.7,779.1 388.7,779.13 390.7,779.14 392.7,779.15 394.7,779.16 396.7,779.17 398.7,779.17 400.7,779.18 402.7,779.18 404.7,779.18 406.7,779.18 408.7,779.19 410.7,779.19 412.7,779.19 414.7,779.19 416.7,779.19 418.7,779.19 420.7,779.19 422.7,779.19 424.7,779.19 426.7,779.19 428.7,779.19 430.7,779.19 432.6,779.2" fill="none" stroke="#1f3cff" stroke-width="2.1" stroke-linejoin="round"/>
<path d="M325.9,779.2 L327.0,776.1 L327.9,776.1 L329.0,779.2 Z" fill="#1f3cff"/>
<rect x="250.6" y="749.2" width="41.2" height="27" fill="#fff" stroke="#333" stroke-width="1.1"/>
<polyline points="251.1,771.5 253.1,771.5 255.1,771.5 257.1,771.5 259.1,771.49 261.1,771.49 263.1,771.49 263.65,771.49 264.15,771.48 264.65,771.48 265.1,771.48 265.15,771.48 265.65,771.47 266.15,771.47 266.65,771.46 267.1,771.45 267.15,771.45 267.65,771.44 268.15,771.42 268.65,771.4 269.1,771.36 269.15,771.35 269.3,771.33 269.45,771.31 269.6,771.28 269.75,771.24 269.9,771.2 270.05,771.14 270.2,771.07 270.35,770.97 270.5,770.83 270.65,770.63 270.8,770.33 270.84,770.23 270.88,770.11 270.92,769.98 270.96,769.82 271,769.65 271.04,769.45 271.08,769.21 271.1,769.08 271.12,768.94 271.16,768.62 271.2,768.25 271.24,767.82 271.28,767.32 271.32,766.73 271.36,766.05 271.4,765.27 271.44,764.42 271.48,763.51 271.52,762.62 271.56,761.82 271.6,761.24 271.64,760.96 271.68,761.05 271.72,761.49 271.76,762.2 271.8,763.06 271.84,763.97 271.88,764.86 271.92,765.67 271.96,766.4 272,767.03 272.04,767.58 272.08,768.05 272.12,768.45 272.16,768.79 272.2,769.08 272.24,769.33 272.28,769.55 272.32,769.74 272.36,769.9 272.4,770.04 272.44,770.17 272.48,770.28 272.52,770.38 272.56,770.47 272.6,770.54 272.64,770.61 272.68,770.67 272.83,770.86 272.98,770.99 273.1,771.07 273.13,771.08 273.28,771.15 273.43,771.21 273.58,771.25 273.73,771.29 273.88,771.31 274.03,771.33 274.18,771.35 274.33,771.37 274.48,771.38 274.63,771.39 274.78,771.4 275.1,771.42 275.28,771.43 275.78,771.44 276.28,771.46 276.78,771.46 277.1,771.47 277.28,771.47 277.78,771.47 278.28,771.48 278.78,771.48 279.1,771.48 279.28,771.48 281.1,771.49 283.1,771.49 285.1,771.49 287.1,771.5 289.1,771.5 291.1,771.5 291.3,771.5" fill="none" stroke="#1f3cff" stroke-width="2.1" stroke-linejoin="round"/>
<path d="M326.9,775 C324,766 315,761.7 301.5,761.9" fill="none" stroke="#000" stroke-width="1"/>
<polygon points="296.2,762 303.2,758 301.6,762 303.2,766" fill="#000"/>
<text transform="translate(165.11,739.04) scale(1.0059,1)" font-size="16.75" font-family='"Liberation Sans", "DejaVu Sans", sans-serif' font-weight="normal" fill="#1a1a1a">buckled</text>
<text transform="translate(163.59,776.1) scale(0.8171,1)" font-size="17.88" font-family='"Liberation Sans", "DejaVu Sans", sans-serif' font-weight="normal" fill="#1a1a1a">1T</text>
<text transform="translate(266.78,708.2) scale(0.7116,1)" font-size="19.19" font-family='"Liberation Sans", "DejaVu Sans", sans-serif' font-weight="normal" fill="#1a1a1a">E</text>
<text transform="translate(372.97,613.9) scale(0.8976,1)" font-size="18.31" font-family='"Liberation Sans", "DejaVu Sans", sans-serif' font-weight="normal" fill="#1a1a1a">A</text>
<text transform="translate(379.27,654.5) scale(0.8700,1)" font-size="18.90" font-family='"Liberation Sans", "DejaVu Sans", sans-serif' font-weight="normal" fill="#1a1a1a">A</text>
<text transform="translate(390.71,660.46) scale(0.9216,1)" font-size="9.83" font-family='"Liberation Sans", "DejaVu Sans", sans-serif' font-weight="normal" fill="#1a1a1a">1g</text>
<text transform="translate(328.83,768.7) scale(0.7405,1)" font-size="19.19" font-family='"Liberation Sans", "DejaVu Sans", sans-serif' font-weight="normal" fill="#1a1a1a">E</text>
<text transform="translate(337.69,774.7) scale(1.3384,1)" font-size="9.14" font-family='"Liberation Sans", "DejaVu Sans", sans-serif' font-weight="normal" fill="#1a1a1a">g</text>
<text transform="translate(215.41,830.4) scale(0.8870,1)" font-size="20.49" font-family='"Liberation Sans", "DejaVu Sans", sans-serif' font-weight="normal" fill="#1a1a1a">Raman Shift</text>
<text transform="translate(322.69,829.48) scale(1.0356,1)" font-size="20.39" font-family='"Liberation Sans", "DejaVu Sans", sans-serif' font-weight="normal" fill="#1a1a1a">(</text>
<text transform="translate(330.22,830.4) scale(1.0850,1)" font-size="19.12" font-family='"Liberation Sans", "DejaVu Sans", sans-serif' font-weight="normal" fill="#1a1a1a">cm</text>
<text transform="translate(356.8,821.9) scale(0.9725,1)" font-size="9.30" font-family='"Liberation Sans", "DejaVu Sans", sans-serif' font-weight="normal" fill="#1a1a1a">-1</text>
<text transform="translate(367.38,829.48) scale(1.0356,1)" font-size="20.39" font-family='"Liberation Sans", "DejaVu Sans", sans-serif' font-weight="normal" fill="#1a1a1a">)</text>
<text transform="translate(149.4,765.63) rotate(-90) scale(0.8956,1)" font-size="22.24" font-family='"Liberation Sans", "DejaVu Sans", sans-serif' font-weight="normal" fill="#1a1a1a">R. Intensity (a. u.)</text>
</svg></body></html>
